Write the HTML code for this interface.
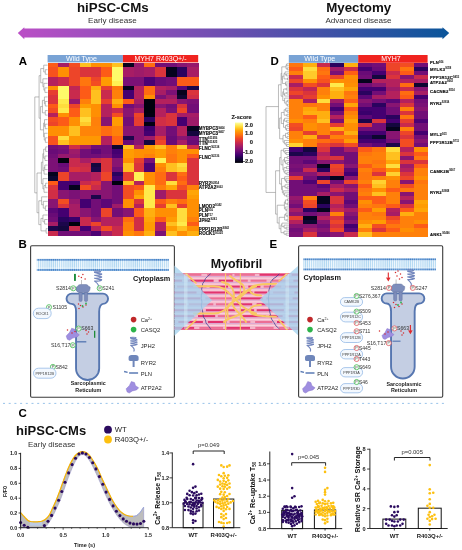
<!DOCTYPE html>
<html><head><meta charset="utf-8"><title>Figure</title>
<style>html,body{margin:0;padding:0;background:#fff;}body{width:462px;height:550px;overflow:hidden;}svg{display:block;}</style>
</head><body>
<svg width="462" height="550" viewBox="0 0 462 550">
<rect width="462" height="550" fill="#fff"/>
<defs><linearGradient id="ag" x1="17" x2="449" y1="0" y2="0" gradientUnits="userSpaceOnUse">
<stop offset="0" stop-color="#bb4fc6"/><stop offset="0.5" stop-color="#6a4fb0"/><stop offset="1" stop-color="#0a559a"/></linearGradient></defs>
<path d="M17.8 32.9 L24.3 27.2 L24.3 28.4 L442.5 28.4 L442.5 27.2 L449.2 32.9 L442.5 39.3 L442.5 37.4 L24.3 37.4 L24.3 39.3 Z" fill="url(#ag)"/>
<text x="112.8" y="11.9" text-anchor="middle" style="font-family:'Liberation Sans',Arial,sans-serif;font-weight:bold;font-size:13.3px" fill="#111">hiPSC-CMs</text>
<text x="112.4" y="23.4" text-anchor="middle" style="font-family:'Liberation Sans',Arial,sans-serif;font-size:8.1px" fill="#333">Early disease</text>
<text x="358.7" y="11.9" text-anchor="middle" style="font-family:'Liberation Sans',Arial,sans-serif;font-weight:bold;font-size:13.3px" fill="#111">Myectomy</text>
<text x="358.5" y="23.4" text-anchor="middle" style="font-family:'Liberation Sans',Arial,sans-serif;font-size:8.1px" fill="#333">Advanced disease</text>
<text x="18.8" y="64.7" style="font-family:'Liberation Sans',Arial,sans-serif;font-weight:bold;font-size:11.5px" fill="#000">A</text>
<text x="270.5" y="64.5" style="font-family:'Liberation Sans',Arial,sans-serif;font-weight:bold;font-size:11.5px" fill="#000">D</text>
<text x="18.5" y="248" style="font-family:'Liberation Sans',Arial,sans-serif;font-weight:bold;font-size:11.5px" fill="#000">B</text>
<text x="269.5" y="247.9" style="font-family:'Liberation Sans',Arial,sans-serif;font-weight:bold;font-size:11.5px" fill="#000">E</text>
<text x="18.5" y="416.8" style="font-family:'Liberation Sans',Arial,sans-serif;font-weight:bold;font-size:11.5px" fill="#000">C</text>
<g shape-rendering="crispEdges">
<rect x="47.60" y="62.90" width="11.06" height="4.84" fill="#fd5b17"/>
<rect x="58.36" y="62.90" width="11.06" height="4.84" fill="#a71d65"/>
<rect x="69.11" y="62.90" width="11.06" height="4.84" fill="#f34d22"/>
<rect x="79.87" y="62.90" width="11.06" height="4.84" fill="#ffc01f"/>
<rect x="90.63" y="62.90" width="11.06" height="4.84" fill="#ff8f03"/>
<rect x="101.38" y="62.90" width="11.06" height="4.84" fill="#ff8f03"/>
<rect x="112.14" y="62.90" width="11.06" height="4.84" fill="#ffc01f"/>
<rect x="122.90" y="62.90" width="11.06" height="4.84" fill="#05031d"/>
<rect x="133.66" y="62.90" width="11.06" height="4.84" fill="#96186d"/>
<rect x="144.41" y="62.90" width="11.06" height="4.84" fill="#ff6c11"/>
<rect x="155.17" y="62.90" width="11.06" height="4.84" fill="#720e77"/>
<rect x="165.93" y="62.90" width="11.06" height="4.84" fill="#720e77"/>
<rect x="176.68" y="62.90" width="11.06" height="4.84" fill="#881572"/>
<rect x="187.44" y="62.90" width="11.06" height="4.84" fill="#96186d"/>
<rect x="47.60" y="67.44" width="11.06" height="4.84" fill="#f7521e"/>
<rect x="58.36" y="67.44" width="11.06" height="4.84" fill="#ff8f03"/>
<rect x="69.11" y="67.44" width="11.06" height="4.84" fill="#ed4529"/>
<rect x="79.87" y="67.44" width="11.06" height="4.84" fill="#da343c"/>
<rect x="90.63" y="67.44" width="11.06" height="4.84" fill="#da343c"/>
<rect x="101.38" y="67.44" width="11.06" height="4.84" fill="#fd5b17"/>
<rect x="112.14" y="67.44" width="11.06" height="4.84" fill="#fefb69"/>
<rect x="122.90" y="67.44" width="11.06" height="4.84" fill="#a71d65"/>
<rect x="133.66" y="67.44" width="11.06" height="4.84" fill="#9e1b69"/>
<rect x="144.41" y="67.44" width="11.06" height="4.84" fill="#a71d65"/>
<rect x="155.17" y="67.44" width="11.06" height="4.84" fill="#da343c"/>
<rect x="165.93" y="67.44" width="11.06" height="4.84" fill="#05031d"/>
<rect x="176.68" y="67.44" width="11.06" height="4.84" fill="#2a035f"/>
<rect x="187.44" y="67.44" width="11.06" height="4.84" fill="#a71d65"/>
<rect x="47.60" y="71.98" width="11.06" height="4.84" fill="#f7521e"/>
<rect x="58.36" y="71.98" width="11.06" height="4.84" fill="#ff8f03"/>
<rect x="69.11" y="71.98" width="11.06" height="4.84" fill="#ed4529"/>
<rect x="79.87" y="71.98" width="11.06" height="4.84" fill="#da343c"/>
<rect x="90.63" y="71.98" width="11.06" height="4.84" fill="#da343c"/>
<rect x="101.38" y="71.98" width="11.06" height="4.84" fill="#fd5b17"/>
<rect x="112.14" y="71.98" width="11.06" height="4.84" fill="#fefb69"/>
<rect x="122.90" y="71.98" width="11.06" height="4.84" fill="#a71d65"/>
<rect x="133.66" y="71.98" width="11.06" height="4.84" fill="#9e1b69"/>
<rect x="144.41" y="71.98" width="11.06" height="4.84" fill="#a71d65"/>
<rect x="155.17" y="71.98" width="11.06" height="4.84" fill="#da343c"/>
<rect x="165.93" y="71.98" width="11.06" height="4.84" fill="#05031d"/>
<rect x="176.68" y="71.98" width="11.06" height="4.84" fill="#2a035f"/>
<rect x="187.44" y="71.98" width="11.06" height="4.84" fill="#a71d65"/>
<rect x="47.60" y="76.52" width="11.06" height="4.84" fill="#b4215d"/>
<rect x="58.36" y="76.52" width="11.06" height="4.84" fill="#c92a4d"/>
<rect x="69.11" y="76.52" width="11.06" height="4.84" fill="#ed4529"/>
<rect x="79.87" y="76.52" width="11.06" height="4.84" fill="#ff760e"/>
<rect x="90.63" y="76.52" width="11.06" height="4.84" fill="#ed4529"/>
<rect x="101.38" y="76.52" width="11.06" height="4.84" fill="#ff9c02"/>
<rect x="112.14" y="76.52" width="11.06" height="4.84" fill="#fefb69"/>
<rect x="122.90" y="76.52" width="11.06" height="4.84" fill="#7b1176"/>
<rect x="133.66" y="76.52" width="11.06" height="4.84" fill="#7b1176"/>
<rect x="144.41" y="76.52" width="11.06" height="4.84" fill="#4d0274"/>
<rect x="155.17" y="76.52" width="11.06" height="4.84" fill="#690b77"/>
<rect x="165.93" y="76.52" width="11.06" height="4.84" fill="#720e77"/>
<rect x="176.68" y="76.52" width="11.06" height="4.84" fill="#fd5b17"/>
<rect x="187.44" y="76.52" width="11.06" height="4.84" fill="#fd5b17"/>
<rect x="47.60" y="81.06" width="11.06" height="4.84" fill="#b4215d"/>
<rect x="58.36" y="81.06" width="11.06" height="4.84" fill="#c92a4d"/>
<rect x="69.11" y="81.06" width="11.06" height="4.84" fill="#ed4529"/>
<rect x="79.87" y="81.06" width="11.06" height="4.84" fill="#ff760e"/>
<rect x="90.63" y="81.06" width="11.06" height="4.84" fill="#f34d22"/>
<rect x="101.38" y="81.06" width="11.06" height="4.84" fill="#ff9c02"/>
<rect x="112.14" y="81.06" width="11.06" height="4.84" fill="#fff154"/>
<rect x="122.90" y="81.06" width="11.06" height="4.84" fill="#7b1176"/>
<rect x="133.66" y="81.06" width="11.06" height="4.84" fill="#7b1176"/>
<rect x="144.41" y="81.06" width="11.06" height="4.84" fill="#4d0274"/>
<rect x="155.17" y="81.06" width="11.06" height="4.84" fill="#690b77"/>
<rect x="165.93" y="81.06" width="11.06" height="4.84" fill="#720e77"/>
<rect x="176.68" y="81.06" width="11.06" height="4.84" fill="#fd5b17"/>
<rect x="187.44" y="81.06" width="11.06" height="4.84" fill="#fd5b17"/>
<rect x="47.60" y="85.60" width="11.06" height="4.84" fill="#ff8f03"/>
<rect x="58.36" y="85.60" width="11.06" height="4.84" fill="#fefb69"/>
<rect x="69.11" y="85.60" width="11.06" height="4.84" fill="#bf2655"/>
<rect x="79.87" y="85.60" width="11.06" height="4.84" fill="#fd5b17"/>
<rect x="90.63" y="85.60" width="11.06" height="4.84" fill="#ffaf0f"/>
<rect x="101.38" y="85.60" width="11.06" height="4.84" fill="#e63e30"/>
<rect x="112.14" y="85.60" width="11.06" height="4.84" fill="#ff760e"/>
<rect x="122.90" y="85.60" width="11.06" height="4.84" fill="#05031d"/>
<rect x="133.66" y="85.60" width="11.06" height="4.84" fill="#b4215d"/>
<rect x="144.41" y="85.60" width="11.06" height="4.84" fill="#ff6c11"/>
<rect x="155.17" y="85.60" width="11.06" height="4.84" fill="#b4215d"/>
<rect x="165.93" y="85.60" width="11.06" height="4.84" fill="#a71d65"/>
<rect x="176.68" y="85.60" width="11.06" height="4.84" fill="#5c0777"/>
<rect x="187.44" y="85.60" width="11.06" height="4.84" fill="#1c064b"/>
<rect x="47.60" y="90.14" width="11.06" height="4.84" fill="#e63e30"/>
<rect x="58.36" y="90.14" width="11.06" height="4.84" fill="#fefb69"/>
<rect x="69.11" y="90.14" width="11.06" height="4.84" fill="#c92a4d"/>
<rect x="79.87" y="90.14" width="11.06" height="4.84" fill="#fd5b17"/>
<rect x="90.63" y="90.14" width="11.06" height="4.84" fill="#ffc01f"/>
<rect x="101.38" y="90.14" width="11.06" height="4.84" fill="#c92a4d"/>
<rect x="112.14" y="90.14" width="11.06" height="4.84" fill="#ff800a"/>
<rect x="122.90" y="90.14" width="11.06" height="4.84" fill="#440071"/>
<rect x="133.66" y="90.14" width="11.06" height="4.84" fill="#b4215d"/>
<rect x="144.41" y="90.14" width="11.06" height="4.84" fill="#ff6c11"/>
<rect x="155.17" y="90.14" width="11.06" height="4.84" fill="#a71d65"/>
<rect x="165.93" y="90.14" width="11.06" height="4.84" fill="#7b1176"/>
<rect x="176.68" y="90.14" width="11.06" height="4.84" fill="#05031d"/>
<rect x="187.44" y="90.14" width="11.06" height="4.84" fill="#da343c"/>
<rect x="47.60" y="94.68" width="11.06" height="4.84" fill="#da343c"/>
<rect x="58.36" y="94.68" width="11.06" height="4.84" fill="#fefb69"/>
<rect x="69.11" y="94.68" width="11.06" height="4.84" fill="#c92a4d"/>
<rect x="79.87" y="94.68" width="11.06" height="4.84" fill="#fd5b17"/>
<rect x="90.63" y="94.68" width="11.06" height="4.84" fill="#ffc01f"/>
<rect x="101.38" y="94.68" width="11.06" height="4.84" fill="#c92a4d"/>
<rect x="112.14" y="94.68" width="11.06" height="4.84" fill="#ff800a"/>
<rect x="122.90" y="94.68" width="11.06" height="4.84" fill="#440071"/>
<rect x="133.66" y="94.68" width="11.06" height="4.84" fill="#b4215d"/>
<rect x="144.41" y="94.68" width="11.06" height="4.84" fill="#ff8f03"/>
<rect x="155.17" y="94.68" width="11.06" height="4.84" fill="#7b1176"/>
<rect x="165.93" y="94.68" width="11.06" height="4.84" fill="#9e1b69"/>
<rect x="176.68" y="94.68" width="11.06" height="4.84" fill="#0d0631"/>
<rect x="187.44" y="94.68" width="11.06" height="4.84" fill="#d02e46"/>
<rect x="47.60" y="99.22" width="11.06" height="4.84" fill="#da343c"/>
<rect x="58.36" y="99.22" width="11.06" height="4.84" fill="#ffea4b"/>
<rect x="69.11" y="99.22" width="11.06" height="4.84" fill="#96186d"/>
<rect x="79.87" y="99.22" width="11.06" height="4.84" fill="#ff800a"/>
<rect x="90.63" y="99.22" width="11.06" height="4.84" fill="#ffc01f"/>
<rect x="101.38" y="99.22" width="11.06" height="4.84" fill="#e63e30"/>
<rect x="112.14" y="99.22" width="11.06" height="4.84" fill="#ffaf0f"/>
<rect x="122.90" y="99.22" width="11.06" height="4.84" fill="#fd5b17"/>
<rect x="133.66" y="99.22" width="11.06" height="4.84" fill="#a71d65"/>
<rect x="144.41" y="99.22" width="11.06" height="4.84" fill="#01010d"/>
<rect x="155.17" y="99.22" width="11.06" height="4.84" fill="#b4215d"/>
<rect x="165.93" y="99.22" width="11.06" height="4.84" fill="#b4215d"/>
<rect x="176.68" y="99.22" width="11.06" height="4.84" fill="#881572"/>
<rect x="187.44" y="99.22" width="11.06" height="4.84" fill="#7b1176"/>
<rect x="47.60" y="103.76" width="11.06" height="4.84" fill="#fd5b17"/>
<rect x="58.36" y="103.76" width="11.06" height="4.84" fill="#ffdd3d"/>
<rect x="69.11" y="103.76" width="11.06" height="4.84" fill="#ed4529"/>
<rect x="79.87" y="103.76" width="11.06" height="4.84" fill="#ff9c02"/>
<rect x="90.63" y="103.76" width="11.06" height="4.84" fill="#ff8f03"/>
<rect x="101.38" y="103.76" width="11.06" height="4.84" fill="#b4215d"/>
<rect x="112.14" y="103.76" width="11.06" height="4.84" fill="#ff8f03"/>
<rect x="122.90" y="103.76" width="11.06" height="4.84" fill="#720e77"/>
<rect x="133.66" y="103.76" width="11.06" height="4.84" fill="#881572"/>
<rect x="144.41" y="103.76" width="11.06" height="4.84" fill="#01010d"/>
<rect x="155.17" y="103.76" width="11.06" height="4.84" fill="#881572"/>
<rect x="165.93" y="103.76" width="11.06" height="4.84" fill="#720e77"/>
<rect x="176.68" y="103.76" width="11.06" height="4.84" fill="#da343c"/>
<rect x="187.44" y="103.76" width="11.06" height="4.84" fill="#720e77"/>
<rect x="47.60" y="108.30" width="11.06" height="4.84" fill="#f34d22"/>
<rect x="58.36" y="108.30" width="11.06" height="4.84" fill="#ffea4b"/>
<rect x="69.11" y="108.30" width="11.06" height="4.84" fill="#fd5b17"/>
<rect x="79.87" y="108.30" width="11.06" height="4.84" fill="#ffc01f"/>
<rect x="90.63" y="108.30" width="11.06" height="4.84" fill="#ff8f03"/>
<rect x="101.38" y="108.30" width="11.06" height="4.84" fill="#b4215d"/>
<rect x="112.14" y="108.30" width="11.06" height="4.84" fill="#c92a4d"/>
<rect x="122.90" y="108.30" width="11.06" height="4.84" fill="#881572"/>
<rect x="133.66" y="108.30" width="11.06" height="4.84" fill="#a71d65"/>
<rect x="144.41" y="108.30" width="11.06" height="4.84" fill="#01010d"/>
<rect x="155.17" y="108.30" width="11.06" height="4.84" fill="#b4215d"/>
<rect x="165.93" y="108.30" width="11.06" height="4.84" fill="#7b1176"/>
<rect x="176.68" y="108.30" width="11.06" height="4.84" fill="#ed4529"/>
<rect x="187.44" y="108.30" width="11.06" height="4.84" fill="#720e77"/>
<rect x="47.60" y="112.84" width="11.06" height="4.84" fill="#b4215d"/>
<rect x="58.36" y="112.84" width="11.06" height="4.84" fill="#ff8f03"/>
<rect x="69.11" y="112.84" width="11.06" height="4.84" fill="#fd5b17"/>
<rect x="79.87" y="112.84" width="11.06" height="4.84" fill="#ffc01f"/>
<rect x="90.63" y="112.84" width="11.06" height="4.84" fill="#ff8f03"/>
<rect x="101.38" y="112.84" width="11.06" height="4.84" fill="#b4215d"/>
<rect x="112.14" y="112.84" width="11.06" height="4.84" fill="#f34d22"/>
<rect x="122.90" y="112.84" width="11.06" height="4.84" fill="#881572"/>
<rect x="133.66" y="112.84" width="11.06" height="4.84" fill="#ed4529"/>
<rect x="144.41" y="112.84" width="11.06" height="4.84" fill="#020112"/>
<rect x="155.17" y="112.84" width="11.06" height="4.84" fill="#b4215d"/>
<rect x="165.93" y="112.84" width="11.06" height="4.84" fill="#da343c"/>
<rect x="176.68" y="112.84" width="11.06" height="4.84" fill="#a71d65"/>
<rect x="187.44" y="112.84" width="11.06" height="4.84" fill="#a71d65"/>
<rect x="47.60" y="117.38" width="11.06" height="4.84" fill="#f34d22"/>
<rect x="58.36" y="117.38" width="11.06" height="4.84" fill="#fd5b17"/>
<rect x="69.11" y="117.38" width="11.06" height="4.84" fill="#ff8f03"/>
<rect x="79.87" y="117.38" width="11.06" height="4.84" fill="#ffdd3d"/>
<rect x="90.63" y="117.38" width="11.06" height="4.84" fill="#ff800a"/>
<rect x="101.38" y="117.38" width="11.06" height="4.84" fill="#881572"/>
<rect x="112.14" y="117.38" width="11.06" height="4.84" fill="#ff9c02"/>
<rect x="122.90" y="117.38" width="11.06" height="4.84" fill="#720e77"/>
<rect x="133.66" y="117.38" width="11.06" height="4.84" fill="#e63e30"/>
<rect x="144.41" y="117.38" width="11.06" height="4.84" fill="#2a035f"/>
<rect x="155.17" y="117.38" width="11.06" height="4.84" fill="#d02e46"/>
<rect x="165.93" y="117.38" width="11.06" height="4.84" fill="#da343c"/>
<rect x="176.68" y="117.38" width="11.06" height="4.84" fill="#440071"/>
<rect x="187.44" y="117.38" width="11.06" height="4.84" fill="#9e1b69"/>
<rect x="47.60" y="121.92" width="11.06" height="4.84" fill="#ed4529"/>
<rect x="58.36" y="121.92" width="11.06" height="4.84" fill="#fd5b17"/>
<rect x="69.11" y="121.92" width="11.06" height="4.84" fill="#ff8f03"/>
<rect x="79.87" y="121.92" width="11.06" height="4.84" fill="#ffca2a"/>
<rect x="90.63" y="121.92" width="11.06" height="4.84" fill="#ff800a"/>
<rect x="101.38" y="121.92" width="11.06" height="4.84" fill="#881572"/>
<rect x="112.14" y="121.92" width="11.06" height="4.84" fill="#ff9c02"/>
<rect x="122.90" y="121.92" width="11.06" height="4.84" fill="#720e77"/>
<rect x="133.66" y="121.92" width="11.06" height="4.84" fill="#e63e30"/>
<rect x="144.41" y="121.92" width="11.06" height="4.84" fill="#020112"/>
<rect x="155.17" y="121.92" width="11.06" height="4.84" fill="#d02e46"/>
<rect x="165.93" y="121.92" width="11.06" height="4.84" fill="#da343c"/>
<rect x="176.68" y="121.92" width="11.06" height="4.84" fill="#440071"/>
<rect x="187.44" y="121.92" width="11.06" height="4.84" fill="#9e1b69"/>
<rect x="47.60" y="126.46" width="11.06" height="4.84" fill="#ff8f03"/>
<rect x="58.36" y="126.46" width="11.06" height="4.84" fill="#ff8f03"/>
<rect x="69.11" y="126.46" width="11.06" height="4.84" fill="#ffc01f"/>
<rect x="79.87" y="126.46" width="11.06" height="4.84" fill="#ff8408"/>
<rect x="90.63" y="126.46" width="11.06" height="4.84" fill="#ff8408"/>
<rect x="101.38" y="126.46" width="11.06" height="4.84" fill="#ff6c11"/>
<rect x="112.14" y="126.46" width="11.06" height="4.84" fill="#ff800a"/>
<rect x="122.90" y="126.46" width="11.06" height="4.84" fill="#881572"/>
<rect x="133.66" y="126.46" width="11.06" height="4.84" fill="#881572"/>
<rect x="144.41" y="126.46" width="11.06" height="4.84" fill="#3a006c"/>
<rect x="155.17" y="126.46" width="11.06" height="4.84" fill="#a71d65"/>
<rect x="165.93" y="126.46" width="11.06" height="4.84" fill="#720e77"/>
<rect x="176.68" y="126.46" width="11.06" height="4.84" fill="#b4215d"/>
<rect x="187.44" y="126.46" width="11.06" height="4.84" fill="#05031d"/>
<rect x="47.60" y="131.00" width="11.06" height="4.84" fill="#ff8f03"/>
<rect x="58.36" y="131.00" width="11.06" height="4.84" fill="#ff8f03"/>
<rect x="69.11" y="131.00" width="11.06" height="4.84" fill="#ffc01f"/>
<rect x="79.87" y="131.00" width="11.06" height="4.84" fill="#ff8408"/>
<rect x="90.63" y="131.00" width="11.06" height="4.84" fill="#ff8408"/>
<rect x="101.38" y="131.00" width="11.06" height="4.84" fill="#ff6c11"/>
<rect x="112.14" y="131.00" width="11.06" height="4.84" fill="#ff800a"/>
<rect x="122.90" y="131.00" width="11.06" height="4.84" fill="#881572"/>
<rect x="133.66" y="131.00" width="11.06" height="4.84" fill="#881572"/>
<rect x="144.41" y="131.00" width="11.06" height="4.84" fill="#440071"/>
<rect x="155.17" y="131.00" width="11.06" height="4.84" fill="#a71d65"/>
<rect x="165.93" y="131.00" width="11.06" height="4.84" fill="#720e77"/>
<rect x="176.68" y="131.00" width="11.06" height="4.84" fill="#b4215d"/>
<rect x="187.44" y="131.00" width="11.06" height="4.84" fill="#14073e"/>
<rect x="47.60" y="135.54" width="11.06" height="4.84" fill="#f7521e"/>
<rect x="58.36" y="135.54" width="11.06" height="4.84" fill="#ffdd3d"/>
<rect x="69.11" y="135.54" width="11.06" height="4.84" fill="#ff9802"/>
<rect x="79.87" y="135.54" width="11.06" height="4.84" fill="#ff9802"/>
<rect x="90.63" y="135.54" width="11.06" height="4.84" fill="#ff9802"/>
<rect x="101.38" y="135.54" width="11.06" height="4.84" fill="#b4215d"/>
<rect x="112.14" y="135.54" width="11.06" height="4.84" fill="#ff6513"/>
<rect x="122.90" y="135.54" width="11.06" height="4.84" fill="#1c064b"/>
<rect x="133.66" y="135.54" width="11.06" height="4.84" fill="#881572"/>
<rect x="144.41" y="135.54" width="11.06" height="4.84" fill="#9e1b69"/>
<rect x="155.17" y="135.54" width="11.06" height="4.84" fill="#da343c"/>
<rect x="165.93" y="135.54" width="11.06" height="4.84" fill="#690b77"/>
<rect x="176.68" y="135.54" width="11.06" height="4.84" fill="#881572"/>
<rect x="187.44" y="135.54" width="11.06" height="4.84" fill="#720e77"/>
<rect x="47.60" y="140.08" width="11.06" height="4.84" fill="#f7521e"/>
<rect x="58.36" y="140.08" width="11.06" height="4.84" fill="#ffc01f"/>
<rect x="69.11" y="140.08" width="11.06" height="4.84" fill="#ff9802"/>
<rect x="79.87" y="140.08" width="11.06" height="4.84" fill="#ff9802"/>
<rect x="90.63" y="140.08" width="11.06" height="4.84" fill="#ff9802"/>
<rect x="101.38" y="140.08" width="11.06" height="4.84" fill="#b4215d"/>
<rect x="112.14" y="140.08" width="11.06" height="4.84" fill="#ff6513"/>
<rect x="122.90" y="140.08" width="11.06" height="4.84" fill="#690b77"/>
<rect x="133.66" y="140.08" width="11.06" height="4.84" fill="#881572"/>
<rect x="144.41" y="140.08" width="11.06" height="4.84" fill="#14073e"/>
<rect x="155.17" y="140.08" width="11.06" height="4.84" fill="#ed4529"/>
<rect x="165.93" y="140.08" width="11.06" height="4.84" fill="#690b77"/>
<rect x="176.68" y="140.08" width="11.06" height="4.84" fill="#a71d65"/>
<rect x="187.44" y="140.08" width="11.06" height="4.84" fill="#690b77"/>
<rect x="47.60" y="144.62" width="11.06" height="4.84" fill="#720e77"/>
<rect x="58.36" y="144.62" width="11.06" height="4.84" fill="#7b1176"/>
<rect x="69.11" y="144.62" width="11.06" height="4.84" fill="#d02e46"/>
<rect x="79.87" y="144.62" width="11.06" height="4.84" fill="#a71d65"/>
<rect x="90.63" y="144.62" width="11.06" height="4.84" fill="#720e77"/>
<rect x="101.38" y="144.62" width="11.06" height="4.84" fill="#720e77"/>
<rect x="112.14" y="144.62" width="11.06" height="4.84" fill="#0d0631"/>
<rect x="122.90" y="144.62" width="11.06" height="4.84" fill="#ffc01f"/>
<rect x="133.66" y="144.62" width="11.06" height="4.84" fill="#b4215d"/>
<rect x="144.41" y="144.62" width="11.06" height="4.84" fill="#ff9c02"/>
<rect x="155.17" y="144.62" width="11.06" height="4.84" fill="#ffc01f"/>
<rect x="165.93" y="144.62" width="11.06" height="4.84" fill="#ff800a"/>
<rect x="176.68" y="144.62" width="11.06" height="4.84" fill="#ffca2a"/>
<rect x="187.44" y="144.62" width="11.06" height="4.84" fill="#c92a4d"/>
<rect x="47.60" y="149.16" width="11.06" height="4.84" fill="#690b77"/>
<rect x="58.36" y="149.16" width="11.06" height="4.84" fill="#720e77"/>
<rect x="69.11" y="149.16" width="11.06" height="4.84" fill="#9e1b69"/>
<rect x="79.87" y="149.16" width="11.06" height="4.84" fill="#720e77"/>
<rect x="90.63" y="149.16" width="11.06" height="4.84" fill="#5c0777"/>
<rect x="101.38" y="149.16" width="11.06" height="4.84" fill="#720e77"/>
<rect x="112.14" y="149.16" width="11.06" height="4.84" fill="#440071"/>
<rect x="122.90" y="149.16" width="11.06" height="4.84" fill="#ff9c02"/>
<rect x="133.66" y="149.16" width="11.06" height="4.84" fill="#ff8f03"/>
<rect x="144.41" y="149.16" width="11.06" height="4.84" fill="#ff8f03"/>
<rect x="155.17" y="149.16" width="11.06" height="4.84" fill="#ff9c02"/>
<rect x="165.93" y="149.16" width="11.06" height="4.84" fill="#ff800a"/>
<rect x="176.68" y="149.16" width="11.06" height="4.84" fill="#ff8f03"/>
<rect x="187.44" y="149.16" width="11.06" height="4.84" fill="#ff8f03"/>
<rect x="47.60" y="153.70" width="11.06" height="4.84" fill="#720e77"/>
<rect x="58.36" y="153.70" width="11.06" height="4.84" fill="#96186d"/>
<rect x="69.11" y="153.70" width="11.06" height="4.84" fill="#96186d"/>
<rect x="79.87" y="153.70" width="11.06" height="4.84" fill="#720e77"/>
<rect x="90.63" y="153.70" width="11.06" height="4.84" fill="#720e77"/>
<rect x="101.38" y="153.70" width="11.06" height="4.84" fill="#7b1176"/>
<rect x="112.14" y="153.70" width="11.06" height="4.84" fill="#4d0274"/>
<rect x="122.90" y="153.70" width="11.06" height="4.84" fill="#ff9c02"/>
<rect x="133.66" y="153.70" width="11.06" height="4.84" fill="#ff8f03"/>
<rect x="144.41" y="153.70" width="11.06" height="4.84" fill="#ff800a"/>
<rect x="155.17" y="153.70" width="11.06" height="4.84" fill="#ff9c02"/>
<rect x="165.93" y="153.70" width="11.06" height="4.84" fill="#ff760e"/>
<rect x="176.68" y="153.70" width="11.06" height="4.84" fill="#ff8f03"/>
<rect x="187.44" y="153.70" width="11.06" height="4.84" fill="#fd5b17"/>
<rect x="47.60" y="158.24" width="11.06" height="4.84" fill="#7b1176"/>
<rect x="58.36" y="158.24" width="11.06" height="4.84" fill="#01010d"/>
<rect x="69.11" y="158.24" width="11.06" height="4.84" fill="#c92a4d"/>
<rect x="79.87" y="158.24" width="11.06" height="4.84" fill="#a71d65"/>
<rect x="90.63" y="158.24" width="11.06" height="4.84" fill="#c92a4d"/>
<rect x="101.38" y="158.24" width="11.06" height="4.84" fill="#da343c"/>
<rect x="112.14" y="158.24" width="11.06" height="4.84" fill="#881572"/>
<rect x="122.90" y="158.24" width="11.06" height="4.84" fill="#ff8f03"/>
<rect x="133.66" y="158.24" width="11.06" height="4.84" fill="#e63e30"/>
<rect x="144.41" y="158.24" width="11.06" height="4.84" fill="#7b1176"/>
<rect x="155.17" y="158.24" width="11.06" height="4.84" fill="#fff154"/>
<rect x="165.93" y="158.24" width="11.06" height="4.84" fill="#ff760e"/>
<rect x="176.68" y="158.24" width="11.06" height="4.84" fill="#ff8f03"/>
<rect x="187.44" y="158.24" width="11.06" height="4.84" fill="#da343c"/>
<rect x="47.60" y="162.78" width="11.06" height="4.84" fill="#7b1176"/>
<rect x="58.36" y="162.78" width="11.06" height="4.84" fill="#690b77"/>
<rect x="69.11" y="162.78" width="11.06" height="4.84" fill="#c92a4d"/>
<rect x="79.87" y="162.78" width="11.06" height="4.84" fill="#c92a4d"/>
<rect x="90.63" y="162.78" width="11.06" height="4.84" fill="#14073e"/>
<rect x="101.38" y="162.78" width="11.06" height="4.84" fill="#da343c"/>
<rect x="112.14" y="162.78" width="11.06" height="4.84" fill="#881572"/>
<rect x="122.90" y="162.78" width="11.06" height="4.84" fill="#ffc01f"/>
<rect x="133.66" y="162.78" width="11.06" height="4.84" fill="#da343c"/>
<rect x="144.41" y="162.78" width="11.06" height="4.84" fill="#4d0274"/>
<rect x="155.17" y="162.78" width="11.06" height="4.84" fill="#ff8f03"/>
<rect x="165.93" y="162.78" width="11.06" height="4.84" fill="#ffc01f"/>
<rect x="176.68" y="162.78" width="11.06" height="4.84" fill="#ffdd3d"/>
<rect x="187.44" y="162.78" width="11.06" height="4.84" fill="#da343c"/>
<rect x="47.60" y="167.32" width="11.06" height="4.84" fill="#7b1176"/>
<rect x="58.36" y="167.32" width="11.06" height="4.84" fill="#720e77"/>
<rect x="69.11" y="167.32" width="11.06" height="4.84" fill="#da343c"/>
<rect x="79.87" y="167.32" width="11.06" height="4.84" fill="#d02e46"/>
<rect x="90.63" y="167.32" width="11.06" height="4.84" fill="#1c064b"/>
<rect x="101.38" y="167.32" width="11.06" height="4.84" fill="#da343c"/>
<rect x="112.14" y="167.32" width="11.06" height="4.84" fill="#720e77"/>
<rect x="122.90" y="167.32" width="11.06" height="4.84" fill="#ffc01f"/>
<rect x="133.66" y="167.32" width="11.06" height="4.84" fill="#da343c"/>
<rect x="144.41" y="167.32" width="11.06" height="4.84" fill="#4d0274"/>
<rect x="155.17" y="167.32" width="11.06" height="4.84" fill="#ff800a"/>
<rect x="165.93" y="167.32" width="11.06" height="4.84" fill="#ffc01f"/>
<rect x="176.68" y="167.32" width="11.06" height="4.84" fill="#ffd130"/>
<rect x="187.44" y="167.32" width="11.06" height="4.84" fill="#da343c"/>
<rect x="47.60" y="171.86" width="11.06" height="4.84" fill="#05031d"/>
<rect x="58.36" y="171.86" width="11.06" height="4.84" fill="#ed4529"/>
<rect x="69.11" y="171.86" width="11.06" height="4.84" fill="#a71d65"/>
<rect x="79.87" y="171.86" width="11.06" height="4.84" fill="#a71d65"/>
<rect x="90.63" y="171.86" width="11.06" height="4.84" fill="#b4215d"/>
<rect x="101.38" y="171.86" width="11.06" height="4.84" fill="#ed4529"/>
<rect x="112.14" y="171.86" width="11.06" height="4.84" fill="#2a035f"/>
<rect x="122.90" y="171.86" width="11.06" height="4.84" fill="#e63e30"/>
<rect x="133.66" y="171.86" width="11.06" height="4.84" fill="#fff154"/>
<rect x="144.41" y="171.86" width="11.06" height="4.84" fill="#ff8f03"/>
<rect x="155.17" y="171.86" width="11.06" height="4.84" fill="#ff6c11"/>
<rect x="165.93" y="171.86" width="11.06" height="4.84" fill="#da343c"/>
<rect x="176.68" y="171.86" width="11.06" height="4.84" fill="#ff6c11"/>
<rect x="187.44" y="171.86" width="11.06" height="4.84" fill="#da343c"/>
<rect x="47.60" y="176.40" width="11.06" height="4.84" fill="#0d0631"/>
<rect x="58.36" y="176.40" width="11.06" height="4.84" fill="#ed4529"/>
<rect x="69.11" y="176.40" width="11.06" height="4.84" fill="#a71d65"/>
<rect x="79.87" y="176.40" width="11.06" height="4.84" fill="#a71d65"/>
<rect x="90.63" y="176.40" width="11.06" height="4.84" fill="#b4215d"/>
<rect x="101.38" y="176.40" width="11.06" height="4.84" fill="#ed4529"/>
<rect x="112.14" y="176.40" width="11.06" height="4.84" fill="#440071"/>
<rect x="122.90" y="176.40" width="11.06" height="4.84" fill="#e63e30"/>
<rect x="133.66" y="176.40" width="11.06" height="4.84" fill="#fff154"/>
<rect x="144.41" y="176.40" width="11.06" height="4.84" fill="#ff8f03"/>
<rect x="155.17" y="176.40" width="11.06" height="4.84" fill="#ff6c11"/>
<rect x="165.93" y="176.40" width="11.06" height="4.84" fill="#da343c"/>
<rect x="176.68" y="176.40" width="11.06" height="4.84" fill="#fd5b17"/>
<rect x="187.44" y="176.40" width="11.06" height="4.84" fill="#da343c"/>
<rect x="47.60" y="180.94" width="11.06" height="4.84" fill="#fd5b17"/>
<rect x="58.36" y="180.94" width="11.06" height="4.84" fill="#440071"/>
<rect x="69.11" y="180.94" width="11.06" height="4.84" fill="#440071"/>
<rect x="79.87" y="180.94" width="11.06" height="4.84" fill="#c92a4d"/>
<rect x="90.63" y="180.94" width="11.06" height="4.84" fill="#da343c"/>
<rect x="101.38" y="180.94" width="11.06" height="4.84" fill="#881572"/>
<rect x="112.14" y="180.94" width="11.06" height="4.84" fill="#01010d"/>
<rect x="122.90" y="180.94" width="11.06" height="4.84" fill="#ffc01f"/>
<rect x="133.66" y="180.94" width="11.06" height="4.84" fill="#b4215d"/>
<rect x="144.41" y="180.94" width="11.06" height="4.84" fill="#ff8f03"/>
<rect x="155.17" y="180.94" width="11.06" height="4.84" fill="#ff6c11"/>
<rect x="165.93" y="180.94" width="11.06" height="4.84" fill="#ffdd3d"/>
<rect x="176.68" y="180.94" width="11.06" height="4.84" fill="#ff6c11"/>
<rect x="187.44" y="180.94" width="11.06" height="4.84" fill="#da343c"/>
<rect x="47.60" y="185.48" width="11.06" height="4.84" fill="#da343c"/>
<rect x="58.36" y="185.48" width="11.06" height="4.84" fill="#440071"/>
<rect x="69.11" y="185.48" width="11.06" height="4.84" fill="#05031d"/>
<rect x="79.87" y="185.48" width="11.06" height="4.84" fill="#f34d22"/>
<rect x="90.63" y="185.48" width="11.06" height="4.84" fill="#c92a4d"/>
<rect x="101.38" y="185.48" width="11.06" height="4.84" fill="#881572"/>
<rect x="112.14" y="185.48" width="11.06" height="4.84" fill="#720e77"/>
<rect x="122.90" y="185.48" width="11.06" height="4.84" fill="#f34d22"/>
<rect x="133.66" y="185.48" width="11.06" height="4.84" fill="#fd5b17"/>
<rect x="144.41" y="185.48" width="11.06" height="4.84" fill="#ffea4b"/>
<rect x="155.17" y="185.48" width="11.06" height="4.84" fill="#ff800a"/>
<rect x="165.93" y="185.48" width="11.06" height="4.84" fill="#ffa507"/>
<rect x="176.68" y="185.48" width="11.06" height="4.84" fill="#f34d22"/>
<rect x="187.44" y="185.48" width="11.06" height="4.84" fill="#ff800a"/>
<rect x="47.60" y="190.02" width="11.06" height="4.84" fill="#d02e46"/>
<rect x="58.36" y="190.02" width="11.06" height="4.84" fill="#881572"/>
<rect x="69.11" y="190.02" width="11.06" height="4.84" fill="#7b1176"/>
<rect x="79.87" y="190.02" width="11.06" height="4.84" fill="#881572"/>
<rect x="90.63" y="190.02" width="11.06" height="4.84" fill="#881572"/>
<rect x="101.38" y="190.02" width="11.06" height="4.84" fill="#881572"/>
<rect x="112.14" y="190.02" width="11.06" height="4.84" fill="#720e77"/>
<rect x="122.90" y="190.02" width="11.06" height="4.84" fill="#f34d22"/>
<rect x="133.66" y="190.02" width="11.06" height="4.84" fill="#ff8f03"/>
<rect x="144.41" y="190.02" width="11.06" height="4.84" fill="#ffea4b"/>
<rect x="155.17" y="190.02" width="11.06" height="4.84" fill="#9e1b69"/>
<rect x="165.93" y="190.02" width="11.06" height="4.84" fill="#da343c"/>
<rect x="176.68" y="190.02" width="11.06" height="4.84" fill="#da343c"/>
<rect x="187.44" y="190.02" width="11.06" height="4.84" fill="#ffa507"/>
<rect x="47.60" y="194.56" width="11.06" height="4.84" fill="#d02e46"/>
<rect x="58.36" y="194.56" width="11.06" height="4.84" fill="#881572"/>
<rect x="69.11" y="194.56" width="11.06" height="4.84" fill="#7b1176"/>
<rect x="79.87" y="194.56" width="11.06" height="4.84" fill="#881572"/>
<rect x="90.63" y="194.56" width="11.06" height="4.84" fill="#1c064b"/>
<rect x="101.38" y="194.56" width="11.06" height="4.84" fill="#881572"/>
<rect x="112.14" y="194.56" width="11.06" height="4.84" fill="#720e77"/>
<rect x="122.90" y="194.56" width="11.06" height="4.84" fill="#f34d22"/>
<rect x="133.66" y="194.56" width="11.06" height="4.84" fill="#ffa507"/>
<rect x="144.41" y="194.56" width="11.06" height="4.84" fill="#ffea4b"/>
<rect x="155.17" y="194.56" width="11.06" height="4.84" fill="#9e1b69"/>
<rect x="165.93" y="194.56" width="11.06" height="4.84" fill="#da343c"/>
<rect x="176.68" y="194.56" width="11.06" height="4.84" fill="#da343c"/>
<rect x="187.44" y="194.56" width="11.06" height="4.84" fill="#ff9c02"/>
<rect x="47.60" y="199.10" width="11.06" height="4.84" fill="#881572"/>
<rect x="58.36" y="199.10" width="11.06" height="4.84" fill="#f34d22"/>
<rect x="69.11" y="199.10" width="11.06" height="4.84" fill="#96186d"/>
<rect x="79.87" y="199.10" width="11.06" height="4.84" fill="#440071"/>
<rect x="90.63" y="199.10" width="11.06" height="4.84" fill="#720e77"/>
<rect x="101.38" y="199.10" width="11.06" height="4.84" fill="#5c0777"/>
<rect x="112.14" y="199.10" width="11.06" height="4.84" fill="#720e77"/>
<rect x="122.90" y="199.10" width="11.06" height="4.84" fill="#ff8f03"/>
<rect x="133.66" y="199.10" width="11.06" height="4.84" fill="#da343c"/>
<rect x="144.41" y="199.10" width="11.06" height="4.84" fill="#ffea4b"/>
<rect x="155.17" y="199.10" width="11.06" height="4.84" fill="#fd5b17"/>
<rect x="165.93" y="199.10" width="11.06" height="4.84" fill="#ff800a"/>
<rect x="176.68" y="199.10" width="11.06" height="4.84" fill="#ff6c11"/>
<rect x="187.44" y="199.10" width="11.06" height="4.84" fill="#ff8f03"/>
<rect x="47.60" y="203.64" width="11.06" height="4.84" fill="#881572"/>
<rect x="58.36" y="203.64" width="11.06" height="4.84" fill="#da343c"/>
<rect x="69.11" y="203.64" width="11.06" height="4.84" fill="#a71d65"/>
<rect x="79.87" y="203.64" width="11.06" height="4.84" fill="#440071"/>
<rect x="90.63" y="203.64" width="11.06" height="4.84" fill="#720e77"/>
<rect x="101.38" y="203.64" width="11.06" height="4.84" fill="#5c0777"/>
<rect x="112.14" y="203.64" width="11.06" height="4.84" fill="#9e1b69"/>
<rect x="122.90" y="203.64" width="11.06" height="4.84" fill="#ff8f03"/>
<rect x="133.66" y="203.64" width="11.06" height="4.84" fill="#b4215d"/>
<rect x="144.41" y="203.64" width="11.06" height="4.84" fill="#ffea4b"/>
<rect x="155.17" y="203.64" width="11.06" height="4.84" fill="#e63e30"/>
<rect x="165.93" y="203.64" width="11.06" height="4.84" fill="#ffc01f"/>
<rect x="176.68" y="203.64" width="11.06" height="4.84" fill="#e63e30"/>
<rect x="187.44" y="203.64" width="11.06" height="4.84" fill="#ff8f03"/>
<rect x="47.60" y="208.18" width="11.06" height="4.84" fill="#5c0777"/>
<rect x="58.36" y="208.18" width="11.06" height="4.84" fill="#440071"/>
<rect x="69.11" y="208.18" width="11.06" height="4.84" fill="#a71d65"/>
<rect x="79.87" y="208.18" width="11.06" height="4.84" fill="#881572"/>
<rect x="90.63" y="208.18" width="11.06" height="4.84" fill="#720e77"/>
<rect x="101.38" y="208.18" width="11.06" height="4.84" fill="#ed4529"/>
<rect x="112.14" y="208.18" width="11.06" height="4.84" fill="#720e77"/>
<rect x="122.90" y="208.18" width="11.06" height="4.84" fill="#881572"/>
<rect x="133.66" y="208.18" width="11.06" height="4.84" fill="#fd5b17"/>
<rect x="144.41" y="208.18" width="11.06" height="4.84" fill="#ffaf0f"/>
<rect x="155.17" y="208.18" width="11.06" height="4.84" fill="#ff8f03"/>
<rect x="165.93" y="208.18" width="11.06" height="4.84" fill="#ff8f03"/>
<rect x="176.68" y="208.18" width="11.06" height="4.84" fill="#ffdd3d"/>
<rect x="187.44" y="208.18" width="11.06" height="4.84" fill="#ff8f03"/>
<rect x="47.60" y="212.72" width="11.06" height="4.84" fill="#690b77"/>
<rect x="58.36" y="212.72" width="11.06" height="4.84" fill="#440071"/>
<rect x="69.11" y="212.72" width="11.06" height="4.84" fill="#a71d65"/>
<rect x="79.87" y="212.72" width="11.06" height="4.84" fill="#881572"/>
<rect x="90.63" y="212.72" width="11.06" height="4.84" fill="#720e77"/>
<rect x="101.38" y="212.72" width="11.06" height="4.84" fill="#ed4529"/>
<rect x="112.14" y="212.72" width="11.06" height="4.84" fill="#720e77"/>
<rect x="122.90" y="212.72" width="11.06" height="4.84" fill="#881572"/>
<rect x="133.66" y="212.72" width="11.06" height="4.84" fill="#fd5b17"/>
<rect x="144.41" y="212.72" width="11.06" height="4.84" fill="#ffaf0f"/>
<rect x="155.17" y="212.72" width="11.06" height="4.84" fill="#ff8f03"/>
<rect x="165.93" y="212.72" width="11.06" height="4.84" fill="#ff8f03"/>
<rect x="176.68" y="212.72" width="11.06" height="4.84" fill="#ffdd3d"/>
<rect x="187.44" y="212.72" width="11.06" height="4.84" fill="#ff8f03"/>
<rect x="47.60" y="217.26" width="11.06" height="4.84" fill="#720e77"/>
<rect x="58.36" y="217.26" width="11.06" height="4.84" fill="#2a035f"/>
<rect x="69.11" y="217.26" width="11.06" height="4.84" fill="#3a006c"/>
<rect x="79.87" y="217.26" width="11.06" height="4.84" fill="#c92a4d"/>
<rect x="90.63" y="217.26" width="11.06" height="4.84" fill="#881572"/>
<rect x="101.38" y="217.26" width="11.06" height="4.84" fill="#b4215d"/>
<rect x="112.14" y="217.26" width="11.06" height="4.84" fill="#b4215d"/>
<rect x="122.90" y="217.26" width="11.06" height="4.84" fill="#ff6c11"/>
<rect x="133.66" y="217.26" width="11.06" height="4.84" fill="#d02e46"/>
<rect x="144.41" y="217.26" width="11.06" height="4.84" fill="#ffa507"/>
<rect x="155.17" y="217.26" width="11.06" height="4.84" fill="#fd5b17"/>
<rect x="165.93" y="217.26" width="11.06" height="4.84" fill="#ff9c02"/>
<rect x="176.68" y="217.26" width="11.06" height="4.84" fill="#ffdd3d"/>
<rect x="187.44" y="217.26" width="11.06" height="4.84" fill="#ff800a"/>
<rect x="47.60" y="221.80" width="11.06" height="4.84" fill="#a71d65"/>
<rect x="58.36" y="221.80" width="11.06" height="4.84" fill="#1c064b"/>
<rect x="69.11" y="221.80" width="11.06" height="4.84" fill="#01010d"/>
<rect x="79.87" y="221.80" width="11.06" height="4.84" fill="#c92a4d"/>
<rect x="90.63" y="221.80" width="11.06" height="4.84" fill="#ed4529"/>
<rect x="101.38" y="221.80" width="11.06" height="4.84" fill="#b4215d"/>
<rect x="112.14" y="221.80" width="11.06" height="4.84" fill="#b4215d"/>
<rect x="122.90" y="221.80" width="11.06" height="4.84" fill="#ff800a"/>
<rect x="133.66" y="221.80" width="11.06" height="4.84" fill="#d02e46"/>
<rect x="144.41" y="221.80" width="11.06" height="4.84" fill="#ff9c02"/>
<rect x="155.17" y="221.80" width="11.06" height="4.84" fill="#b4215d"/>
<rect x="165.93" y="221.80" width="11.06" height="4.84" fill="#ffc01f"/>
<rect x="176.68" y="221.80" width="11.06" height="4.84" fill="#ffea4b"/>
<rect x="187.44" y="221.80" width="11.06" height="4.84" fill="#fd5b17"/>
<rect x="47.60" y="226.34" width="11.06" height="4.84" fill="#1c064b"/>
<rect x="58.36" y="226.34" width="11.06" height="4.84" fill="#14073e"/>
<rect x="69.11" y="226.34" width="11.06" height="4.84" fill="#c92a4d"/>
<rect x="79.87" y="226.34" width="11.06" height="4.84" fill="#440071"/>
<rect x="90.63" y="226.34" width="11.06" height="4.84" fill="#b4215d"/>
<rect x="101.38" y="226.34" width="11.06" height="4.84" fill="#f34d22"/>
<rect x="112.14" y="226.34" width="11.06" height="4.84" fill="#c92a4d"/>
<rect x="122.90" y="226.34" width="11.06" height="4.84" fill="#ff800a"/>
<rect x="133.66" y="226.34" width="11.06" height="4.84" fill="#d02e46"/>
<rect x="144.41" y="226.34" width="11.06" height="4.84" fill="#ff9c02"/>
<rect x="155.17" y="226.34" width="11.06" height="4.84" fill="#b4215d"/>
<rect x="165.93" y="226.34" width="11.06" height="4.84" fill="#ff9c02"/>
<rect x="176.68" y="226.34" width="11.06" height="4.84" fill="#ffc01f"/>
<rect x="187.44" y="226.34" width="11.06" height="4.84" fill="#ff8f03"/>
<rect x="47.60" y="230.88" width="11.06" height="4.84" fill="#c92a4d"/>
<rect x="58.36" y="230.88" width="11.06" height="4.84" fill="#720e77"/>
<rect x="69.11" y="230.88" width="11.06" height="4.84" fill="#720e77"/>
<rect x="79.87" y="230.88" width="11.06" height="4.84" fill="#720e77"/>
<rect x="90.63" y="230.88" width="11.06" height="4.84" fill="#4d0274"/>
<rect x="101.38" y="230.88" width="11.06" height="4.84" fill="#a71d65"/>
<rect x="112.14" y="230.88" width="11.06" height="4.84" fill="#c92a4d"/>
<rect x="122.90" y="230.88" width="11.06" height="4.84" fill="#ff8f03"/>
<rect x="133.66" y="230.88" width="11.06" height="4.84" fill="#ff760e"/>
<rect x="144.41" y="230.88" width="11.06" height="4.84" fill="#ffaf0f"/>
<rect x="155.17" y="230.88" width="11.06" height="4.84" fill="#7b1176"/>
<rect x="165.93" y="230.88" width="11.06" height="4.84" fill="#ffc01f"/>
<rect x="176.68" y="230.88" width="11.06" height="4.84" fill="#ff8f03"/>
<rect x="187.44" y="230.88" width="11.06" height="4.84" fill="#ffaf0f"/>
</g>
<rect x="47.6" y="55" width="75.3" height="7.4" fill="#79a3d5"/><rect x="122.9" y="55" width="75.3" height="7.4" fill="#f0231f"/>
<text x="81.5" y="61" text-anchor="middle" style="font-family:'Liberation Sans',Arial,sans-serif;font-size:7.1px" fill="#fff">Wild Type</text>
<text x="160.5" y="61" text-anchor="middle" style="font-family:'Liberation Sans',Arial,sans-serif;font-size:7px" fill="#fff">MYH7 R403Q+/-</text>
<g shape-rendering="crispEdges">
<rect x="288.80" y="62.80" width="14.18" height="4.33" fill="#ff760e"/>
<rect x="288.80" y="66.83" width="14.18" height="4.33" fill="#fd5b17"/>
<rect x="288.80" y="70.87" width="14.18" height="4.33" fill="#ff800a"/>
<rect x="288.80" y="74.90" width="14.18" height="4.33" fill="#c92a4d"/>
<rect x="288.80" y="78.93" width="14.18" height="4.33" fill="#ed4529"/>
<rect x="288.80" y="82.96" width="14.18" height="4.33" fill="#a71d65"/>
<rect x="288.80" y="87.00" width="14.18" height="4.33" fill="#da343c"/>
<rect x="288.80" y="91.03" width="14.18" height="4.33" fill="#ed4529"/>
<rect x="288.80" y="95.06" width="14.18" height="4.33" fill="#c92a4d"/>
<rect x="288.80" y="99.09" width="14.18" height="4.33" fill="#ff800a"/>
<rect x="288.80" y="103.13" width="14.18" height="4.33" fill="#ff800a"/>
<rect x="288.80" y="107.16" width="14.18" height="4.33" fill="#ff800a"/>
<rect x="288.80" y="111.19" width="14.18" height="4.33" fill="#ff800a"/>
<rect x="288.80" y="115.22" width="14.18" height="4.33" fill="#ff800a"/>
<rect x="288.80" y="119.26" width="14.18" height="4.33" fill="#ff8f03"/>
<rect x="288.80" y="123.29" width="14.18" height="4.33" fill="#f34d22"/>
<rect x="288.80" y="127.32" width="14.18" height="4.33" fill="#ed4529"/>
<rect x="288.80" y="131.35" width="14.18" height="4.33" fill="#ff800a"/>
<rect x="288.80" y="135.39" width="14.18" height="4.33" fill="#ff800a"/>
<rect x="288.80" y="139.42" width="14.18" height="4.33" fill="#ff8f03"/>
<rect x="288.80" y="143.45" width="14.18" height="4.33" fill="#ffd130"/>
<rect x="288.80" y="147.48" width="14.18" height="4.33" fill="#440071"/>
<rect x="288.80" y="151.52" width="14.18" height="4.33" fill="#1c064b"/>
<rect x="288.80" y="155.55" width="14.18" height="4.33" fill="#720e77"/>
<rect x="288.80" y="159.58" width="14.18" height="4.33" fill="#720e77"/>
<rect x="288.80" y="163.61" width="14.18" height="4.33" fill="#7b1176"/>
<rect x="288.80" y="167.65" width="14.18" height="4.33" fill="#720e77"/>
<rect x="288.80" y="171.68" width="14.18" height="4.33" fill="#881572"/>
<rect x="288.80" y="175.71" width="14.18" height="4.33" fill="#e63e30"/>
<rect x="288.80" y="179.74" width="14.18" height="4.33" fill="#720e77"/>
<rect x="288.80" y="183.78" width="14.18" height="4.33" fill="#720e77"/>
<rect x="288.80" y="187.81" width="14.18" height="4.33" fill="#720e77"/>
<rect x="288.80" y="191.84" width="14.18" height="4.33" fill="#720e77"/>
<rect x="288.80" y="195.87" width="14.18" height="4.33" fill="#96186d"/>
<rect x="288.80" y="199.91" width="14.18" height="4.33" fill="#881572"/>
<rect x="288.80" y="203.94" width="14.18" height="4.33" fill="#720e77"/>
<rect x="288.80" y="207.97" width="14.18" height="4.33" fill="#a71d65"/>
<rect x="288.80" y="212.00" width="14.18" height="4.33" fill="#881572"/>
<rect x="288.80" y="216.04" width="14.18" height="4.33" fill="#e63e30"/>
<rect x="288.80" y="220.07" width="14.18" height="4.33" fill="#b4215d"/>
<rect x="288.80" y="224.10" width="14.18" height="4.33" fill="#881572"/>
<rect x="288.80" y="228.13" width="14.18" height="4.33" fill="#720e77"/>
<rect x="288.80" y="232.17" width="14.18" height="4.33" fill="#7b1176"/>
<rect x="302.68" y="62.80" width="14.18" height="4.33" fill="#ffaf0f"/>
<rect x="302.68" y="66.83" width="14.18" height="4.33" fill="#ffdd3d"/>
<rect x="302.68" y="70.87" width="14.18" height="4.33" fill="#ffca2a"/>
<rect x="302.68" y="74.90" width="14.18" height="4.33" fill="#ffca2a"/>
<rect x="302.68" y="78.93" width="14.18" height="4.33" fill="#ff8f03"/>
<rect x="302.68" y="82.96" width="14.18" height="4.33" fill="#f34d22"/>
<rect x="302.68" y="87.00" width="14.18" height="4.33" fill="#bf2655"/>
<rect x="302.68" y="91.03" width="14.18" height="4.33" fill="#da343c"/>
<rect x="302.68" y="95.06" width="14.18" height="4.33" fill="#e63e30"/>
<rect x="302.68" y="99.09" width="14.18" height="4.33" fill="#a71d65"/>
<rect x="302.68" y="103.13" width="14.18" height="4.33" fill="#ff760e"/>
<rect x="302.68" y="107.16" width="14.18" height="4.33" fill="#ffa507"/>
<rect x="302.68" y="111.19" width="14.18" height="4.33" fill="#ffaf0f"/>
<rect x="302.68" y="115.22" width="14.18" height="4.33" fill="#fd5b17"/>
<rect x="302.68" y="119.26" width="14.18" height="4.33" fill="#ff800a"/>
<rect x="302.68" y="123.29" width="14.18" height="4.33" fill="#ff8f03"/>
<rect x="302.68" y="127.32" width="14.18" height="4.33" fill="#ff8f03"/>
<rect x="302.68" y="131.35" width="14.18" height="4.33" fill="#e63e30"/>
<rect x="302.68" y="135.39" width="14.18" height="4.33" fill="#ffaf0f"/>
<rect x="302.68" y="139.42" width="14.18" height="4.33" fill="#ff800a"/>
<rect x="302.68" y="143.45" width="14.18" height="4.33" fill="#ff800a"/>
<rect x="302.68" y="147.48" width="14.18" height="4.33" fill="#14073e"/>
<rect x="302.68" y="151.52" width="14.18" height="4.33" fill="#2a035f"/>
<rect x="302.68" y="155.55" width="14.18" height="4.33" fill="#720e77"/>
<rect x="302.68" y="159.58" width="14.18" height="4.33" fill="#5c0777"/>
<rect x="302.68" y="163.61" width="14.18" height="4.33" fill="#881572"/>
<rect x="302.68" y="167.65" width="14.18" height="4.33" fill="#c92a4d"/>
<rect x="302.68" y="171.68" width="14.18" height="4.33" fill="#881572"/>
<rect x="302.68" y="175.71" width="14.18" height="4.33" fill="#720e77"/>
<rect x="302.68" y="179.74" width="14.18" height="4.33" fill="#4d0274"/>
<rect x="302.68" y="183.78" width="14.18" height="4.33" fill="#720e77"/>
<rect x="302.68" y="187.81" width="14.18" height="4.33" fill="#720e77"/>
<rect x="302.68" y="191.84" width="14.18" height="4.33" fill="#720e77"/>
<rect x="302.68" y="195.87" width="14.18" height="4.33" fill="#ff800a"/>
<rect x="302.68" y="199.91" width="14.18" height="4.33" fill="#f34d22"/>
<rect x="302.68" y="203.94" width="14.18" height="4.33" fill="#ed4529"/>
<rect x="302.68" y="207.97" width="14.18" height="4.33" fill="#2a035f"/>
<rect x="302.68" y="212.00" width="14.18" height="4.33" fill="#720e77"/>
<rect x="302.68" y="216.04" width="14.18" height="4.33" fill="#05031d"/>
<rect x="302.68" y="220.07" width="14.18" height="4.33" fill="#0d0631"/>
<rect x="302.68" y="224.10" width="14.18" height="4.33" fill="#881572"/>
<rect x="302.68" y="228.13" width="14.18" height="4.33" fill="#a71d65"/>
<rect x="302.68" y="232.17" width="14.18" height="4.33" fill="#da343c"/>
<rect x="316.56" y="62.80" width="14.18" height="4.33" fill="#c92a4d"/>
<rect x="316.56" y="66.83" width="14.18" height="4.33" fill="#ff6c11"/>
<rect x="316.56" y="70.87" width="14.18" height="4.33" fill="#ff760e"/>
<rect x="316.56" y="74.90" width="14.18" height="4.33" fill="#ff5f14"/>
<rect x="316.56" y="78.93" width="14.18" height="4.33" fill="#f7521e"/>
<rect x="316.56" y="82.96" width="14.18" height="4.33" fill="#da343c"/>
<rect x="316.56" y="87.00" width="14.18" height="4.33" fill="#ff800a"/>
<rect x="316.56" y="91.03" width="14.18" height="4.33" fill="#ff800a"/>
<rect x="316.56" y="95.06" width="14.18" height="4.33" fill="#ff8f03"/>
<rect x="316.56" y="99.09" width="14.18" height="4.33" fill="#ffdd3d"/>
<rect x="316.56" y="103.13" width="14.18" height="4.33" fill="#ff800a"/>
<rect x="316.56" y="107.16" width="14.18" height="4.33" fill="#ff800a"/>
<rect x="316.56" y="111.19" width="14.18" height="4.33" fill="#ffaf0f"/>
<rect x="316.56" y="115.22" width="14.18" height="4.33" fill="#ffaf0f"/>
<rect x="316.56" y="119.26" width="14.18" height="4.33" fill="#ffc01f"/>
<rect x="316.56" y="123.29" width="14.18" height="4.33" fill="#ff800a"/>
<rect x="316.56" y="127.32" width="14.18" height="4.33" fill="#ff800a"/>
<rect x="316.56" y="131.35" width="14.18" height="4.33" fill="#ff800a"/>
<rect x="316.56" y="135.39" width="14.18" height="4.33" fill="#da343c"/>
<rect x="316.56" y="139.42" width="14.18" height="4.33" fill="#ff6c11"/>
<rect x="316.56" y="143.45" width="14.18" height="4.33" fill="#ed4529"/>
<rect x="316.56" y="147.48" width="14.18" height="4.33" fill="#da343c"/>
<rect x="316.56" y="151.52" width="14.18" height="4.33" fill="#b4215d"/>
<rect x="316.56" y="155.55" width="14.18" height="4.33" fill="#c92a4d"/>
<rect x="316.56" y="159.58" width="14.18" height="4.33" fill="#881572"/>
<rect x="316.56" y="163.61" width="14.18" height="4.33" fill="#05031d"/>
<rect x="316.56" y="167.65" width="14.18" height="4.33" fill="#2a035f"/>
<rect x="316.56" y="171.68" width="14.18" height="4.33" fill="#b4215d"/>
<rect x="316.56" y="175.71" width="14.18" height="4.33" fill="#2a035f"/>
<rect x="316.56" y="179.74" width="14.18" height="4.33" fill="#ed4529"/>
<rect x="316.56" y="183.78" width="14.18" height="4.33" fill="#5c0777"/>
<rect x="316.56" y="187.81" width="14.18" height="4.33" fill="#720e77"/>
<rect x="316.56" y="191.84" width="14.18" height="4.33" fill="#a71d65"/>
<rect x="316.56" y="195.87" width="14.18" height="4.33" fill="#05031d"/>
<rect x="316.56" y="199.91" width="14.18" height="4.33" fill="#05031d"/>
<rect x="316.56" y="203.94" width="14.18" height="4.33" fill="#2a035f"/>
<rect x="316.56" y="207.97" width="14.18" height="4.33" fill="#05031d"/>
<rect x="316.56" y="212.00" width="14.18" height="4.33" fill="#881572"/>
<rect x="316.56" y="216.04" width="14.18" height="4.33" fill="#b4215d"/>
<rect x="316.56" y="220.07" width="14.18" height="4.33" fill="#881572"/>
<rect x="316.56" y="224.10" width="14.18" height="4.33" fill="#720e77"/>
<rect x="316.56" y="228.13" width="14.18" height="4.33" fill="#881572"/>
<rect x="316.56" y="232.17" width="14.18" height="4.33" fill="#720e77"/>
<rect x="330.44" y="62.80" width="14.18" height="4.33" fill="#2a035f"/>
<rect x="330.44" y="66.83" width="14.18" height="4.33" fill="#9e1b69"/>
<rect x="330.44" y="70.87" width="14.18" height="4.33" fill="#7b1176"/>
<rect x="330.44" y="74.90" width="14.18" height="4.33" fill="#ed4529"/>
<rect x="330.44" y="78.93" width="14.18" height="4.33" fill="#ff8f03"/>
<rect x="330.44" y="82.96" width="14.18" height="4.33" fill="#ffea4b"/>
<rect x="330.44" y="87.00" width="14.18" height="4.33" fill="#ffc01f"/>
<rect x="330.44" y="91.03" width="14.18" height="4.33" fill="#ffaf0f"/>
<rect x="330.44" y="95.06" width="14.18" height="4.33" fill="#ffaf0f"/>
<rect x="330.44" y="99.09" width="14.18" height="4.33" fill="#9e1b69"/>
<rect x="330.44" y="103.13" width="14.18" height="4.33" fill="#720e77"/>
<rect x="330.44" y="107.16" width="14.18" height="4.33" fill="#440071"/>
<rect x="330.44" y="111.19" width="14.18" height="4.33" fill="#720e77"/>
<rect x="330.44" y="115.22" width="14.18" height="4.33" fill="#b4215d"/>
<rect x="330.44" y="119.26" width="14.18" height="4.33" fill="#7b1176"/>
<rect x="330.44" y="123.29" width="14.18" height="4.33" fill="#e63e30"/>
<rect x="330.44" y="127.32" width="14.18" height="4.33" fill="#ffaf0f"/>
<rect x="330.44" y="131.35" width="14.18" height="4.33" fill="#f34d22"/>
<rect x="330.44" y="135.39" width="14.18" height="4.33" fill="#ff800a"/>
<rect x="330.44" y="139.42" width="14.18" height="4.33" fill="#fd5b17"/>
<rect x="330.44" y="143.45" width="14.18" height="4.33" fill="#da343c"/>
<rect x="330.44" y="147.48" width="14.18" height="4.33" fill="#720e77"/>
<rect x="330.44" y="151.52" width="14.18" height="4.33" fill="#720e77"/>
<rect x="330.44" y="155.55" width="14.18" height="4.33" fill="#da343c"/>
<rect x="330.44" y="159.58" width="14.18" height="4.33" fill="#881572"/>
<rect x="330.44" y="163.61" width="14.18" height="4.33" fill="#ed4529"/>
<rect x="330.44" y="167.65" width="14.18" height="4.33" fill="#e63e30"/>
<rect x="330.44" y="171.68" width="14.18" height="4.33" fill="#da343c"/>
<rect x="330.44" y="175.71" width="14.18" height="4.33" fill="#05031d"/>
<rect x="330.44" y="179.74" width="14.18" height="4.33" fill="#720e77"/>
<rect x="330.44" y="183.78" width="14.18" height="4.33" fill="#a71d65"/>
<rect x="330.44" y="187.81" width="14.18" height="4.33" fill="#c92a4d"/>
<rect x="330.44" y="191.84" width="14.18" height="4.33" fill="#881572"/>
<rect x="330.44" y="195.87" width="14.18" height="4.33" fill="#da343c"/>
<rect x="330.44" y="199.91" width="14.18" height="4.33" fill="#da343c"/>
<rect x="330.44" y="203.94" width="14.18" height="4.33" fill="#b4215d"/>
<rect x="330.44" y="207.97" width="14.18" height="4.33" fill="#c92a4d"/>
<rect x="330.44" y="212.00" width="14.18" height="4.33" fill="#ff800a"/>
<rect x="330.44" y="216.04" width="14.18" height="4.33" fill="#da343c"/>
<rect x="330.44" y="220.07" width="14.18" height="4.33" fill="#ed4529"/>
<rect x="330.44" y="224.10" width="14.18" height="4.33" fill="#da343c"/>
<rect x="330.44" y="228.13" width="14.18" height="4.33" fill="#ed4529"/>
<rect x="330.44" y="232.17" width="14.18" height="4.33" fill="#881572"/>
<rect x="344.32" y="62.80" width="14.18" height="4.33" fill="#ffaf0f"/>
<rect x="344.32" y="66.83" width="14.18" height="4.33" fill="#d02e46"/>
<rect x="344.32" y="70.87" width="14.18" height="4.33" fill="#ff5f14"/>
<rect x="344.32" y="74.90" width="14.18" height="4.33" fill="#ff8f03"/>
<rect x="344.32" y="78.93" width="14.18" height="4.33" fill="#ff8906"/>
<rect x="344.32" y="82.96" width="14.18" height="4.33" fill="#ff8f03"/>
<rect x="344.32" y="87.00" width="14.18" height="4.33" fill="#ffa507"/>
<rect x="344.32" y="91.03" width="14.18" height="4.33" fill="#ff760e"/>
<rect x="344.32" y="95.06" width="14.18" height="4.33" fill="#ff800a"/>
<rect x="344.32" y="99.09" width="14.18" height="4.33" fill="#ff5f14"/>
<rect x="344.32" y="103.13" width="14.18" height="4.33" fill="#ffa507"/>
<rect x="344.32" y="107.16" width="14.18" height="4.33" fill="#fd5b17"/>
<rect x="344.32" y="111.19" width="14.18" height="4.33" fill="#ff800a"/>
<rect x="344.32" y="115.22" width="14.18" height="4.33" fill="#ff8f03"/>
<rect x="344.32" y="119.26" width="14.18" height="4.33" fill="#ffa507"/>
<rect x="344.32" y="123.29" width="14.18" height="4.33" fill="#ff8f03"/>
<rect x="344.32" y="127.32" width="14.18" height="4.33" fill="#ff8f03"/>
<rect x="344.32" y="131.35" width="14.18" height="4.33" fill="#ffaf0f"/>
<rect x="344.32" y="135.39" width="14.18" height="4.33" fill="#ff800a"/>
<rect x="344.32" y="139.42" width="14.18" height="4.33" fill="#ff9c02"/>
<rect x="344.32" y="143.45" width="14.18" height="4.33" fill="#f34d22"/>
<rect x="344.32" y="147.48" width="14.18" height="4.33" fill="#a71d65"/>
<rect x="344.32" y="151.52" width="14.18" height="4.33" fill="#720e77"/>
<rect x="344.32" y="155.55" width="14.18" height="4.33" fill="#720e77"/>
<rect x="344.32" y="159.58" width="14.18" height="4.33" fill="#720e77"/>
<rect x="344.32" y="163.61" width="14.18" height="4.33" fill="#881572"/>
<rect x="344.32" y="167.65" width="14.18" height="4.33" fill="#5c0777"/>
<rect x="344.32" y="171.68" width="14.18" height="4.33" fill="#440071"/>
<rect x="344.32" y="175.71" width="14.18" height="4.33" fill="#881572"/>
<rect x="344.32" y="179.74" width="14.18" height="4.33" fill="#ed4529"/>
<rect x="344.32" y="183.78" width="14.18" height="4.33" fill="#881572"/>
<rect x="344.32" y="187.81" width="14.18" height="4.33" fill="#a71d65"/>
<rect x="344.32" y="191.84" width="14.18" height="4.33" fill="#720e77"/>
<rect x="344.32" y="195.87" width="14.18" height="4.33" fill="#720e77"/>
<rect x="344.32" y="199.91" width="14.18" height="4.33" fill="#5c0777"/>
<rect x="344.32" y="203.94" width="14.18" height="4.33" fill="#720e77"/>
<rect x="344.32" y="207.97" width="14.18" height="4.33" fill="#a71d65"/>
<rect x="344.32" y="212.00" width="14.18" height="4.33" fill="#881572"/>
<rect x="344.32" y="216.04" width="14.18" height="4.33" fill="#720e77"/>
<rect x="344.32" y="220.07" width="14.18" height="4.33" fill="#881572"/>
<rect x="344.32" y="224.10" width="14.18" height="4.33" fill="#440071"/>
<rect x="344.32" y="228.13" width="14.18" height="4.33" fill="#5c0777"/>
<rect x="344.32" y="232.17" width="14.18" height="4.33" fill="#c92a4d"/>
<rect x="358.20" y="62.80" width="14.18" height="4.33" fill="#690b77"/>
<rect x="358.20" y="66.83" width="14.18" height="4.33" fill="#440071"/>
<rect x="358.20" y="70.87" width="14.18" height="4.33" fill="#690b77"/>
<rect x="358.20" y="74.90" width="14.18" height="4.33" fill="#720e77"/>
<rect x="358.20" y="78.93" width="14.18" height="4.33" fill="#05031d"/>
<rect x="358.20" y="82.96" width="14.18" height="4.33" fill="#720e77"/>
<rect x="358.20" y="87.00" width="14.18" height="4.33" fill="#440071"/>
<rect x="358.20" y="91.03" width="14.18" height="4.33" fill="#2a035f"/>
<rect x="358.20" y="95.06" width="14.18" height="4.33" fill="#5c0777"/>
<rect x="358.20" y="99.09" width="14.18" height="4.33" fill="#881572"/>
<rect x="358.20" y="103.13" width="14.18" height="4.33" fill="#720e77"/>
<rect x="358.20" y="107.16" width="14.18" height="4.33" fill="#440071"/>
<rect x="358.20" y="111.19" width="14.18" height="4.33" fill="#3a006c"/>
<rect x="358.20" y="115.22" width="14.18" height="4.33" fill="#5c0777"/>
<rect x="358.20" y="119.26" width="14.18" height="4.33" fill="#1c064b"/>
<rect x="358.20" y="123.29" width="14.18" height="4.33" fill="#da343c"/>
<rect x="358.20" y="127.32" width="14.18" height="4.33" fill="#720e77"/>
<rect x="358.20" y="131.35" width="14.18" height="4.33" fill="#440071"/>
<rect x="358.20" y="135.39" width="14.18" height="4.33" fill="#2a035f"/>
<rect x="358.20" y="139.42" width="14.18" height="4.33" fill="#440071"/>
<rect x="358.20" y="143.45" width="14.18" height="4.33" fill="#720e77"/>
<rect x="358.20" y="147.48" width="14.18" height="4.33" fill="#fd5b17"/>
<rect x="358.20" y="151.52" width="14.18" height="4.33" fill="#ff760e"/>
<rect x="358.20" y="155.55" width="14.18" height="4.33" fill="#ff800a"/>
<rect x="358.20" y="159.58" width="14.18" height="4.33" fill="#ff800a"/>
<rect x="358.20" y="163.61" width="14.18" height="4.33" fill="#fd5b17"/>
<rect x="358.20" y="167.65" width="14.18" height="4.33" fill="#ff800a"/>
<rect x="358.20" y="171.68" width="14.18" height="4.33" fill="#ff760e"/>
<rect x="358.20" y="175.71" width="14.18" height="4.33" fill="#ff760e"/>
<rect x="358.20" y="179.74" width="14.18" height="4.33" fill="#ff800a"/>
<rect x="358.20" y="183.78" width="14.18" height="4.33" fill="#fd5b17"/>
<rect x="358.20" y="187.81" width="14.18" height="4.33" fill="#ff760e"/>
<rect x="358.20" y="191.84" width="14.18" height="4.33" fill="#ff800a"/>
<rect x="358.20" y="195.87" width="14.18" height="4.33" fill="#fd5b17"/>
<rect x="358.20" y="199.91" width="14.18" height="4.33" fill="#ff8f03"/>
<rect x="358.20" y="203.94" width="14.18" height="4.33" fill="#ff800a"/>
<rect x="358.20" y="207.97" width="14.18" height="4.33" fill="#fd5b17"/>
<rect x="358.20" y="212.00" width="14.18" height="4.33" fill="#ff800a"/>
<rect x="358.20" y="216.04" width="14.18" height="4.33" fill="#ff800a"/>
<rect x="358.20" y="220.07" width="14.18" height="4.33" fill="#ff8f03"/>
<rect x="358.20" y="224.10" width="14.18" height="4.33" fill="#ffaf0f"/>
<rect x="358.20" y="228.13" width="14.18" height="4.33" fill="#ff800a"/>
<rect x="358.20" y="232.17" width="14.18" height="4.33" fill="#ffc01f"/>
<rect x="372.08" y="62.80" width="14.18" height="4.33" fill="#720e77"/>
<rect x="372.08" y="66.83" width="14.18" height="4.33" fill="#690b77"/>
<rect x="372.08" y="70.87" width="14.18" height="4.33" fill="#440071"/>
<rect x="372.08" y="74.90" width="14.18" height="4.33" fill="#14073e"/>
<rect x="372.08" y="78.93" width="14.18" height="4.33" fill="#b4215d"/>
<rect x="372.08" y="82.96" width="14.18" height="4.33" fill="#881572"/>
<rect x="372.08" y="87.00" width="14.18" height="4.33" fill="#440071"/>
<rect x="372.08" y="91.03" width="14.18" height="4.33" fill="#720e77"/>
<rect x="372.08" y="95.06" width="14.18" height="4.33" fill="#a71d65"/>
<rect x="372.08" y="99.09" width="14.18" height="4.33" fill="#720e77"/>
<rect x="372.08" y="103.13" width="14.18" height="4.33" fill="#2a035f"/>
<rect x="372.08" y="107.16" width="14.18" height="4.33" fill="#440071"/>
<rect x="372.08" y="111.19" width="14.18" height="4.33" fill="#440071"/>
<rect x="372.08" y="115.22" width="14.18" height="4.33" fill="#440071"/>
<rect x="372.08" y="119.26" width="14.18" height="4.33" fill="#da343c"/>
<rect x="372.08" y="123.29" width="14.18" height="4.33" fill="#720e77"/>
<rect x="372.08" y="127.32" width="14.18" height="4.33" fill="#720e77"/>
<rect x="372.08" y="131.35" width="14.18" height="4.33" fill="#440071"/>
<rect x="372.08" y="135.39" width="14.18" height="4.33" fill="#0d0631"/>
<rect x="372.08" y="139.42" width="14.18" height="4.33" fill="#440071"/>
<rect x="372.08" y="143.45" width="14.18" height="4.33" fill="#5c0777"/>
<rect x="372.08" y="147.48" width="14.18" height="4.33" fill="#ff760e"/>
<rect x="372.08" y="151.52" width="14.18" height="4.33" fill="#ff800a"/>
<rect x="372.08" y="155.55" width="14.18" height="4.33" fill="#ff800a"/>
<rect x="372.08" y="159.58" width="14.18" height="4.33" fill="#ff760e"/>
<rect x="372.08" y="163.61" width="14.18" height="4.33" fill="#ff800a"/>
<rect x="372.08" y="167.65" width="14.18" height="4.33" fill="#fd5b17"/>
<rect x="372.08" y="171.68" width="14.18" height="4.33" fill="#da343c"/>
<rect x="372.08" y="175.71" width="14.18" height="4.33" fill="#ff800a"/>
<rect x="372.08" y="179.74" width="14.18" height="4.33" fill="#ffd130"/>
<rect x="372.08" y="183.78" width="14.18" height="4.33" fill="#ffc01f"/>
<rect x="372.08" y="187.81" width="14.18" height="4.33" fill="#ff8f03"/>
<rect x="372.08" y="191.84" width="14.18" height="4.33" fill="#ffc01f"/>
<rect x="372.08" y="195.87" width="14.18" height="4.33" fill="#fd5b17"/>
<rect x="372.08" y="199.91" width="14.18" height="4.33" fill="#fd5b17"/>
<rect x="372.08" y="203.94" width="14.18" height="4.33" fill="#ff760e"/>
<rect x="372.08" y="207.97" width="14.18" height="4.33" fill="#ff9c02"/>
<rect x="372.08" y="212.00" width="14.18" height="4.33" fill="#ff760e"/>
<rect x="372.08" y="216.04" width="14.18" height="4.33" fill="#ff800a"/>
<rect x="372.08" y="220.07" width="14.18" height="4.33" fill="#ff9c02"/>
<rect x="372.08" y="224.10" width="14.18" height="4.33" fill="#f34d22"/>
<rect x="372.08" y="228.13" width="14.18" height="4.33" fill="#da343c"/>
<rect x="372.08" y="232.17" width="14.18" height="4.33" fill="#ff800a"/>
<rect x="385.96" y="62.80" width="14.18" height="4.33" fill="#ed4529"/>
<rect x="385.96" y="66.83" width="14.18" height="4.33" fill="#ed4529"/>
<rect x="385.96" y="70.87" width="14.18" height="4.33" fill="#c92a4d"/>
<rect x="385.96" y="74.90" width="14.18" height="4.33" fill="#da343c"/>
<rect x="385.96" y="78.93" width="14.18" height="4.33" fill="#b4215d"/>
<rect x="385.96" y="82.96" width="14.18" height="4.33" fill="#b4215d"/>
<rect x="385.96" y="87.00" width="14.18" height="4.33" fill="#9e1b69"/>
<rect x="385.96" y="91.03" width="14.18" height="4.33" fill="#b4215d"/>
<rect x="385.96" y="95.06" width="14.18" height="4.33" fill="#b4215d"/>
<rect x="385.96" y="99.09" width="14.18" height="4.33" fill="#5c0777"/>
<rect x="385.96" y="103.13" width="14.18" height="4.33" fill="#881572"/>
<rect x="385.96" y="107.16" width="14.18" height="4.33" fill="#720e77"/>
<rect x="385.96" y="111.19" width="14.18" height="4.33" fill="#720e77"/>
<rect x="385.96" y="115.22" width="14.18" height="4.33" fill="#2a035f"/>
<rect x="385.96" y="119.26" width="14.18" height="4.33" fill="#440071"/>
<rect x="385.96" y="123.29" width="14.18" height="4.33" fill="#14073e"/>
<rect x="385.96" y="127.32" width="14.18" height="4.33" fill="#05031d"/>
<rect x="385.96" y="131.35" width="14.18" height="4.33" fill="#881572"/>
<rect x="385.96" y="135.39" width="14.18" height="4.33" fill="#881572"/>
<rect x="385.96" y="139.42" width="14.18" height="4.33" fill="#720e77"/>
<rect x="385.96" y="143.45" width="14.18" height="4.33" fill="#1c064b"/>
<rect x="385.96" y="147.48" width="14.18" height="4.33" fill="#ffdd3d"/>
<rect x="385.96" y="151.52" width="14.18" height="4.33" fill="#ffc01f"/>
<rect x="385.96" y="155.55" width="14.18" height="4.33" fill="#ffc01f"/>
<rect x="385.96" y="159.58" width="14.18" height="4.33" fill="#ffa507"/>
<rect x="385.96" y="163.61" width="14.18" height="4.33" fill="#ffdd3d"/>
<rect x="385.96" y="167.65" width="14.18" height="4.33" fill="#ff8f03"/>
<rect x="385.96" y="171.68" width="14.18" height="4.33" fill="#ffd130"/>
<rect x="385.96" y="175.71" width="14.18" height="4.33" fill="#ff8f03"/>
<rect x="385.96" y="179.74" width="14.18" height="4.33" fill="#ff800a"/>
<rect x="385.96" y="183.78" width="14.18" height="4.33" fill="#ff800a"/>
<rect x="385.96" y="187.81" width="14.18" height="4.33" fill="#fd5b17"/>
<rect x="385.96" y="191.84" width="14.18" height="4.33" fill="#ff800a"/>
<rect x="385.96" y="195.87" width="14.18" height="4.33" fill="#ff800a"/>
<rect x="385.96" y="199.91" width="14.18" height="4.33" fill="#ff800a"/>
<rect x="385.96" y="203.94" width="14.18" height="4.33" fill="#fd5b17"/>
<rect x="385.96" y="207.97" width="14.18" height="4.33" fill="#b4215d"/>
<rect x="385.96" y="212.00" width="14.18" height="4.33" fill="#a71d65"/>
<rect x="385.96" y="216.04" width="14.18" height="4.33" fill="#ed4529"/>
<rect x="385.96" y="220.07" width="14.18" height="4.33" fill="#fd5b17"/>
<rect x="385.96" y="224.10" width="14.18" height="4.33" fill="#ff760e"/>
<rect x="385.96" y="228.13" width="14.18" height="4.33" fill="#fd5b17"/>
<rect x="385.96" y="232.17" width="14.18" height="4.33" fill="#ff800a"/>
<rect x="399.84" y="62.80" width="14.18" height="4.33" fill="#f34d22"/>
<rect x="399.84" y="66.83" width="14.18" height="4.33" fill="#ff760e"/>
<rect x="399.84" y="70.87" width="14.18" height="4.33" fill="#fd5b17"/>
<rect x="399.84" y="74.90" width="14.18" height="4.33" fill="#881572"/>
<rect x="399.84" y="78.93" width="14.18" height="4.33" fill="#b4215d"/>
<rect x="399.84" y="82.96" width="14.18" height="4.33" fill="#ff6c11"/>
<rect x="399.84" y="87.00" width="14.18" height="4.33" fill="#c92a4d"/>
<rect x="399.84" y="91.03" width="14.18" height="4.33" fill="#ff6c11"/>
<rect x="399.84" y="95.06" width="14.18" height="4.33" fill="#fd5b17"/>
<rect x="399.84" y="99.09" width="14.18" height="4.33" fill="#b4215d"/>
<rect x="399.84" y="103.13" width="14.18" height="4.33" fill="#da343c"/>
<rect x="399.84" y="107.16" width="14.18" height="4.33" fill="#ff800a"/>
<rect x="399.84" y="111.19" width="14.18" height="4.33" fill="#da343c"/>
<rect x="399.84" y="115.22" width="14.18" height="4.33" fill="#ff760e"/>
<rect x="399.84" y="119.26" width="14.18" height="4.33" fill="#e63e30"/>
<rect x="399.84" y="123.29" width="14.18" height="4.33" fill="#c92a4d"/>
<rect x="399.84" y="127.32" width="14.18" height="4.33" fill="#ff800a"/>
<rect x="399.84" y="131.35" width="14.18" height="4.33" fill="#ed4529"/>
<rect x="399.84" y="135.39" width="14.18" height="4.33" fill="#da343c"/>
<rect x="399.84" y="139.42" width="14.18" height="4.33" fill="#f34d22"/>
<rect x="399.84" y="143.45" width="14.18" height="4.33" fill="#f34d22"/>
<rect x="399.84" y="147.48" width="14.18" height="4.33" fill="#b4215d"/>
<rect x="399.84" y="151.52" width="14.18" height="4.33" fill="#da343c"/>
<rect x="399.84" y="155.55" width="14.18" height="4.33" fill="#881572"/>
<rect x="399.84" y="159.58" width="14.18" height="4.33" fill="#da343c"/>
<rect x="399.84" y="163.61" width="14.18" height="4.33" fill="#9e1b69"/>
<rect x="399.84" y="167.65" width="14.18" height="4.33" fill="#b4215d"/>
<rect x="399.84" y="171.68" width="14.18" height="4.33" fill="#da343c"/>
<rect x="399.84" y="175.71" width="14.18" height="4.33" fill="#ed4529"/>
<rect x="399.84" y="179.74" width="14.18" height="4.33" fill="#881572"/>
<rect x="399.84" y="183.78" width="14.18" height="4.33" fill="#f34d22"/>
<rect x="399.84" y="187.81" width="14.18" height="4.33" fill="#ff760e"/>
<rect x="399.84" y="191.84" width="14.18" height="4.33" fill="#881572"/>
<rect x="399.84" y="195.87" width="14.18" height="4.33" fill="#b4215d"/>
<rect x="399.84" y="199.91" width="14.18" height="4.33" fill="#881572"/>
<rect x="399.84" y="203.94" width="14.18" height="4.33" fill="#da343c"/>
<rect x="399.84" y="207.97" width="14.18" height="4.33" fill="#fd5b17"/>
<rect x="399.84" y="212.00" width="14.18" height="4.33" fill="#ffaf0f"/>
<rect x="399.84" y="216.04" width="14.18" height="4.33" fill="#ff800a"/>
<rect x="399.84" y="220.07" width="14.18" height="4.33" fill="#ff800a"/>
<rect x="399.84" y="224.10" width="14.18" height="4.33" fill="#ff800a"/>
<rect x="399.84" y="228.13" width="14.18" height="4.33" fill="#ff8f03"/>
<rect x="399.84" y="232.17" width="14.18" height="4.33" fill="#ff800a"/>
<rect x="413.72" y="62.80" width="14.18" height="4.33" fill="#720e77"/>
<rect x="413.72" y="66.83" width="14.18" height="4.33" fill="#2a035f"/>
<rect x="413.72" y="70.87" width="14.18" height="4.33" fill="#720e77"/>
<rect x="413.72" y="74.90" width="14.18" height="4.33" fill="#c92a4d"/>
<rect x="413.72" y="78.93" width="14.18" height="4.33" fill="#a71d65"/>
<rect x="413.72" y="82.96" width="14.18" height="4.33" fill="#0d0631"/>
<rect x="413.72" y="87.00" width="14.18" height="4.33" fill="#881572"/>
<rect x="413.72" y="91.03" width="14.18" height="4.33" fill="#a71d65"/>
<rect x="413.72" y="95.06" width="14.18" height="4.33" fill="#440071"/>
<rect x="413.72" y="99.09" width="14.18" height="4.33" fill="#720e77"/>
<rect x="413.72" y="103.13" width="14.18" height="4.33" fill="#7b1176"/>
<rect x="413.72" y="107.16" width="14.18" height="4.33" fill="#881572"/>
<rect x="413.72" y="111.19" width="14.18" height="4.33" fill="#720e77"/>
<rect x="413.72" y="115.22" width="14.18" height="4.33" fill="#720e77"/>
<rect x="413.72" y="119.26" width="14.18" height="4.33" fill="#4d0274"/>
<rect x="413.72" y="123.29" width="14.18" height="4.33" fill="#720e77"/>
<rect x="413.72" y="127.32" width="14.18" height="4.33" fill="#720e77"/>
<rect x="413.72" y="131.35" width="14.18" height="4.33" fill="#440071"/>
<rect x="413.72" y="135.39" width="14.18" height="4.33" fill="#720e77"/>
<rect x="413.72" y="139.42" width="14.18" height="4.33" fill="#881572"/>
<rect x="413.72" y="143.45" width="14.18" height="4.33" fill="#720e77"/>
<rect x="413.72" y="147.48" width="14.18" height="4.33" fill="#ff8f03"/>
<rect x="413.72" y="151.52" width="14.18" height="4.33" fill="#fd5b17"/>
<rect x="413.72" y="155.55" width="14.18" height="4.33" fill="#ff760e"/>
<rect x="413.72" y="159.58" width="14.18" height="4.33" fill="#da343c"/>
<rect x="413.72" y="163.61" width="14.18" height="4.33" fill="#fd5b17"/>
<rect x="413.72" y="167.65" width="14.18" height="4.33" fill="#ff800a"/>
<rect x="413.72" y="171.68" width="14.18" height="4.33" fill="#ff800a"/>
<rect x="413.72" y="175.71" width="14.18" height="4.33" fill="#ff8f03"/>
<rect x="413.72" y="179.74" width="14.18" height="4.33" fill="#ff760e"/>
<rect x="413.72" y="183.78" width="14.18" height="4.33" fill="#ff800a"/>
<rect x="413.72" y="187.81" width="14.18" height="4.33" fill="#ff800a"/>
<rect x="413.72" y="191.84" width="14.18" height="4.33" fill="#ff800a"/>
<rect x="413.72" y="195.87" width="14.18" height="4.33" fill="#ff800a"/>
<rect x="413.72" y="199.91" width="14.18" height="4.33" fill="#ffa507"/>
<rect x="413.72" y="203.94" width="14.18" height="4.33" fill="#ff9c02"/>
<rect x="413.72" y="207.97" width="14.18" height="4.33" fill="#ffa507"/>
<rect x="413.72" y="212.00" width="14.18" height="4.33" fill="#ff800a"/>
<rect x="413.72" y="216.04" width="14.18" height="4.33" fill="#ff800a"/>
<rect x="413.72" y="220.07" width="14.18" height="4.33" fill="#ff8f03"/>
<rect x="413.72" y="224.10" width="14.18" height="4.33" fill="#fd5b17"/>
<rect x="413.72" y="228.13" width="14.18" height="4.33" fill="#ff800a"/>
<rect x="413.72" y="232.17" width="14.18" height="4.33" fill="#ff800a"/>
</g>
<rect x="288.8" y="55" width="69.4" height="7.8" fill="#79a3d5"/><rect x="358.2" y="55" width="69.4" height="7.8" fill="#f0231f"/>
<text x="319.8" y="61" text-anchor="middle" style="font-family:'Liberation Sans',Arial,sans-serif;font-size:7.1px" fill="#fff">Wild Type</text>
<text x="391" y="61" text-anchor="middle" style="font-family:'Liberation Sans',Arial,sans-serif;font-size:7px" fill="#fff">MYH7</text>
<g fill="none" stroke="#858585" stroke-width="0.55">
<path d="M47.6 69.71H45.31V74.25H47.6"/>
<path d="M47.60 65.17H43.71V71.98H45.31"/>
<path d="M47.6 87.87H44.89V92.41H47.6"/>
<path d="M47.60 83.33H43.88V90.14H44.89"/>
<path d="M47.60 78.79H42.90V86.73H43.88"/>
<path d="M43.71 68.57H40.71V82.76H42.90"/>
<path d="M47.6 101.49H45.25V106.03H47.6"/>
<path d="M47.60 96.95H44.41V103.76H45.25"/>
<path d="M47.6 110.57H45.26V115.11H47.6"/>
<path d="M44.41 100.35H42.42V112.84H45.26"/>
<path d="M47.6 124.19H45.19V128.73H47.6"/>
<path d="M47.60 119.65H44.49V126.46H45.19"/>
<path d="M47.6 137.81H45.34V142.35H47.6"/>
<path d="M47.60 133.27H44.25V140.08H45.34"/>
<path d="M44.49 123.06H43.60V136.68H44.25"/>
<path d="M42.42 106.60H40.43V129.87H43.60"/>
<path d="M40.71 75.67H39.08V118.23H40.43"/>
<path d="M47.6 146.89H45.69V151.43H47.6"/>
<path d="M47.6 155.97H44.96V160.51H47.6"/>
<path d="M45.69 149.16H43.65V158.24H44.96"/>
<path d="M47.6 165.05H44.82V169.59H47.6"/>
<path d="M44.82 167.32H44.06V174.13H47.60"/>
<path d="M43.65 153.70H42.83V170.72H44.06"/>
<path d="M47.6 183.21H45.61V187.75H47.6"/>
<path d="M45.61 185.48H44.01V192.29H47.60"/>
<path d="M47.60 178.67H42.93V188.89H44.01"/>
<path d="M42.83 162.21H41.42V183.78H42.93"/>
<path d="M47.6 205.91H45.35V210.45H47.6"/>
<path d="M47.60 201.37H43.30V208.18H45.35"/>
<path d="M47.60 196.83H41.61V204.78H43.30"/>
<path d="M47.6 219.53H44.62V224.07H47.6"/>
<path d="M47.60 214.99H42.94V221.80H44.62"/>
<path d="M47.6 228.61H46.11V233.15H47.6"/>
<path d="M42.94 218.40H40.97V230.88H46.11"/>
<path d="M41.61 200.80H38.82V224.64H40.97"/>
<path d="M41.42 173.00H37.00V212.72H38.82"/>
<path d="M39.08 96.95H34.8V192.86H37.00"/>
<path d="M289 63.81H286.77V65.82H289"/>
<path d="M289 67.84H287.29V69.86H289"/>
<path d="M286.77 64.82H286.07V68.85H287.29"/>
<path d="M289 73.89H286.36V75.91H289"/>
<path d="M289.00 71.87H285.10V74.90H286.36"/>
<path d="M289 77.92H287.53V79.94H289"/>
<path d="M285.10 73.39H284.03V78.93H287.53"/>
<path d="M289 83.97H286.23V85.99H289"/>
<path d="M289.00 81.95H285.56V84.98H286.23"/>
<path d="M284.03 76.16H282.45V83.47H285.56"/>
<path d="M286.07 66.83H281.78V79.81H282.45"/>
<path d="M289 88.00H286.21V90.02H289"/>
<path d="M289 92.04H286.89V94.05H289"/>
<path d="M286.89 93.04H284.69V96.07H289.00"/>
<path d="M286.21 89.01H283.60V94.56H284.69"/>
<path d="M289 100.10H287.74V102.12H289"/>
<path d="M289 104.13H287.44V106.15H289"/>
<path d="M287.74 101.11H286.19V105.14H287.44"/>
<path d="M289.00 98.08H284.62V103.13H286.19"/>
<path d="M283.60 91.78H282.75V100.61H284.62"/>
<path d="M281.78 73.32H281.11V96.19H282.75"/>
<path d="M289 110.18H287.12V112.20H289"/>
<path d="M289.00 108.17H285.78V111.19H287.12"/>
<path d="M289 114.22H286.86V116.23H289"/>
<path d="M285.78 109.68H284.15V115.22H286.86"/>
<path d="M289 120.26H286.68V122.28H289"/>
<path d="M289.00 118.25H284.58V121.27H286.68"/>
<path d="M289 124.30H287.02V126.31H289"/>
<path d="M289 128.33H286.50V130.35H289"/>
<path d="M287.02 125.30H285.52V129.34H286.50"/>
<path d="M284.58 119.76H283.50V127.32H285.52"/>
<path d="M284.15 112.45H281.33V123.54H283.50"/>
<path d="M289 132.36H287.78V134.38H289"/>
<path d="M289 136.39H287.05V138.41H289"/>
<path d="M287.78 133.37H285.52V137.40H287.05"/>
<path d="M289 144.46H286.66V146.48H289"/>
<path d="M289.00 142.44H285.97V145.47H286.66"/>
<path d="M289.00 140.43H284.36V143.96H285.97"/>
<path d="M285.52 135.39H283.02V142.19H284.36"/>
<path d="M281.33 118.00H279.65V138.79H283.02"/>
<path d="M281.11 84.76H278.48V128.39H279.65"/>
<path d="M289 152.52H286.07V154.54H289"/>
<path d="M289.00 150.51H285.06V153.53H286.07"/>
<path d="M289.00 148.49H283.73V152.02H285.06"/>
<path d="M289 156.56H287.14V158.57H289"/>
<path d="M289 162.61H287.14V164.62H289"/>
<path d="M289.00 160.59H285.58V163.61H287.14"/>
<path d="M287.14 157.57H284.50V162.10H285.58"/>
<path d="M289 166.64H286.41V168.65H289"/>
<path d="M289 172.69H286.78V174.70H289"/>
<path d="M289.00 170.67H285.00V173.70H286.78"/>
<path d="M286.41 167.65H283.90V172.18H285.00"/>
<path d="M284.50 159.83H282.95V169.91H283.90"/>
<path d="M283.73 150.26H281.06V164.87H282.95"/>
<path d="M289 180.75H286.54V182.77H289"/>
<path d="M289.00 178.74H285.78V181.76H286.54"/>
<path d="M289.00 176.72H284.67V180.25H285.78"/>
<path d="M289 186.80H287.01V188.82H289"/>
<path d="M289.00 184.78H285.04V187.81H287.01"/>
<path d="M289 194.87H286.63V196.88H289"/>
<path d="M289.00 192.85H284.61V195.87H286.63"/>
<path d="M289.00 190.83H283.29V194.36H284.61"/>
<path d="M285.04 186.30H282.33V192.60H283.29"/>
<path d="M284.67 178.48H281.54V189.45H282.33"/>
<path d="M281.06 157.57H279.61V183.97H281.54"/>
<path d="M289 198.90H287.47V200.92H289"/>
<path d="M289 202.93H287.30V204.95H289"/>
<path d="M287.47 199.91H285.41V203.94H287.30"/>
<path d="M289 208.98H286.35V211.00H289"/>
<path d="M289.00 206.96H285.20V209.99H286.35"/>
<path d="M285.41 201.92H284.39V208.48H285.20"/>
<path d="M289 215.03H287.18V217.05H289"/>
<path d="M289.00 213.01H285.91V216.04H287.18"/>
<path d="M289 219.06H287.04V221.08H289"/>
<path d="M285.91 214.52H284.65V220.07H287.04"/>
<path d="M289 227.13H286.10V229.14H289"/>
<path d="M289.00 225.11H284.09V228.13H286.10"/>
<path d="M289.00 223.09H281.92V226.62H284.09"/>
<path d="M289 233.18H286.09V235.19H289"/>
<path d="M289.00 231.16H284.01V234.18H286.09"/>
<path d="M281.92 224.86H280.96V232.67H284.01"/>
<path d="M284.65 217.30H279.17V228.76H280.96"/>
<path d="M284.39 205.20H277.23V223.03H279.17"/>
<path d="M279.61 170.77H275.57V214.12H277.23"/>
<path d="M278.48 106.58H266V192.44H275.57"/>
</g>
<text x="198.8" y="130.3" style="font-family:'Liberation Sans',Arial,sans-serif;font-weight:bold;font-size:4.5px;letter-spacing:0.1px" fill="#151515" stroke="#151515" stroke-width="0.18">MYBPC3<tspan font-size="2.79px" dy="-1.5" style="letter-spacing:0" stroke-width="0.06" fill="#333">S404</tspan></text>
<text x="198.8" y="134.8" style="font-family:'Liberation Sans',Arial,sans-serif;font-weight:bold;font-size:4.5px;letter-spacing:0.1px" fill="#151515" stroke="#151515" stroke-width="0.18">MYBPC3<tspan font-size="2.79px" dy="-1.5" style="letter-spacing:0" stroke-width="0.06" fill="#333">S407</tspan></text>
<text x="198.8" y="140.5" style="font-family:'Liberation Sans',Arial,sans-serif;font-weight:bold;font-size:4.5px;letter-spacing:0.1px" fill="#151515" stroke="#151515" stroke-width="0.18">TTN<tspan font-size="2.79px" dy="-1.5" style="letter-spacing:0" stroke-width="0.06" fill="#333">S11956</tspan></text>
<text x="198.8" y="144.8" style="font-family:'Liberation Sans',Arial,sans-serif;font-weight:bold;font-size:4.5px;letter-spacing:0.1px" fill="#151515" stroke="#151515" stroke-width="0.18">TTN<tspan font-size="2.79px" dy="-1.5" style="letter-spacing:0" stroke-width="0.06" fill="#333">S11825</tspan></text>
<text x="198.8" y="149.5" style="font-family:'Liberation Sans',Arial,sans-serif;font-weight:bold;font-size:4.5px;letter-spacing:0.1px" fill="#151515" stroke="#151515" stroke-width="0.18">FLNC<tspan font-size="2.79px" dy="-1.5" style="letter-spacing:0" stroke-width="0.06" fill="#333">S2234</tspan></text>
<text x="198.8" y="158.6" style="font-family:'Liberation Sans',Arial,sans-serif;font-weight:bold;font-size:4.5px;letter-spacing:0.1px" fill="#151515" stroke="#151515" stroke-width="0.18">FLNC<tspan font-size="2.79px" dy="-1.5" style="letter-spacing:0" stroke-width="0.06" fill="#333">S2236</tspan></text>
<text x="198.8" y="185.0" style="font-family:'Liberation Sans',Arial,sans-serif;font-weight:bold;font-size:4.5px;letter-spacing:0.1px" fill="#151515" stroke="#151515" stroke-width="0.18">RYR2<tspan font-size="2.79px" dy="-1.5" style="letter-spacing:0" stroke-width="0.06" fill="#333">S2814</tspan></text>
<text x="198.8" y="189.4" style="font-family:'Liberation Sans',Arial,sans-serif;font-weight:bold;font-size:4.5px;letter-spacing:0.1px" fill="#151515" stroke="#151515" stroke-width="0.18">ATP2A2<tspan font-size="2.79px" dy="-1.5" style="letter-spacing:0" stroke-width="0.06" fill="#333">S663</tspan></text>
<text x="198.8" y="207.9" style="font-family:'Liberation Sans',Arial,sans-serif;font-weight:bold;font-size:4.5px;letter-spacing:0.1px" fill="#151515" stroke="#151515" stroke-width="0.18">LMOD2<tspan font-size="2.79px" dy="-1.5" style="letter-spacing:0" stroke-width="0.06" fill="#333">S342</tspan></text>
<text x="198.8" y="212.2" style="font-family:'Liberation Sans',Arial,sans-serif;font-weight:bold;font-size:4.5px;letter-spacing:0.1px" fill="#151515" stroke="#151515" stroke-width="0.18">PLN<tspan font-size="2.79px" dy="-1.5" style="letter-spacing:0" stroke-width="0.06" fill="#333">S16</tspan></text>
<text x="198.8" y="217.3" style="font-family:'Liberation Sans',Arial,sans-serif;font-weight:bold;font-size:4.5px;letter-spacing:0.1px" fill="#151515" stroke="#151515" stroke-width="0.18">PLN<tspan font-size="2.79px" dy="-1.5" style="letter-spacing:0" stroke-width="0.06" fill="#333">T17</tspan></text>
<text x="198.8" y="221.7" style="font-family:'Liberation Sans',Arial,sans-serif;font-weight:bold;font-size:4.5px;letter-spacing:0.1px" fill="#151515" stroke="#151515" stroke-width="0.18">JPH2<tspan font-size="2.79px" dy="-1.5" style="letter-spacing:0" stroke-width="0.06" fill="#333">S241</tspan></text>
<text x="198.8" y="230.8" style="font-family:'Liberation Sans',Arial,sans-serif;font-weight:bold;font-size:4.5px;letter-spacing:0.1px" fill="#151515" stroke="#151515" stroke-width="0.18">PPP1R12B<tspan font-size="2.79px" dy="-1.5" style="letter-spacing:0" stroke-width="0.06" fill="#333">S842</tspan></text>
<text x="198.8" y="235.0" style="font-family:'Liberation Sans',Arial,sans-serif;font-weight:bold;font-size:4.5px;letter-spacing:0.1px" fill="#151515" stroke="#151515" stroke-width="0.18">ROCK1<tspan font-size="2.79px" dy="-1.5" style="letter-spacing:0" stroke-width="0.06" fill="#333">S1105</tspan></text>
<text x="429.9" y="64.2" style="font-family:'Liberation Sans',Arial,sans-serif;font-weight:bold;font-size:4.2px;letter-spacing:0.22px" fill="#151515" stroke="#151515" stroke-width="0.18">PLN<tspan font-size="2.60px" dy="-1.5" style="letter-spacing:0" stroke-width="0.06" fill="#333">S16</tspan></text>
<text x="429.9" y="70.8" style="font-family:'Liberation Sans',Arial,sans-serif;font-weight:bold;font-size:4.2px;letter-spacing:0.22px" fill="#151515" stroke="#151515" stroke-width="0.18">MYLK3<tspan font-size="2.60px" dy="-1.5" style="letter-spacing:0" stroke-width="0.06" fill="#333">S358</tspan></text>
<text x="429.9" y="79.3" style="font-family:'Liberation Sans',Arial,sans-serif;font-weight:bold;font-size:4.2px;letter-spacing:0.22px" fill="#151515" stroke="#151515" stroke-width="0.18">PPP1R12C<tspan font-size="2.60px" dy="-1.5" style="letter-spacing:0" stroke-width="0.06" fill="#333">S453</tspan></text>
<text x="429.9" y="83.9" style="font-family:'Liberation Sans',Arial,sans-serif;font-weight:bold;font-size:4.2px;letter-spacing:0.22px" fill="#151515" stroke="#151515" stroke-width="0.18">ATP2A2<tspan font-size="2.60px" dy="-1.5" style="letter-spacing:0" stroke-width="0.06" fill="#333">S663</tspan></text>
<text x="429.9" y="92.7" style="font-family:'Liberation Sans',Arial,sans-serif;font-weight:bold;font-size:4.2px;letter-spacing:0.22px" fill="#151515" stroke="#151515" stroke-width="0.18">CACNB2<tspan font-size="2.60px" dy="-1.5" style="letter-spacing:0" stroke-width="0.06" fill="#333">S514</tspan></text>
<text x="429.9" y="104.6" style="font-family:'Liberation Sans',Arial,sans-serif;font-weight:bold;font-size:4.2px;letter-spacing:0.22px" fill="#151515" stroke="#151515" stroke-width="0.18">RYR2<tspan font-size="2.60px" dy="-1.5" style="letter-spacing:0" stroke-width="0.06" fill="#333">S2814</tspan></text>
<text x="429.9" y="136.2" style="font-family:'Liberation Sans',Arial,sans-serif;font-weight:bold;font-size:4.2px;letter-spacing:0.22px" fill="#151515" stroke="#151515" stroke-width="0.18">MYL2<tspan font-size="2.60px" dy="-1.5" style="letter-spacing:0" stroke-width="0.06" fill="#333">S15</tspan></text>
<text x="429.9" y="143.9" style="font-family:'Liberation Sans',Arial,sans-serif;font-weight:bold;font-size:4.2px;letter-spacing:0.22px" fill="#151515" stroke="#151515" stroke-width="0.18">PPP1R12B<tspan font-size="2.60px" dy="-1.5" style="letter-spacing:0" stroke-width="0.06" fill="#333">S711</tspan></text>
<text x="429.9" y="172.6" style="font-family:'Liberation Sans',Arial,sans-serif;font-weight:bold;font-size:4.2px;letter-spacing:0.22px" fill="#151515" stroke="#151515" stroke-width="0.18">CAMK2B<tspan font-size="2.60px" dy="-1.5" style="letter-spacing:0" stroke-width="0.06" fill="#333">S367</tspan></text>
<text x="429.9" y="193.9" style="font-family:'Liberation Sans',Arial,sans-serif;font-weight:bold;font-size:4.2px;letter-spacing:0.22px" fill="#151515" stroke="#151515" stroke-width="0.18">RYR2<tspan font-size="2.60px" dy="-1.5" style="letter-spacing:0" stroke-width="0.06" fill="#333">S2808</tspan></text>
<text x="429.9" y="235.7" style="font-family:'Liberation Sans',Arial,sans-serif;font-weight:bold;font-size:4.2px;letter-spacing:0.22px" fill="#151515" stroke="#151515" stroke-width="0.18">ANK1<tspan font-size="2.60px" dy="-1.5" style="letter-spacing:0" stroke-width="0.06" fill="#333">S1496</tspan></text>
<defs><linearGradient id="cb" x1="0" x2="0" y1="1" y2="0">
<stop offset="0.0" stop-color="#000004"/>
<stop offset="0.1" stop-color="#14073e"/>
<stop offset="0.2" stop-color="#440071"/>
<stop offset="0.3" stop-color="#720e77"/>
<stop offset="0.4" stop-color="#9e1b69"/>
<stop offset="0.5" stop-color="#c92a4d"/>
<stop offset="0.6" stop-color="#ed4529"/>
<stop offset="0.7" stop-color="#ff760e"/>
<stop offset="0.8" stop-color="#ffa507"/>
<stop offset="0.9" stop-color="#ffdd3d"/>
<stop offset="1.0" stop-color="#fcffa4"/>
</linearGradient></defs>
<rect x="235" y="122.5" width="8" height="40.4" fill="url(#cb)"/>
<text x="241.5" y="119.2" text-anchor="middle" style="font-family:'Liberation Sans',Arial,sans-serif;font-weight:bold;font-size:5.6px" fill="#222" stroke="#222" stroke-width="0.15">Z-score</text>
<text x="253" y="126.5" text-anchor="end" style="font-family:'Liberation Sans',Arial,sans-serif;font-weight:bold;font-size:5.8px" fill="#222" stroke="#222" stroke-width="0.15">2.0</text>
<text x="253" y="135" text-anchor="end" style="font-family:'Liberation Sans',Arial,sans-serif;font-weight:bold;font-size:5.8px" fill="#222" stroke="#222" stroke-width="0.15">1.0</text>
<text x="253" y="144.2" text-anchor="end" style="font-family:'Liberation Sans',Arial,sans-serif;font-weight:bold;font-size:5.8px" fill="#222" stroke="#222" stroke-width="0.15">0</text>
<text x="253" y="153.7" text-anchor="end" style="font-family:'Liberation Sans',Arial,sans-serif;font-weight:bold;font-size:5.8px" fill="#222" stroke="#222" stroke-width="0.15">-1.0</text>
<text x="253" y="162.6" text-anchor="end" style="font-family:'Liberation Sans',Arial,sans-serif;font-weight:bold;font-size:5.8px" fill="#222" stroke="#222" stroke-width="0.15">-2.0</text>
<defs>
<pattern id="mdots" x="0" y="0" width="2.1" height="2.1" patternUnits="userSpaceOnUse"><rect width="2.1" height="2.1" fill="#9cc2e8"/><rect x="0.25" y="0.15" width="1.3" height="1.8" rx="0.5" fill="#3c79c1"/></pattern>
<pattern id="mstripe" x="0" y="0" width="2.1" height="8" patternUnits="userSpaceOnUse"><rect x="0.35" y="0" width="1.0" height="3.7" fill="#acd5f1"/><rect x="0.35" y="4.2" width="1.0" height="3.8" fill="#acd5f1"/></pattern>
</defs>
<rect x="30.6" y="245.7" width="143.80" height="151.60" rx="1.2" fill="#fff" stroke="#3b3b3b" stroke-width="1.1"/>
<rect x="36.8" y="260.9" width="132.2" height="8.1" fill="#f2f8fd"/>
<rect x="36.8" y="260.9" width="132.2" height="8" fill="url(#mstripe)"/>
<rect x="36.8" y="258.9" width="132.2" height="2" fill="url(#mdots)"/>
<rect x="36.8" y="269.0" width="132.2" height="2" fill="url(#mdots)"/>
<text x="170.3" y="280.6" text-anchor="end" style="font-family:'Liberation Sans',Arial,sans-serif;font-size:7.3px;font-weight:bold" fill="#111">Cytoplasm</text>
<path d="M76.05,368.40 V311.65 C76.05,306.65 74.05,303.85 71.65,303.85 A5.10,5.10 0 0 1 71.65,293.65 H102.95 A5.10,5.10 0 0 1 102.95,303.85 C101.15,303.85 99.15,306.65 99.15,311.65 V368.40 A11.55,11.55 0 0 1 76.05,368.40 Z" fill="#c4cee3" stroke="#5676b0" stroke-width="1.9"/>
<path d="M93.8,271.0 C102.8,270.4 102.8,272.6 94.5,272.4 L99.9,273.9 C102.8,273.3 102.8,275.5 94.5,275.3 L99.9,276.8 C102.8,276.1 102.8,278.3 94.5,278.2 L99.9,279.6 C102.8,279.0 102.8,281.2 94.5,281.1 Q100.3,285.2 97.8,288.0" fill="none" stroke="#7286bd" stroke-width="1.15" stroke-linejoin="round"/>
<line x1="81.5" y1="280.0" x2="81.5" y2="284.5" stroke="#777" stroke-width="0.45"/><g fill="#7d8dbb" stroke="#62729f" stroke-width="0.45"><rect x="79" y="290.5" width="3.2" height="11" rx="1.5"/><rect x="84.4" y="290.5" width="3.2" height="11" rx="1.5"/><path d="M78,286.1 Q78,284.5 80.5,284.5 H86 Q88,284.5 88.2,286.1 L90.2,287.1 Q90.2,292.0 87,292.5 H79 Q75.8,292.0 75.8,287.5 Z"/></g>
<rect x="74" y="273.9" width="1.9" height="7" fill="#1e8c3a"/>
<circle cx="78.8" cy="276.2" r="0.75" fill="#d42a2a"/>
<circle cx="82.9" cy="274.6" r="0.75" fill="#d42a2a"/>
<circle cx="81.4" cy="277.6" r="0.75" fill="#d42a2a"/>
<circle cx="85.1" cy="279" r="0.75" fill="#d42a2a"/>
<circle cx="78.5" cy="304" r="0.75" fill="#d42a2a"/>
<circle cx="80.5" cy="305.5" r="0.75" fill="#d42a2a"/>
<circle cx="83" cy="307" r="0.75" fill="#d42a2a"/>
<circle cx="79" cy="308.5" r="0.75" fill="#d42a2a"/>
<circle cx="86" cy="305" r="0.75" fill="#d42a2a"/>
<circle cx="82.5" cy="306" r="0.9" fill="#2bb24a"/><circle cx="86" cy="303.5" r="0.9" fill="#2bb24a"/>
<text x="71" y="290" text-anchor="end" style="font-family:'Liberation Sans',Arial,sans-serif;font-size:5.2px" fill="#333">S2814</text>
<circle cx="73.3" cy="288.3" r="2.55" fill="#f3faf3" stroke="#3cb84a" stroke-width="0.75"/><text x="73.3" y="289.65000000000003" text-anchor="middle" style="font-family:'Liberation Sans',Arial,sans-serif;font-size:3.8px" fill="#555">P</text>
<circle cx="99.7" cy="288.3" r="2.55" fill="#f3faf3" stroke="#3cb84a" stroke-width="0.75"/><text x="99.7" y="289.65000000000003" text-anchor="middle" style="font-family:'Liberation Sans',Arial,sans-serif;font-size:3.8px" fill="#555">P</text>
<text x="102.3" y="290" text-anchor="start" style="font-family:'Liberation Sans',Arial,sans-serif;font-size:5.2px" fill="#333">S241</text>
<circle cx="49" cy="307.2" r="2.55" fill="#f3faf3" stroke="#3cb84a" stroke-width="0.75"/><text x="49" y="308.55" text-anchor="middle" style="font-family:'Liberation Sans',Arial,sans-serif;font-size:3.8px" fill="#555">P</text>
<text x="52.5" y="309.1" text-anchor="start" style="font-family:'Liberation Sans',Arial,sans-serif;font-size:5.2px" fill="#333">S1105</text>
<rect x="33.3" y="308.2" width="17.90" height="10.40" rx="5.20" fill="#f3f8fe" stroke="#96bae6" stroke-width="0.8"/>
<text x="42.25" y="314.7" text-anchor="middle" style="font-family:'Liberation Sans',Arial,sans-serif;font-size:3.7px" fill="#3a3a3a">ROCK1</text>
<path transform="translate(66.2,328.2) scale(1.1)" d="M0,7 L3,4 L5,0 L8,1 L9,4 L12,6 L10,8 L6,9 L3,11 L1,10 Z" fill="#9f8ee0" stroke="#8270c8" stroke-width="0.4"/>
<circle cx="67.5" cy="330" r="0.75" fill="#d42a2a"/>
<circle cx="72" cy="333" r="0.75" fill="#d42a2a"/>
<circle cx="75" cy="331.5" r="0.75" fill="#d42a2a"/>
<circle cx="86" cy="330.5" r="0.75" fill="#d42a2a"/>
<circle cx="88.5" cy="332" r="0.75" fill="#d42a2a"/>
<circle cx="87" cy="334" r="0.75" fill="#d42a2a"/>
<circle cx="78.6" cy="328.6" r="2.55" fill="#f3faf3" stroke="#3cb84a" stroke-width="0.75"/><text x="78.6" y="329.95000000000005" text-anchor="middle" style="font-family:'Liberation Sans',Arial,sans-serif;font-size:3.8px" fill="#555">P</text>
<text x="81.2" y="330.4" text-anchor="start" style="font-family:'Liberation Sans',Arial,sans-serif;font-size:5.2px" fill="#333">S663</text>
<rect x="94" y="330.8" width="1.3" height="7" fill="#1e8c3a"/>
<line x1="76.5" y1="341.8" x2="86.3" y2="341.8" stroke="#5b7bb5" stroke-width="1.4"/>
<text x="70.5" y="347" text-anchor="end" style="font-family:'Liberation Sans',Arial,sans-serif;font-size:5.2px" fill="#333">S16,T17</text>
<circle cx="72.8" cy="345.2" r="2.55" fill="#f3faf3" stroke="#3cb84a" stroke-width="0.75"/><text x="72.8" y="346.55" text-anchor="middle" style="font-family:'Liberation Sans',Arial,sans-serif;font-size:3.8px" fill="#555">P</text>
<circle cx="52.9" cy="366.9" r="2.55" fill="#f3faf3" stroke="#3cb84a" stroke-width="0.75"/><text x="52.9" y="368.25" text-anchor="middle" style="font-family:'Liberation Sans',Arial,sans-serif;font-size:3.8px" fill="#555">P</text>
<text x="55.6" y="368.8" text-anchor="start" style="font-family:'Liberation Sans',Arial,sans-serif;font-size:5.2px" fill="#333">S842</text>
<rect x="33.5" y="368.2" width="22.50" height="10.00" rx="5.00" fill="#f3f8fe" stroke="#96bae6" stroke-width="0.8"/>
<text x="44.75" y="374.5" text-anchor="middle" style="font-family:'Liberation Sans',Arial,sans-serif;font-size:3.7px" fill="#3a3a3a">PPP1R12B</text>
<text x="88.3" y="385.3" text-anchor="middle" style="font-family:'Liberation Sans',Arial,sans-serif;font-size:5.4px;font-weight:bold" fill="#222">Sarcoplasmic</text>
<text x="88.3" y="391.5" text-anchor="middle" style="font-family:'Liberation Sans',Arial,sans-serif;font-size:5.4px;font-weight:bold" fill="#222">Reticulum</text>
<circle cx="133.6" cy="319.6" r="2.8" fill="#c0282a"/><circle cx="133.6" cy="329.6" r="2.8" fill="#2cb34a"/>
<text x="140.7" y="321.6" style="font-family:'Liberation Sans',Arial,sans-serif;font-size:5.8px" fill="#262626">Ca<tspan font-size="3.6px" dy="-2">2+</tspan></text>
<text x="140.7" y="331.6" text-anchor="start" style="font-family:'Liberation Sans',Arial,sans-serif;font-size:5.8px" fill="#262626">CASQ2</text>
<path d="M130.0,337.5 C138.1,336.9 138.1,338.7 130.7,338.6 L135.5,339.8 C138.1,339.1 138.1,341.0 130.7,340.9 L135.5,342.0 C138.1,341.4 138.1,343.2 130.7,343.1 L135.5,344.2 C138.1,343.6 138.1,345.5 130.7,345.4 Q135.8,349.0 133.6,351.5" fill="none" stroke="#7286bd" stroke-width="1.15" stroke-linejoin="round"/>
<text x="140.7" y="348" text-anchor="start" style="font-family:'Liberation Sans',Arial,sans-serif;font-size:5.8px" fill="#262626">JPH2</text>
<path d="M128.6,357.5 Q128.6,355 131.6,355 H135.6 Q138.6,355 138.6,357.5 V359.5 Q138.6,361 135.6,361 H134.6 V367 H132.6 V361 H131.6 Q128.6,361 128.6,359.5 Z" fill="#6f86ba"/>
<text x="140.7" y="365" text-anchor="start" style="font-family:'Liberation Sans',Arial,sans-serif;font-size:5.8px" fill="#262626">RYR2</text>
<path d="M124.1,371.5 L127.6,372.3 M129.1,373 H138.1" stroke="#5b7bb5" stroke-width="1.3" fill="none"/>
<text x="140.7" y="375.6" text-anchor="start" style="font-family:'Liberation Sans',Arial,sans-serif;font-size:5.8px" fill="#262626">PLN</text>
<path transform="translate(126.1,381.5) scale(1.05)" d="M0,7 L3,4 L5,0 L8,1 L9,4 L12,6 L10,8 L6,9 L3,11 L1,10 Z" fill="#9f8ee0" stroke="#8270c8" stroke-width="0.4"/>
<text x="140.7" y="389.5" text-anchor="start" style="font-family:'Liberation Sans',Arial,sans-serif;font-size:5.8px" fill="#262626">ATP2A2</text>
<defs><clipPath id="mfc"><rect x="174.4" y="273.2" width="124.2" height="56.8"/></clipPath></defs>
<g clip-path="url(#mfc)">
<rect x="174.4" y="273.2" width="124.2" height="56.8" fill="#f5b6ca"/>
<rect x="174" y="276.2" width="126" height="0.6" fill="#c9a2d8"/>
<rect x="174" y="277.8" width="126" height="0.9" fill="#f9d6e0"/>
<rect x="176.0" y="273.8" width="25.4" height="2.0" fill="#ec6f95"/>
<rect x="207.1" y="273.8" width="25.3" height="2.0" fill="#ec6f95"/>
<rect x="234.5" y="273.8" width="20.4" height="2.0" fill="#ec6f95"/>
<rect x="259.5" y="273.8" width="28.2" height="2.0" fill="#e2336f"/>
<rect x="291.6" y="273.8" width="16.4" height="2.0" fill="#e2336f"/>
<rect x="174" y="282.1" width="126" height="0.6" fill="#c9a2d8"/>
<rect x="174" y="283.7" width="126" height="0.9" fill="#f9d6e0"/>
<rect x="166.2" y="279.7" width="15.9" height="2.0" fill="#e2336f"/>
<rect x="187.8" y="279.7" width="25.8" height="2.0" fill="#e2336f"/>
<rect x="218.7" y="279.7" width="14.5" height="2.0" fill="#e2336f"/>
<rect x="235.8" y="279.7" width="12.0" height="2.0" fill="#ec6f95"/>
<rect x="250.6" y="279.7" width="15.9" height="2.0" fill="#ec6f95"/>
<rect x="272.0" y="279.7" width="17.2" height="2.0" fill="#ec6f95"/>
<rect x="293.4" y="279.7" width="24.2" height="2.0" fill="#e2336f"/>
<rect x="174" y="288.0" width="126" height="0.6" fill="#c9a2d8"/>
<rect x="174" y="289.6" width="126" height="0.9" fill="#f9d6e0"/>
<rect x="177.1" y="285.6" width="29.4" height="2.0" fill="#ec6f95"/>
<rect x="209.6" y="285.6" width="18.5" height="2.0" fill="#e2336f"/>
<rect x="230.7" y="285.6" width="13.2" height="2.0" fill="#e2336f"/>
<rect x="248.3" y="285.6" width="12.1" height="2.0" fill="#e2336f"/>
<rect x="263.7" y="285.6" width="17.6" height="2.0" fill="#ec6f95"/>
<rect x="285.2" y="285.6" width="17.7" height="2.0" fill="#e2336f"/>
<rect x="174" y="293.9" width="126" height="0.6" fill="#c9a2d8"/>
<rect x="174" y="295.5" width="126" height="0.9" fill="#f9d6e0"/>
<rect x="166.9" y="291.5" width="29.6" height="2.0" fill="#e2336f"/>
<rect x="201.5" y="291.5" width="27.2" height="2.0" fill="#e2336f"/>
<rect x="233.8" y="291.5" width="18.6" height="2.0" fill="#e2336f"/>
<rect x="254.4" y="291.5" width="12.8" height="2.0" fill="#e2336f"/>
<rect x="273.1" y="291.5" width="15.5" height="2.0" fill="#ec6f95"/>
<rect x="294.4" y="291.5" width="29.0" height="2.0" fill="#e2336f"/>
<rect x="174" y="299.8" width="126" height="0.6" fill="#c9a2d8"/>
<rect x="174" y="301.4" width="126" height="0.9" fill="#f9d6e0"/>
<rect x="174.4" y="297.4" width="26.0" height="2.0" fill="#e2336f"/>
<rect x="205.3" y="297.4" width="26.4" height="2.0" fill="#ec6f95"/>
<rect x="233.8" y="297.4" width="29.0" height="2.0" fill="#e2336f"/>
<rect x="266.2" y="297.4" width="23.0" height="2.0" fill="#ec6f95"/>
<rect x="292.6" y="297.4" width="28.6" height="2.0" fill="#e2336f"/>
<rect x="174" y="305.7" width="126" height="0.6" fill="#c9a2d8"/>
<rect x="174" y="307.3" width="126" height="0.9" fill="#f9d6e0"/>
<rect x="171.1" y="303.3" width="15.2" height="2.0" fill="#e2336f"/>
<rect x="188.9" y="303.3" width="24.4" height="2.0" fill="#ec6f95"/>
<rect x="215.9" y="303.3" width="12.9" height="2.0" fill="#ec6f95"/>
<rect x="232.9" y="303.3" width="19.3" height="2.0" fill="#e2336f"/>
<rect x="256.6" y="303.3" width="26.9" height="2.0" fill="#e2336f"/>
<rect x="287.2" y="303.3" width="13.0" height="2.0" fill="#ec6f95"/>
<rect x="174" y="311.6" width="126" height="0.6" fill="#c9a2d8"/>
<rect x="174" y="313.2" width="126" height="0.9" fill="#f9d6e0"/>
<rect x="173.9" y="309.2" width="27.1" height="2.0" fill="#e2336f"/>
<rect x="205.9" y="309.2" width="29.1" height="2.0" fill="#e2336f"/>
<rect x="240.2" y="309.2" width="13.9" height="2.0" fill="#e2336f"/>
<rect x="256.7" y="309.2" width="27.2" height="2.0" fill="#e2336f"/>
<rect x="287.7" y="309.2" width="30.0" height="2.0" fill="#ec6f95"/>
<rect x="174" y="317.5" width="126" height="0.6" fill="#c9a2d8"/>
<rect x="174" y="319.1" width="126" height="0.9" fill="#f9d6e0"/>
<rect x="173.3" y="315.1" width="20.8" height="2.0" fill="#e2336f"/>
<rect x="198.0" y="315.1" width="17.2" height="2.0" fill="#e2336f"/>
<rect x="217.8" y="315.1" width="18.8" height="2.0" fill="#ec6f95"/>
<rect x="242.4" y="315.1" width="23.3" height="2.0" fill="#e2336f"/>
<rect x="269.0" y="315.1" width="13.6" height="2.0" fill="#e2336f"/>
<rect x="287.8" y="315.1" width="27.6" height="2.0" fill="#e2336f"/>
<rect x="174" y="323.4" width="126" height="0.6" fill="#c9a2d8"/>
<rect x="174" y="325.0" width="126" height="0.9" fill="#f9d6e0"/>
<rect x="178.4" y="321.0" width="24.5" height="2.0" fill="#e2336f"/>
<rect x="207.9" y="321.0" width="18.5" height="2.0" fill="#e2336f"/>
<rect x="229.6" y="321.0" width="20.7" height="2.0" fill="#ec6f95"/>
<rect x="255.1" y="321.0" width="17.3" height="2.0" fill="#ec6f95"/>
<rect x="277.0" y="321.0" width="22.5" height="2.0" fill="#e2336f"/>
<rect x="174" y="329.3" width="126" height="0.6" fill="#c9a2d8"/>
<rect x="174" y="330.9" width="126" height="0.9" fill="#f9d6e0"/>
<rect x="170.0" y="326.9" width="24.1" height="2.0" fill="#e2336f"/>
<rect x="199.4" y="326.9" width="23.7" height="2.0" fill="#ec6f95"/>
<rect x="226.4" y="326.9" width="23.6" height="2.0" fill="#e2336f"/>
<rect x="255.3" y="326.9" width="18.3" height="2.0" fill="#ec6f95"/>
<rect x="279.1" y="326.9" width="24.4" height="2.0" fill="#ec6f95"/>
<rect x="174.4" y="273.2" width="124.2" height="0.8" fill="#e8557f"/><rect x="174.4" y="329.2" width="124.2" height="0.8" fill="#e8557f"/>
<g fill="none" stroke="#2f3a8e" stroke-width="0.7">
<path d="M210.8,273.5 L207.5,276.5 L205.4,278.6 L204.5,281 L202.7,283.5 L202.4,286 L201.6,289 L202.2,292 L201.3,295 L201.3,298.6 L202,302 L201.3,305 L201.8,308 L202.5,311 L203,314 L203.5,317 L205.5,320 L206,323 L208.5,326 L211,329.5"/>
<path d="M279.4,273.8 L276,277 L273,279 L270.9,281.7 L270.5,285 L268.9,290.2 L269.2,293 L268.3,298 L268.8,302 L269,307.2 L269.5,311 L270.9,316.4 L271.5,319 L274.2,322.9 L276,326 L279.4,328.8"/>
</g>
<rect x="225" y="273" width="1.1" height="57" fill="#f8cb6a"/><rect x="239.8" y="273" width="1.1" height="57" fill="#f8cb6a"/>
<g fill="none" stroke="#f8c862" stroke-width="1.9" stroke-linecap="round">
<path d="M194,286.3 H214 C222,286.3 226,290 232,296 S244,310 256,313.5"/>
<path d="M194,313.5 H214 C222,313.5 226,309 232,303 S244,290 256,286.3"/>
<path d="M276,283.8 C265,283.8 256,284 251.5,287 C247,291 252,295.5 261,295.4"/>
<path d="M276,316.6 C265,316.6 256,316.4 251.5,313.4 C247,309.4 252,305 261,305"/>
<path d="M256,286.3 C248,288 244,296 236,300 S226,306 228,318 M222,282 C232,284 236,292 233,300 S240,312 246,322 M230,276 C236,282 246,282 244,292 M224,322 C230,316 238,318 246,310"/>
<path d="M186,273.6 L196,283 M186,329.6 L196,320 M287,273.6 L279,281 M287,329.6 L279,320" stroke-width="1.6"/>
</g>
</g>
<path d="M174.4,265.5 L212.2,300.3 L174.4,335.8 Z" fill="#a6d3ef" opacity="0.8"/>
<path d="M298.6,265.5 L259.5,299.6 L298.6,335.8 Z" fill="#a6d3ef" opacity="0.8"/>
<rect x="184" y="274" width="3.5" height="55" fill="#d8f0f8" opacity="0.45"/><rect x="285.5" y="274" width="3.5" height="55" fill="#d8f0f8" opacity="0.45"/>
<text x="236.5" y="268.1" text-anchor="middle" style="font-family:'Liberation Sans',Arial,sans-serif;font-size:12.4px;font-weight:bold" fill="#111">Myofibril</text>
<rect x="298.6" y="245.8" width="144.10" height="151.40" rx="1.2" fill="#fff" stroke="#3b3b3b" stroke-width="1.1"/>
<rect x="303.4" y="260.3" width="132.60000000000002" height="8.1" fill="#f2f8fd"/>
<rect x="303.4" y="260.3" width="132.60000000000002" height="8" fill="url(#mstripe)"/>
<rect x="303.4" y="258.3" width="132.60000000000002" height="2" fill="url(#mdots)"/>
<rect x="303.4" y="268.40000000000003" width="132.60000000000002" height="2" fill="url(#mdots)"/>
<text x="303.6" y="279.6" style="font-family:'Liberation Sans',Arial,sans-serif;font-size:7.3px;font-weight:bold" fill="#111">Cytoplasm</text>
<path d="M391.05,366.65 V311.35 C391.05,306.35 389.05,303.55 386.75,303.55 A5.10,5.10 0 0 1 386.75,293.35 H419.25 A5.10,5.10 0 0 1 419.25,303.55 C416.65,303.55 414.65,306.35 414.65,311.35 V366.65 A11.80,11.80 0 0 1 391.05,366.65 Z" fill="#c4cee3" stroke="#5676b0" stroke-width="1.9"/>
<path d="M407.0,270.0 C415.5,269.4 415.5,271.5 407.7,271.4 L412.8,272.8 C415.5,272.1 415.5,274.3 407.7,274.1 L412.8,275.5 C415.5,274.9 415.5,277.0 407.7,276.9 L412.8,278.2 C415.5,277.6 415.5,279.8 407.7,279.6 Q413.1,283.8 410.7,286.5" fill="none" stroke="#7286bd" stroke-width="1.15" stroke-linejoin="round"/>
<line x1="396.1" y1="279.5" x2="396.1" y2="284" stroke="#777" stroke-width="0.45"/><g fill="#7d8dbb" stroke="#62729f" stroke-width="0.45"><rect x="393.6" y="290" width="3.2" height="11" rx="1.5"/><rect x="399.0" y="290" width="3.2" height="11" rx="1.5"/><path d="M392.6,285.6 Q392.6,284 395.1,284 H400.6 Q402.6,284 402.8,285.6 L404.8,286.6 Q404.8,291.5 401.6,292 H393.6 Q390.40000000000003,291.5 390.40000000000003,287 Z"/></g>
<path d="M388.3,272.4 V279 M386.6,277.5 L388.3,280.4 L390,277.5" stroke="#e0262a" stroke-width="1.1" fill="none"/>
<circle cx="395.5" cy="272.5" r="0.75" fill="#d42a2a"/>
<circle cx="398" cy="271" r="0.75" fill="#d42a2a"/>
<circle cx="400.5" cy="274" r="0.75" fill="#d42a2a"/>
<circle cx="397" cy="276" r="0.75" fill="#d42a2a"/>
<circle cx="402" cy="277.5" r="0.75" fill="#d42a2a"/>
<circle cx="399.5" cy="279" r="0.75" fill="#d42a2a"/>
<circle cx="393.5" cy="302.5" r="0.75" fill="#d42a2a"/>
<circle cx="396" cy="304.5" r="0.75" fill="#d42a2a"/>
<circle cx="399" cy="306.5" r="0.75" fill="#d42a2a"/>
<circle cx="394.5" cy="307.5" r="0.75" fill="#d42a2a"/>
<circle cx="402" cy="304" r="0.75" fill="#d42a2a"/>
<circle cx="398" cy="305" r="0.9" fill="#2bb24a"/><circle cx="401" cy="302.5" r="0.9" fill="#2bb24a"/>
<text x="385.8" y="289.7" text-anchor="end" style="font-family:'Liberation Sans',Arial,sans-serif;font-size:5.2px" fill="#333">S2814</text>
<circle cx="389" cy="287.9" r="2.55" fill="#f3faf3" stroke="#e0505a" stroke-width="0.75"/><text x="389" y="289.25" text-anchor="middle" style="font-family:'Liberation Sans',Arial,sans-serif;font-size:3.8px" fill="#555">P</text>
<circle cx="412.8" cy="287.9" r="2.55" fill="#f3faf3" stroke="#e0505a" stroke-width="0.75"/><text x="412.8" y="289.25" text-anchor="middle" style="font-family:'Liberation Sans',Arial,sans-serif;font-size:3.8px" fill="#555">P</text>
<text x="415.3" y="289.7" text-anchor="start" style="font-family:'Liberation Sans',Arial,sans-serif;font-size:5.2px" fill="#333">S247</text>
<path transform="translate(382,328.5) scale(1.0)" d="M0,7 L3,4 L5,0 L8,1 L9,4 L12,6 L10,8 L6,9 L3,11 L1,10 Z" fill="#9f8ee0" stroke="#8270c8" stroke-width="0.4"/>
<circle cx="379.5" cy="331" r="0.75" fill="#d42a2a"/>
<circle cx="385" cy="334" r="0.75" fill="#d42a2a"/>
<circle cx="388" cy="332" r="0.75" fill="#d42a2a"/>
<circle cx="401" cy="331" r="0.75" fill="#d42a2a"/>
<circle cx="403.5" cy="333" r="0.75" fill="#d42a2a"/>
<circle cx="402" cy="335" r="0.75" fill="#d42a2a"/>
<circle cx="394.4" cy="328.4" r="2.55" fill="#f3faf3" stroke="#e0505a" stroke-width="0.75"/><text x="394.4" y="329.75" text-anchor="middle" style="font-family:'Liberation Sans',Arial,sans-serif;font-size:3.8px" fill="#555">P</text>
<text x="397" y="330.2" text-anchor="start" style="font-family:'Liberation Sans',Arial,sans-serif;font-size:5.2px" fill="#333">S663</text>
<path d="M410.4,325 V332 M408.7,330.2 L410.4,333.2 L412.1,330.2" stroke="#e0262a" stroke-width="1.1" fill="none"/>
<line x1="392.5" y1="341.2" x2="400.5" y2="341.2" stroke="#5b7bb5" stroke-width="1.2"/>
<text x="386.3" y="345" text-anchor="end" style="font-family:'Liberation Sans',Arial,sans-serif;font-size:5.2px" fill="#333">S16,T17</text>
<circle cx="388.7" cy="343.1" r="2.55" fill="#f3faf3" stroke="#e0505a" stroke-width="0.75"/><text x="388.7" y="344.45000000000005" text-anchor="middle" style="font-family:'Liberation Sans',Arial,sans-serif;font-size:3.8px" fill="#555">P</text>
<text x="404" y="385.9" text-anchor="middle" style="font-family:'Liberation Sans',Arial,sans-serif;font-size:5.4px;font-weight:bold" fill="#222">Sarcoplasmic</text>
<text x="404" y="391.9" text-anchor="middle" style="font-family:'Liberation Sans',Arial,sans-serif;font-size:5.4px;font-weight:bold" fill="#222">Reticulum</text>
<circle cx="310" cy="319.6" r="2.8" fill="#c0282a"/><circle cx="310" cy="329.6" r="2.8" fill="#2cb34a"/>
<text x="317.2" y="321.6" style="font-family:'Liberation Sans',Arial,sans-serif;font-size:5.8px" fill="#262626">Ca<tspan font-size="3.6px" dy="-2">2+</tspan></text>
<text x="317.2" y="331.6" text-anchor="start" style="font-family:'Liberation Sans',Arial,sans-serif;font-size:5.8px" fill="#262626">CASQ2</text>
<path d="M306.4,337.5 C314.5,336.9 314.5,338.7 307.0,338.6 L311.9,339.8 C314.5,339.1 314.5,341.0 307.0,340.9 L311.9,342.0 C314.5,341.4 314.5,343.2 307.0,343.1 L311.9,344.2 C314.5,343.6 314.5,345.5 307.0,345.4 Q312.2,349.0 310.0,351.5" fill="none" stroke="#7286bd" stroke-width="1.15" stroke-linejoin="round"/>
<text x="317.2" y="348" text-anchor="start" style="font-family:'Liberation Sans',Arial,sans-serif;font-size:5.8px" fill="#262626">JPH2</text>
<path d="M305,357.5 Q305,355 308,355 H312 Q315,355 315,357.5 V359.5 Q315,361 312,361 H311 V367 H309 V361 H308 Q305,361 305,359.5 Z" fill="#6f86ba"/>
<text x="317.2" y="365" text-anchor="start" style="font-family:'Liberation Sans',Arial,sans-serif;font-size:5.8px" fill="#262626">RYR2</text>
<path d="M300.5,371.5 L304,372.3 M305.5,373 H314.5" stroke="#5b7bb5" stroke-width="1.3" fill="none"/>
<text x="317.2" y="375.6" text-anchor="start" style="font-family:'Liberation Sans',Arial,sans-serif;font-size:5.8px" fill="#262626">PLN</text>
<path transform="translate(302.5,381.5) scale(1.05)" d="M0,7 L3,4 L5,0 L8,1 L9,4 L12,6 L10,8 L6,9 L3,11 L1,10 Z" fill="#9f8ee0" stroke="#8270c8" stroke-width="0.4"/>
<text x="317.2" y="389.5" text-anchor="start" style="font-family:'Liberation Sans',Arial,sans-serif;font-size:5.8px" fill="#262626">ATP2A2</text>
<rect x="340.4" y="297.6" width="22.20" height="8.60" rx="4.30" fill="#f3f8fe" stroke="#96bae6" stroke-width="0.8"/>
<text x="351.5" y="303.2" text-anchor="middle" style="font-family:'Liberation Sans',Arial,sans-serif;font-size:3.7px" fill="#3a3a3a">CAMK2B</text>
<circle cx="356.6" cy="296" r="2.55" fill="#f3faf3" stroke="#3cb84a" stroke-width="0.75"/><text x="356.6" y="297.35" text-anchor="middle" style="font-family:'Liberation Sans',Arial,sans-serif;font-size:3.8px" fill="#555">P</text>
<text x="359" y="297.8" text-anchor="start" style="font-family:'Liberation Sans',Arial,sans-serif;font-size:5px" fill="#333">S276,367</text>
<rect x="340.4" y="312.2" width="22.20" height="9.70" rx="4.85" fill="#f3f8fe" stroke="#96bae6" stroke-width="0.8"/>
<text x="351.5" y="318.34999999999997" text-anchor="middle" style="font-family:'Liberation Sans',Arial,sans-serif;font-size:3.7px" fill="#3a3a3a">PPP1R12C</text>
<circle cx="356.6" cy="311.6" r="2.55" fill="#f3faf3" stroke="#3cb84a" stroke-width="0.75"/><text x="356.6" y="312.95000000000005" text-anchor="middle" style="font-family:'Liberation Sans',Arial,sans-serif;font-size:3.8px" fill="#555">P</text>
<text x="359" y="313.4" text-anchor="start" style="font-family:'Liberation Sans',Arial,sans-serif;font-size:5px" fill="#333">S509</text>
<circle cx="356.6" cy="323" r="2.55" fill="#f3faf3" stroke="#e0505a" stroke-width="0.75"/><text x="356.6" y="324.35" text-anchor="middle" style="font-family:'Liberation Sans',Arial,sans-serif;font-size:3.8px" fill="#555">P</text>
<text x="359" y="324.8" text-anchor="start" style="font-family:'Liberation Sans',Arial,sans-serif;font-size:5px" fill="#333">S453</text>
<rect x="340.4" y="332.7" width="22.20" height="9.80" rx="4.90" fill="#f3f8fe" stroke="#96bae6" stroke-width="0.8"/>
<text x="351.5" y="338.90000000000003" text-anchor="middle" style="font-family:'Liberation Sans',Arial,sans-serif;font-size:3.7px" fill="#3a3a3a">PPP1R12B</text>
<circle cx="356.6" cy="331.3" r="2.55" fill="#f3faf3" stroke="#e0505a" stroke-width="0.75"/><text x="356.6" y="332.65000000000003" text-anchor="middle" style="font-family:'Liberation Sans',Arial,sans-serif;font-size:3.8px" fill="#555">P</text>
<text x="359" y="333.1" text-anchor="start" style="font-family:'Liberation Sans',Arial,sans-serif;font-size:5px" fill="#333">S711</text>
<rect x="340.4" y="349.5" width="22.20" height="9.40" rx="4.70" fill="#f3f8fe" stroke="#96bae6" stroke-width="0.8"/>
<text x="351.5" y="355.5" text-anchor="middle" style="font-family:'Liberation Sans',Arial,sans-serif;font-size:3.7px" fill="#3a3a3a">PPP1R12A</text>
<circle cx="356.6" cy="348" r="2.55" fill="#f3faf3" stroke="#e0505a" stroke-width="0.75"/><text x="356.6" y="349.35" text-anchor="middle" style="font-family:'Liberation Sans',Arial,sans-serif;font-size:3.8px" fill="#555">P</text>
<text x="359" y="349.8" text-anchor="start" style="font-family:'Liberation Sans',Arial,sans-serif;font-size:5px" fill="#333">S445</text>
<circle cx="356.6" cy="359" r="2.55" fill="#f3faf3" stroke="#e0505a" stroke-width="0.75"/><text x="356.6" y="360.35" text-anchor="middle" style="font-family:'Liberation Sans',Arial,sans-serif;font-size:3.8px" fill="#555">P</text>
<text x="359" y="360.8" text-anchor="start" style="font-family:'Liberation Sans',Arial,sans-serif;font-size:5px" fill="#333">T443</text>
<rect x="340.4" y="367.6" width="22.20" height="9.30" rx="4.65" fill="#f3f8fe" stroke="#96bae6" stroke-width="0.8"/>
<text x="351.5" y="373.55" text-anchor="middle" style="font-family:'Liberation Sans',Arial,sans-serif;font-size:3.7px" fill="#3a3a3a">PPP1R3A</text>
<circle cx="356.6" cy="367.2" r="2.55" fill="#f3faf3" stroke="#3cb84a" stroke-width="0.75"/><text x="356.6" y="368.55" text-anchor="middle" style="font-family:'Liberation Sans',Arial,sans-serif;font-size:3.8px" fill="#555">P</text>
<text x="359" y="369" text-anchor="start" style="font-family:'Liberation Sans',Arial,sans-serif;font-size:5px" fill="#333">S649</text>
<rect x="340.4" y="383.6" width="22.20" height="9.20" rx="4.60" fill="#f3f8fe" stroke="#96bae6" stroke-width="0.8"/>
<text x="351.5" y="389.50000000000006" text-anchor="middle" style="font-family:'Liberation Sans',Arial,sans-serif;font-size:3.7px" fill="#3a3a3a">PPP1R3D</text>
<circle cx="356.6" cy="382" r="2.55" fill="#f3faf3" stroke="#3cb84a" stroke-width="0.75"/><text x="356.6" y="383.35" text-anchor="middle" style="font-family:'Liberation Sans',Arial,sans-serif;font-size:3.8px" fill="#555">P</text>
<text x="359" y="383.8" text-anchor="start" style="font-family:'Liberation Sans',Arial,sans-serif;font-size:5px" fill="#333">S46</text>
<line x1="3" y1="403.4" x2="446" y2="403.4" stroke="#8cbbe6" stroke-width="0.9" stroke-dasharray="2,3.7"/>
<text x="51.1" y="435.2" text-anchor="middle" style="font-family:'Liberation Sans',Arial,sans-serif;font-size:13.0px;font-weight:bold" fill="#111" >hiPSC-CMs</text>
<text x="51.8" y="447.4" text-anchor="middle" style="font-family:'Liberation Sans',Arial,sans-serif;font-size:7.9px" fill="#333" >Early disease</text>
<circle cx="108" cy="429.7" r="3.9" fill="#2b0b5f"/><circle cx="108" cy="439.5" r="3.9" fill="#fdc010"/>
<text x="114.7" y="432.4" text-anchor="start" style="font-family:'Liberation Sans',Arial,sans-serif;font-size:7.7px" fill="#222" >WT</text>
<text x="114.7" y="442.2" text-anchor="start" style="font-family:'Liberation Sans',Arial,sans-serif;font-size:7.7px" fill="#222" >R403Q+/-</text>
<path d="M20.60,512.60 C21.00,513.05 22.18,514.38 23.00,515.30 C23.82,516.22 24.67,517.25 25.50,518.10 C26.33,518.95 27.17,519.83 28.00,520.40 C28.83,520.97 29.67,521.27 30.50,521.50 C31.33,521.73 32.08,521.73 33.00,521.80 C33.92,521.87 35.00,521.92 36.00,521.90 C37.00,521.88 38.08,521.80 39.00,521.70 C39.92,521.60 40.47,521.67 41.50,521.30 C42.53,520.93 43.93,520.48 45.20,519.50 C46.47,518.52 47.87,517.30 49.10,515.40 C50.33,513.50 51.42,510.63 52.60,508.10 C53.78,505.57 55.03,502.97 56.20,500.20 C57.37,497.43 58.48,494.50 59.60,491.50 C60.72,488.50 61.77,485.30 62.90,482.20 C64.03,479.10 65.23,475.83 66.40,472.90 C67.57,469.97 68.75,467.03 69.90,464.60 C71.05,462.17 72.18,460.03 73.30,458.30 C74.42,456.57 75.52,455.22 76.60,454.20 C77.68,453.18 78.83,452.62 79.80,452.20 C80.77,451.78 81.37,451.63 82.40,451.70 C83.43,451.77 84.90,452.05 86.00,452.60 C87.10,453.15 88.00,453.93 89.00,455.00 C90.00,456.07 91.00,457.52 92.00,459.00 C93.00,460.48 93.92,461.98 95.00,463.90 C96.08,465.82 97.42,468.23 98.50,470.50 C99.58,472.77 100.42,475.08 101.50,477.50 C102.58,479.92 103.90,482.68 105.00,485.00 C106.10,487.32 107.02,489.15 108.10,491.40 C109.18,493.65 110.35,496.32 111.50,498.50 C112.65,500.68 113.83,502.70 115.00,504.50 C116.17,506.30 117.33,507.92 118.50,509.30 C119.67,510.68 120.83,511.85 122.00,512.80 C123.17,513.75 124.33,514.47 125.50,515.00 C126.67,515.53 127.75,515.78 129.00,516.00 C130.25,516.22 131.75,516.37 133.00,516.30 C134.25,516.23 135.33,516.23 136.50,515.60 C137.67,514.97 138.80,513.92 140.00,512.50 C141.20,511.08 143.08,508.00 143.70,507.10 L143.70,527.20 C141.92,527.20 135.45,527.33 133.00,527.20 C130.55,527.07 130.25,526.83 129.00,526.40 C127.75,525.97 126.67,525.42 125.50,524.60 C124.33,523.78 123.17,522.68 122.00,521.50 C120.83,520.32 119.67,519.02 118.50,517.50 C117.33,515.98 116.15,514.18 115.00,512.40 C113.85,510.62 112.75,508.83 111.60,506.80 C110.45,504.77 109.27,502.53 108.10,500.20 C106.93,497.87 105.73,495.33 104.60,492.80 C103.47,490.27 102.42,487.60 101.30,485.00 C100.18,482.40 99.05,479.75 97.90,477.20 C96.75,474.65 95.52,472.00 94.40,469.70 C93.28,467.40 92.27,465.27 91.20,463.40 C90.13,461.53 89.03,459.87 88.00,458.50 C86.97,457.13 85.90,455.85 85.00,455.20 C84.10,454.55 83.43,454.58 82.60,454.60 C81.77,454.62 80.93,454.63 80.00,455.30 C79.07,455.97 78.07,457.02 77.00,458.60 C75.93,460.18 74.75,462.38 73.60,464.80 C72.45,467.22 71.28,470.17 70.10,473.10 C68.92,476.03 67.63,479.30 66.50,482.40 C65.37,485.50 64.37,488.70 63.30,491.70 C62.23,494.70 61.23,497.63 60.10,500.40 C58.97,503.17 57.67,505.77 56.50,508.30 C55.33,510.83 54.27,513.38 53.10,515.60 C51.93,517.82 50.68,519.77 49.50,521.60 C48.32,523.43 47.25,525.60 46.00,526.60 C44.75,527.60 44.67,527.43 42.00,527.60 C39.33,527.77 33.57,527.60 30.00,527.60 C26.43,527.60 22.17,527.60 20.60,527.60 Z" fill="#bdbdbd" stroke="#8c88c8" stroke-width="0.5"/>
<path d="M30,521.9 L41.5,521.6 L42.5,525.8 L29.5,525.8 Z" fill="#bccbe4"/>
<path d="M20.60,512.60 C21.00,513.05 22.18,514.38 23.00,515.30 C23.82,516.22 24.67,517.25 25.50,518.10 C26.33,518.95 27.17,519.83 28.00,520.40 C28.83,520.97 29.67,521.27 30.50,521.50 C31.33,521.73 32.08,521.73 33.00,521.80 C33.92,521.87 35.00,521.92 36.00,521.90 C37.00,521.88 38.08,521.80 39.00,521.70 C39.92,521.60 40.47,521.67 41.50,521.30 C42.53,520.93 43.93,520.48 45.20,519.50 C46.47,518.52 47.87,517.30 49.10,515.40 C50.33,513.50 51.42,510.63 52.60,508.10 C53.78,505.57 55.03,502.97 56.20,500.20 C57.37,497.43 58.48,494.50 59.60,491.50 C60.72,488.50 61.77,485.30 62.90,482.20 C64.03,479.10 65.23,475.83 66.40,472.90 C67.57,469.97 68.75,467.03 69.90,464.60 C71.05,462.17 72.18,460.03 73.30,458.30 C74.42,456.57 75.52,455.22 76.60,454.20 C77.68,453.18 78.83,452.62 79.80,452.20 C80.77,451.78 81.37,451.63 82.40,451.70 C83.43,451.77 84.90,452.05 86.00,452.60 C87.10,453.15 88.00,453.93 89.00,455.00 C90.00,456.07 91.00,457.52 92.00,459.00 C93.00,460.48 93.92,461.98 95.00,463.90 C96.08,465.82 97.42,468.23 98.50,470.50 C99.58,472.77 100.42,475.08 101.50,477.50 C102.58,479.92 103.90,482.68 105.00,485.00 C106.10,487.32 107.02,489.15 108.10,491.40 C109.18,493.65 110.35,496.32 111.50,498.50 C112.65,500.68 113.83,502.70 115.00,504.50 C116.17,506.30 117.33,507.92 118.50,509.30 C119.67,510.68 120.83,511.85 122.00,512.80 C123.17,513.75 124.33,514.47 125.50,515.00 C126.67,515.53 127.75,515.78 129.00,516.00 C130.25,516.22 132.33,516.25 133.00,516.30" fill="none" stroke="#f7b500" stroke-width="1.2"/>
<path d="M133.00,516.30 C133.58,516.18 135.33,516.23 136.50,515.60 C137.67,514.97 138.80,513.92 140.00,512.50 C141.20,511.08 143.08,508.00 143.70,507.10" fill="none" stroke="#98a8dc" stroke-width="0.9"/>
<circle cx="20.6" cy="522.5" r="1.55" fill="#2b0b5f"/>
<circle cx="24.2" cy="525.2" r="1.55" fill="#2b0b5f"/>
<circle cx="27.8" cy="527.3" r="1.55" fill="#2b0b5f"/>
<circle cx="44.4" cy="525.6" r="1.55" fill="#2b0b5f"/>
<circle cx="48" cy="521.2" r="1.55" fill="#2b0b5f"/>
<circle cx="51.6" cy="515.4" r="1.55" fill="#2b0b5f"/>
<circle cx="55" cy="508.1" r="1.55" fill="#2b0b5f"/>
<circle cx="58.6" cy="500.2" r="1.55" fill="#2b0b5f"/>
<circle cx="61.8" cy="491.5" r="1.55" fill="#2b0b5f"/>
<circle cx="65" cy="482.2" r="1.55" fill="#2b0b5f"/>
<circle cx="68.6" cy="472.9" r="1.55" fill="#2b0b5f"/>
<circle cx="72.1" cy="464.6" r="1.55" fill="#2b0b5f"/>
<circle cx="75.5" cy="458.3" r="1.55" fill="#2b0b5f"/>
<circle cx="78.9" cy="454.0" r="1.55" fill="#2b0b5f"/>
<circle cx="82.4" cy="452.9" r="1.55" fill="#2b0b5f"/>
<circle cx="86.0" cy="454.0" r="1.55" fill="#2b0b5f"/>
<circle cx="89.4" cy="457.5" r="1.55" fill="#2b0b5f"/>
<circle cx="92.7" cy="462.7" r="1.55" fill="#2b0b5f"/>
<circle cx="95.9" cy="468.9" r="1.55" fill="#2b0b5f"/>
<circle cx="99.4" cy="476.6" r="1.55" fill="#2b0b5f"/>
<circle cx="102.8" cy="484.3" r="1.55" fill="#2b0b5f"/>
<circle cx="106.1" cy="492.1" r="1.55" fill="#2b0b5f"/>
<circle cx="109.6" cy="499.4" r="1.55" fill="#2b0b5f"/>
<circle cx="113.1" cy="505.9" r="1.55" fill="#2b0b5f"/>
<circle cx="116.4" cy="511.3" r="1.55" fill="#2b0b5f"/>
<circle cx="119.9" cy="515.6" r="1.55" fill="#2b0b5f"/>
<circle cx="123.2" cy="518.9" r="1.55" fill="#2b0b5f"/>
<circle cx="126.5" cy="521.3" r="1.55" fill="#2b0b5f"/>
<circle cx="130.0" cy="523.1" r="1.55" fill="#2b0b5f"/>
<circle cx="133.5" cy="523.9" r="1.55" fill="#2b0b5f"/>
<circle cx="137.0" cy="524.1" r="1.55" fill="#2b0b5f"/>
<circle cx="140.5" cy="523.5" r="1.55" fill="#2b0b5f"/>
<circle cx="143.8" cy="521.3" r="1.55" fill="#2b0b5f"/>
<path d="M20.6,452.8 V527.7 H148.5" fill="none" stroke="#111" stroke-width="0.9"/>
<line x1="18.6" y1="453.6" x2="20.6" y2="453.6" stroke="#111" stroke-width="0.8"/>
<text x="17.3" y="455.40000000000003" text-anchor="end" style="font-family:'Liberation Sans',Arial,sans-serif;font-size:5.3px;font-weight:bold" fill="#222" >1.0</text>
<line x1="18.6" y1="468.4" x2="20.6" y2="468.4" stroke="#111" stroke-width="0.8"/>
<text x="17.3" y="470.2" text-anchor="end" style="font-family:'Liberation Sans',Arial,sans-serif;font-size:5.3px;font-weight:bold" fill="#222" >0.8</text>
<line x1="18.6" y1="483.3" x2="20.6" y2="483.3" stroke="#111" stroke-width="0.8"/>
<text x="17.3" y="485.1" text-anchor="end" style="font-family:'Liberation Sans',Arial,sans-serif;font-size:5.3px;font-weight:bold" fill="#222" >0.6</text>
<line x1="18.6" y1="498.2" x2="20.6" y2="498.2" stroke="#111" stroke-width="0.8"/>
<text x="17.3" y="500.0" text-anchor="end" style="font-family:'Liberation Sans',Arial,sans-serif;font-size:5.3px;font-weight:bold" fill="#222" >0.4</text>
<line x1="18.6" y1="513.0" x2="20.6" y2="513.0" stroke="#111" stroke-width="0.8"/>
<text x="17.3" y="514.8" text-anchor="end" style="font-family:'Liberation Sans',Arial,sans-serif;font-size:5.3px;font-weight:bold" fill="#222" >0.2</text>
<line x1="18.6" y1="527.7" x2="20.6" y2="527.7" stroke="#111" stroke-width="0.8"/>
<text x="17.3" y="529.5" text-anchor="end" style="font-family:'Liberation Sans',Arial,sans-serif;font-size:5.3px;font-weight:bold" fill="#222" >0.0</text>
<line x1="20.60" y1="527.7" x2="20.60" y2="529.7" stroke="#111" stroke-width="0.7"/>
<line x1="29.11" y1="527.7" x2="29.11" y2="528.8000000000001" stroke="#111" stroke-width="0.7"/>
<line x1="37.62" y1="527.7" x2="37.62" y2="528.8000000000001" stroke="#111" stroke-width="0.7"/>
<line x1="46.13" y1="527.7" x2="46.13" y2="528.8000000000001" stroke="#111" stroke-width="0.7"/>
<line x1="54.64" y1="527.7" x2="54.64" y2="528.8000000000001" stroke="#111" stroke-width="0.7"/>
<line x1="63.15" y1="527.7" x2="63.15" y2="529.7" stroke="#111" stroke-width="0.7"/>
<line x1="71.66" y1="527.7" x2="71.66" y2="528.8000000000001" stroke="#111" stroke-width="0.7"/>
<line x1="80.17" y1="527.7" x2="80.17" y2="528.8000000000001" stroke="#111" stroke-width="0.7"/>
<line x1="88.68" y1="527.7" x2="88.68" y2="528.8000000000001" stroke="#111" stroke-width="0.7"/>
<line x1="97.19" y1="527.7" x2="97.19" y2="528.8000000000001" stroke="#111" stroke-width="0.7"/>
<line x1="105.70" y1="527.7" x2="105.70" y2="529.7" stroke="#111" stroke-width="0.7"/>
<line x1="114.21" y1="527.7" x2="114.21" y2="528.8000000000001" stroke="#111" stroke-width="0.7"/>
<line x1="122.72" y1="527.7" x2="122.72" y2="528.8000000000001" stroke="#111" stroke-width="0.7"/>
<line x1="131.23" y1="527.7" x2="131.23" y2="528.8000000000001" stroke="#111" stroke-width="0.7"/>
<line x1="139.74" y1="527.7" x2="139.74" y2="528.8000000000001" stroke="#111" stroke-width="0.7"/>
<line x1="148.25" y1="527.7" x2="148.25" y2="529.7" stroke="#111" stroke-width="0.7"/>
<text x="20.6" y="537" text-anchor="middle" style="font-family:'Liberation Sans',Arial,sans-serif;font-size:5.3px;font-weight:bold" fill="#222" >0.0</text>
<text x="63.2" y="537" text-anchor="middle" style="font-family:'Liberation Sans',Arial,sans-serif;font-size:5.3px;font-weight:bold" fill="#222" >0.5</text>
<text x="105.7" y="537" text-anchor="middle" style="font-family:'Liberation Sans',Arial,sans-serif;font-size:5.3px;font-weight:bold" fill="#222" >1.0</text>
<text x="148.3" y="537" text-anchor="middle" style="font-family:'Liberation Sans',Arial,sans-serif;font-size:5.3px;font-weight:bold" fill="#222" >1.5</text>
<text x="84.5" y="547" text-anchor="middle" style="font-family:'Liberation Sans',Arial,sans-serif;font-size:5.5px;font-weight:bold" fill="#222" >Time (s)</text>
<text transform="translate(6.8,491.5) rotate(-90)" text-anchor="middle" style="font-family:'Liberation Sans',Arial,sans-serif;font-size:5.3px;font-weight:bold" fill="#222">F/F0</text>
<rect x="183.2" y="502.78" width="19.80" height="24.92" fill="#fff" stroke="#111" stroke-width="1"/>
<circle cx="193.10" cy="522.72" r="1.3" fill="#2b0b5f"/>
<circle cx="195.44" cy="520.96" r="1.3" fill="#2b0b5f"/>
<circle cx="193.10" cy="520.22" r="1.3" fill="#2b0b5f"/>
<circle cx="193.10" cy="514.32" r="1.3" fill="#2b0b5f"/>
<circle cx="195.44" cy="513.59" r="1.3" fill="#2b0b5f"/>
<circle cx="190.76" cy="513.38" r="1.3" fill="#2b0b5f"/>
<circle cx="193.10" cy="511.73" r="1.3" fill="#2b0b5f"/>
<circle cx="196.61" cy="511.23" r="1.3" fill="#2b0b5f"/>
<circle cx="190.76" cy="510.91" r="1.3" fill="#2b0b5f"/>
<circle cx="198.95" cy="510.45" r="1.3" fill="#2b0b5f"/>
<circle cx="188.42" cy="510.08" r="1.3" fill="#2b0b5f"/>
<circle cx="184.91" cy="510.06" r="1.3" fill="#2b0b5f"/>
<circle cx="193.10" cy="508.85" r="1.3" fill="#2b0b5f"/>
<circle cx="196.61" cy="508.56" r="1.3" fill="#2b0b5f"/>
<circle cx="190.76" cy="507.46" r="1.3" fill="#2b0b5f"/>
<circle cx="198.95" cy="507.18" r="1.3" fill="#2b0b5f"/>
<circle cx="194.27" cy="506.71" r="1.3" fill="#2b0b5f"/>
<circle cx="188.42" cy="506.46" r="1.3" fill="#2b0b5f"/>
<circle cx="196.61" cy="506.11" r="1.3" fill="#2b0b5f"/>
<circle cx="201.29" cy="506.10" r="1.3" fill="#2b0b5f"/>
<circle cx="184.91" cy="506.04" r="1.3" fill="#2b0b5f"/>
<circle cx="192.20" cy="505.39" r="1.3" fill="#2b0b5f"/>
<circle cx="194.22" cy="504.97" r="1.3" fill="#2b0b5f"/>
<circle cx="201.08" cy="504.90" r="1.3" fill="#2b0b5f"/>
<circle cx="192.45" cy="504.74" r="1.3" fill="#2b0b5f"/>
<circle cx="193.25" cy="504.41" r="1.3" fill="#2b0b5f"/>
<circle cx="189.59" cy="504.18" r="1.3" fill="#2b0b5f"/>
<circle cx="194.74" cy="504.05" r="1.3" fill="#2b0b5f"/>
<circle cx="197.78" cy="504.00" r="1.3" fill="#2b0b5f"/>
<circle cx="187.17" cy="503.96" r="1.3" fill="#2b0b5f"/>
<circle cx="183.74" cy="503.75" r="1.3" fill="#2b0b5f"/>
<circle cx="193.32" cy="502.99" r="1.3" fill="#2b0b5f"/>
<circle cx="202.46" cy="502.84" r="1.3" fill="#2b0b5f"/>
<circle cx="195.54" cy="502.34" r="1.3" fill="#2b0b5f"/>
<circle cx="200.12" cy="502.28" r="1.3" fill="#2b0b5f"/>
<circle cx="198.61" cy="502.17" r="1.3" fill="#2b0b5f"/>
<circle cx="185.47" cy="502.15" r="1.3" fill="#2b0b5f"/>
<circle cx="190.76" cy="501.97" r="1.3" fill="#2b0b5f"/>
<circle cx="189.40" cy="501.94" r="1.3" fill="#2b0b5f"/>
<circle cx="185.40" cy="501.29" r="1.3" fill="#2b0b5f"/>
<circle cx="198.92" cy="500.75" r="1.3" fill="#2b0b5f"/>
<circle cx="196.74" cy="500.62" r="1.3" fill="#2b0b5f"/>
<circle cx="193.10" cy="500.14" r="1.3" fill="#2b0b5f"/>
<circle cx="201.29" cy="500.07" r="1.3" fill="#2b0b5f"/>
<circle cx="184.49" cy="499.89" r="1.3" fill="#2b0b5f"/>
<circle cx="190.76" cy="499.12" r="1.3" fill="#2b0b5f"/>
<circle cx="187.25" cy="498.93" r="1.3" fill="#2b0b5f"/>
<circle cx="202.17" cy="498.67" r="1.3" fill="#2b0b5f"/>
<circle cx="195.44" cy="498.46" r="1.3" fill="#2b0b5f"/>
<circle cx="198.95" cy="498.05" r="1.3" fill="#2b0b5f"/>
<circle cx="201.84" cy="498.01" r="1.3" fill="#2b0b5f"/>
<circle cx="195.99" cy="497.81" r="1.3" fill="#2b0b5f"/>
<circle cx="195.27" cy="497.76" r="1.3" fill="#2b0b5f"/>
<circle cx="186.66" cy="497.73" r="1.3" fill="#2b0b5f"/>
<circle cx="193.10" cy="495.46" r="1.3" fill="#2b0b5f"/>
<circle cx="196.61" cy="495.33" r="1.3" fill="#2b0b5f"/>
<circle cx="189.59" cy="495.27" r="1.3" fill="#2b0b5f"/>
<circle cx="198.95" cy="494.49" r="1.3" fill="#2b0b5f"/>
<circle cx="187.25" cy="493.90" r="1.3" fill="#2b0b5f"/>
<circle cx="201.29" cy="493.80" r="1.3" fill="#2b0b5f"/>
<circle cx="194.27" cy="493.17" r="1.3" fill="#2b0b5f"/>
<circle cx="191.93" cy="492.16" r="1.3" fill="#2b0b5f"/>
<circle cx="196.61" cy="491.99" r="1.3" fill="#2b0b5f"/>
<circle cx="189.59" cy="490.79" r="1.3" fill="#2b0b5f"/>
<circle cx="193.10" cy="487.83" r="1.3" fill="#2b0b5f"/>
<circle cx="195.44" cy="486.58" r="1.3" fill="#2b0b5f"/>
<circle cx="193.10" cy="464.15" r="1.3" fill="#2b0b5f"/>
<line x1="193.1" y1="527.7" x2="193.1" y2="529.7" stroke="#111" stroke-width="0.8"/>
<text x="193.1" y="536.9000000000001" text-anchor="middle" style="font-family:'Liberation Sans',Arial,sans-serif;font-size:6.0px;font-weight:bold" fill="#222" >WT</text>
<rect x="213.5" y="499.04" width="20.30" height="28.66" fill="#fff" stroke="#111" stroke-width="1"/>
<circle cx="223.65" cy="526.49" r="1.3" fill="#fdc010"/>
<circle cx="223.65" cy="523.21" r="1.3" fill="#fdc010"/>
<circle cx="227.16" cy="523.03" r="1.3" fill="#fdc010"/>
<circle cx="221.31" cy="522.65" r="1.3" fill="#fdc010"/>
<circle cx="229.50" cy="522.36" r="1.3" fill="#fdc010"/>
<circle cx="218.97" cy="522.00" r="1.3" fill="#fdc010"/>
<circle cx="223.65" cy="519.12" r="1.3" fill="#fdc010"/>
<circle cx="225.99" cy="518.05" r="1.3" fill="#fdc010"/>
<circle cx="221.31" cy="517.17" r="1.3" fill="#fdc010"/>
<circle cx="223.65" cy="515.67" r="1.3" fill="#fdc010"/>
<circle cx="225.99" cy="514.12" r="1.3" fill="#fdc010"/>
<circle cx="221.31" cy="514.03" r="1.3" fill="#fdc010"/>
<circle cx="223.65" cy="510.92" r="1.3" fill="#fdc010"/>
<circle cx="225.99" cy="509.23" r="1.3" fill="#fdc010"/>
<circle cx="221.31" cy="508.95" r="1.3" fill="#fdc010"/>
<circle cx="229.50" cy="508.88" r="1.3" fill="#fdc010"/>
<circle cx="223.65" cy="507.88" r="1.3" fill="#fdc010"/>
<circle cx="218.97" cy="507.83" r="1.3" fill="#fdc010"/>
<circle cx="227.16" cy="507.01" r="1.3" fill="#fdc010"/>
<circle cx="216.63" cy="506.89" r="1.3" fill="#fdc010"/>
<circle cx="221.31" cy="506.29" r="1.3" fill="#fdc010"/>
<circle cx="223.65" cy="505.39" r="1.3" fill="#fdc010"/>
<circle cx="225.99" cy="504.80" r="1.3" fill="#fdc010"/>
<circle cx="220.14" cy="504.10" r="1.3" fill="#fdc010"/>
<circle cx="228.33" cy="503.67" r="1.3" fill="#fdc010"/>
<circle cx="222.48" cy="503.27" r="1.3" fill="#fdc010"/>
<circle cx="217.80" cy="503.15" r="1.3" fill="#fdc010"/>
<circle cx="224.82" cy="502.61" r="1.3" fill="#fdc010"/>
<circle cx="230.67" cy="502.41" r="1.3" fill="#fdc010"/>
<circle cx="215.46" cy="502.07" r="1.3" fill="#fdc010"/>
<circle cx="220.14" cy="501.62" r="1.3" fill="#fdc010"/>
<circle cx="227.16" cy="501.28" r="1.3" fill="#fdc010"/>
<circle cx="233.01" cy="500.93" r="1.3" fill="#fdc010"/>
<circle cx="222.48" cy="500.60" r="1.3" fill="#fdc010"/>
<circle cx="217.80" cy="500.42" r="1.3" fill="#fdc010"/>
<circle cx="214.29" cy="500.40" r="1.3" fill="#fdc010"/>
<circle cx="224.82" cy="499.49" r="1.3" fill="#fdc010"/>
<circle cx="220.14" cy="499.01" r="1.3" fill="#fdc010"/>
<circle cx="228.33" cy="498.95" r="1.3" fill="#fdc010"/>
<circle cx="222.48" cy="497.63" r="1.3" fill="#fdc010"/>
<circle cx="224.82" cy="497.01" r="1.3" fill="#fdc010"/>
<circle cx="227.16" cy="495.98" r="1.3" fill="#fdc010"/>
<circle cx="223.65" cy="494.63" r="1.3" fill="#fdc010"/>
<circle cx="220.14" cy="494.14" r="1.3" fill="#fdc010"/>
<circle cx="229.50" cy="494.07" r="1.3" fill="#fdc010"/>
<circle cx="224.82" cy="492.30" r="1.3" fill="#fdc010"/>
<circle cx="221.31" cy="491.84" r="1.3" fill="#fdc010"/>
<circle cx="223.65" cy="488.90" r="1.3" fill="#fdc010"/>
<circle cx="227.16" cy="488.75" r="1.3" fill="#fdc010"/>
<circle cx="220.14" cy="488.64" r="1.3" fill="#fdc010"/>
<circle cx="229.50" cy="487.33" r="1.3" fill="#fdc010"/>
<circle cx="224.82" cy="486.79" r="1.3" fill="#fdc010"/>
<circle cx="217.80" cy="486.66" r="1.3" fill="#fdc010"/>
<circle cx="222.48" cy="486.24" r="1.3" fill="#fdc010"/>
<circle cx="227.16" cy="484.92" r="1.3" fill="#fdc010"/>
<circle cx="220.14" cy="484.51" r="1.3" fill="#fdc010"/>
<circle cx="224.82" cy="484.34" r="1.3" fill="#fdc010"/>
<circle cx="222.48" cy="483.51" r="1.3" fill="#fdc010"/>
<circle cx="229.50" cy="483.51" r="1.3" fill="#fdc010"/>
<circle cx="225.99" cy="481.96" r="1.3" fill="#fdc010"/>
<circle cx="220.14" cy="481.60" r="1.3" fill="#fdc010"/>
<circle cx="223.65" cy="480.83" r="1.3" fill="#fdc010"/>
<circle cx="228.33" cy="480.37" r="1.3" fill="#fdc010"/>
<circle cx="217.80" cy="479.88" r="1.3" fill="#fdc010"/>
<circle cx="223.65" cy="478.24" r="1.3" fill="#fdc010"/>
<circle cx="227.16" cy="477.86" r="1.3" fill="#fdc010"/>
<circle cx="221.31" cy="476.26" r="1.3" fill="#fdc010"/>
<circle cx="224.82" cy="475.80" r="1.3" fill="#fdc010"/>
<circle cx="228.33" cy="475.37" r="1.3" fill="#fdc010"/>
<circle cx="218.97" cy="475.06" r="1.3" fill="#fdc010"/>
<circle cx="223.65" cy="473.17" r="1.3" fill="#fdc010"/>
<circle cx="223.65" cy="467.02" r="1.3" fill="#fdc010"/>
<circle cx="227.16" cy="466.65" r="1.3" fill="#fdc010"/>
<circle cx="221.31" cy="465.40" r="1.3" fill="#fdc010"/>
<circle cx="229.50" cy="465.40" r="1.3" fill="#fdc010"/>
<line x1="223.65" y1="527.7" x2="223.65" y2="529.7" stroke="#111" stroke-width="0.8"/>
<text x="223.65" y="536.9000000000001" text-anchor="middle" style="font-family:'Liberation Sans',Arial,sans-serif;font-size:6.0px;font-weight:bold" fill="#222" >R403Q+/-</text>
<path d="M172.3,452.44000000000005 V527.7 H240.3" fill="none" stroke="#111" stroke-width="0.9"/>
<line x1="169.5" y1="527.70" x2="172.3" y2="527.70" stroke="#111" stroke-width="0.8"/>
<text x="169.2" y="529.7" text-anchor="end" style="font-family:'Liberation Sans',Arial,sans-serif;font-size:5.6px;font-weight:bold" fill="#222" >0.8</text>
<line x1="169.5" y1="502.78" x2="172.3" y2="502.78" stroke="#111" stroke-width="0.8"/>
<text x="169.2" y="504.78000000000003" text-anchor="end" style="font-family:'Liberation Sans',Arial,sans-serif;font-size:5.6px;font-weight:bold" fill="#222" >1.0</text>
<line x1="169.5" y1="477.86" x2="172.3" y2="477.86" stroke="#111" stroke-width="0.8"/>
<text x="169.2" y="479.86000000000007" text-anchor="end" style="font-family:'Liberation Sans',Arial,sans-serif;font-size:5.6px;font-weight:bold" fill="#222" >1.2</text>
<line x1="169.5" y1="452.94" x2="172.3" y2="452.94" stroke="#111" stroke-width="0.8"/>
<text x="169.2" y="454.94000000000005" text-anchor="end" style="font-family:'Liberation Sans',Arial,sans-serif;font-size:5.6px;font-weight:bold" fill="#222" >1.4</text>
<path d="M193.2,454 V451 H224.2 V454" fill="none" stroke="#111" stroke-width="0.9"/>
<text x="208.7" y="447.0" text-anchor="middle" style="font-family:'Liberation Sans',Arial,sans-serif;font-size:5.9px" fill="#333" >p=0.049</text>
<text transform="translate(159.9,498.2) rotate(-90)" text-anchor="middle" style="font-family:'Liberation Sans',Arial,sans-serif;font-size:6.9px;font-weight:bold" fill="#111">Ca<tspan font-size="4.6px" dy="-2.6">2+</tspan><tspan dy="2.6"> Release T</tspan><tspan font-size="4.6px" dy="1.5">50</tspan></text>
<rect x="281.7" y="510.38" width="20.90" height="18.22" fill="#fff" stroke="#111" stroke-width="1"/>
<circle cx="292.15" cy="526.17" r="1.3" fill="#2b0b5f"/>
<circle cx="294.49" cy="525.36" r="1.3" fill="#2b0b5f"/>
<circle cx="290.98" cy="524.00" r="1.3" fill="#2b0b5f"/>
<circle cx="296.83" cy="523.74" r="1.3" fill="#2b0b5f"/>
<circle cx="293.32" cy="522.67" r="1.3" fill="#2b0b5f"/>
<circle cx="288.64" cy="522.63" r="1.3" fill="#2b0b5f"/>
<circle cx="299.17" cy="522.15" r="1.3" fill="#2b0b5f"/>
<circle cx="286.30" cy="522.12" r="1.3" fill="#2b0b5f"/>
<circle cx="282.79" cy="521.96" r="1.3" fill="#2b0b5f"/>
<circle cx="290.98" cy="521.43" r="1.3" fill="#2b0b5f"/>
<circle cx="295.66" cy="521.13" r="1.3" fill="#2b0b5f"/>
<circle cx="301.51" cy="521.09" r="1.3" fill="#2b0b5f"/>
<circle cx="292.71" cy="521.04" r="1.3" fill="#2b0b5f"/>
<circle cx="283.39" cy="520.73" r="1.3" fill="#2b0b5f"/>
<circle cx="285.99" cy="520.73" r="1.3" fill="#2b0b5f"/>
<circle cx="288.64" cy="520.12" r="1.3" fill="#2b0b5f"/>
<circle cx="298.00" cy="520.04" r="1.3" fill="#2b0b5f"/>
<circle cx="287.01" cy="519.96" r="1.3" fill="#2b0b5f"/>
<circle cx="282.80" cy="519.94" r="1.3" fill="#2b0b5f"/>
<circle cx="291.43" cy="519.85" r="1.3" fill="#2b0b5f"/>
<circle cx="290.97" cy="519.51" r="1.3" fill="#2b0b5f"/>
<circle cx="298.96" cy="519.26" r="1.3" fill="#2b0b5f"/>
<circle cx="294.49" cy="518.92" r="1.3" fill="#2b0b5f"/>
<circle cx="301.51" cy="518.65" r="1.3" fill="#2b0b5f"/>
<circle cx="296.83" cy="517.90" r="1.3" fill="#2b0b5f"/>
<circle cx="285.13" cy="517.85" r="1.3" fill="#2b0b5f"/>
<circle cx="292.53" cy="517.82" r="1.3" fill="#2b0b5f"/>
<circle cx="288.64" cy="517.71" r="1.3" fill="#2b0b5f"/>
<circle cx="294.94" cy="517.56" r="1.3" fill="#2b0b5f"/>
<circle cx="282.79" cy="517.00" r="1.3" fill="#2b0b5f"/>
<circle cx="299.17" cy="516.84" r="1.3" fill="#2b0b5f"/>
<circle cx="292.15" cy="516.80" r="1.3" fill="#2b0b5f"/>
<circle cx="295.38" cy="516.75" r="1.3" fill="#2b0b5f"/>
<circle cx="291.30" cy="516.68" r="1.3" fill="#2b0b5f"/>
<circle cx="287.74" cy="516.43" r="1.3" fill="#2b0b5f"/>
<circle cx="302.05" cy="516.42" r="1.3" fill="#2b0b5f"/>
<circle cx="302.01" cy="516.33" r="1.3" fill="#2b0b5f"/>
<circle cx="298.92" cy="516.26" r="1.3" fill="#2b0b5f"/>
<circle cx="296.29" cy="516.26" r="1.3" fill="#2b0b5f"/>
<circle cx="288.47" cy="516.26" r="1.3" fill="#2b0b5f"/>
<circle cx="286.77" cy="516.07" r="1.3" fill="#2b0b5f"/>
<circle cx="287.95" cy="515.71" r="1.3" fill="#2b0b5f"/>
<circle cx="283.60" cy="515.22" r="1.3" fill="#2b0b5f"/>
<circle cx="297.45" cy="515.17" r="1.3" fill="#2b0b5f"/>
<circle cx="290.17" cy="515.06" r="1.3" fill="#2b0b5f"/>
<circle cx="299.05" cy="514.94" r="1.3" fill="#2b0b5f"/>
<circle cx="289.89" cy="514.75" r="1.3" fill="#2b0b5f"/>
<circle cx="293.32" cy="514.70" r="1.3" fill="#2b0b5f"/>
<circle cx="301.27" cy="514.65" r="1.3" fill="#2b0b5f"/>
<circle cx="299.06" cy="514.65" r="1.3" fill="#2b0b5f"/>
<circle cx="282.21" cy="514.64" r="1.3" fill="#2b0b5f"/>
<circle cx="286.37" cy="514.56" r="1.3" fill="#2b0b5f"/>
<circle cx="300.31" cy="514.37" r="1.3" fill="#2b0b5f"/>
<circle cx="291.55" cy="514.08" r="1.3" fill="#2b0b5f"/>
<circle cx="301.71" cy="513.84" r="1.3" fill="#2b0b5f"/>
<circle cx="290.11" cy="513.75" r="1.3" fill="#2b0b5f"/>
<circle cx="283.65" cy="513.74" r="1.3" fill="#2b0b5f"/>
<circle cx="294.73" cy="513.68" r="1.3" fill="#2b0b5f"/>
<circle cx="297.69" cy="513.57" r="1.3" fill="#2b0b5f"/>
<circle cx="287.57" cy="513.52" r="1.3" fill="#2b0b5f"/>
<circle cx="283.93" cy="513.48" r="1.3" fill="#2b0b5f"/>
<circle cx="288.82" cy="513.17" r="1.3" fill="#2b0b5f"/>
<circle cx="301.39" cy="513.09" r="1.3" fill="#2b0b5f"/>
<circle cx="297.29" cy="512.78" r="1.3" fill="#2b0b5f"/>
<circle cx="284.55" cy="512.77" r="1.3" fill="#2b0b5f"/>
<circle cx="287.10" cy="512.71" r="1.3" fill="#2b0b5f"/>
<circle cx="284.21" cy="512.67" r="1.3" fill="#2b0b5f"/>
<circle cx="283.39" cy="511.97" r="1.3" fill="#2b0b5f"/>
<circle cx="298.06" cy="511.95" r="1.3" fill="#2b0b5f"/>
<circle cx="285.74" cy="511.92" r="1.3" fill="#2b0b5f"/>
<circle cx="292.15" cy="511.25" r="1.3" fill="#2b0b5f"/>
<circle cx="293.33" cy="511.03" r="1.3" fill="#2b0b5f"/>
<circle cx="289.81" cy="510.70" r="1.3" fill="#2b0b5f"/>
<circle cx="300.34" cy="510.55" r="1.3" fill="#2b0b5f"/>
<circle cx="295.66" cy="510.26" r="1.3" fill="#2b0b5f"/>
<circle cx="287.47" cy="509.95" r="1.3" fill="#2b0b5f"/>
<circle cx="291.10" cy="509.95" r="1.3" fill="#2b0b5f"/>
<circle cx="285.99" cy="509.86" r="1.3" fill="#2b0b5f"/>
<circle cx="296.76" cy="509.84" r="1.3" fill="#2b0b5f"/>
<circle cx="282.79" cy="508.78" r="1.3" fill="#2b0b5f"/>
<circle cx="293.32" cy="508.26" r="1.3" fill="#2b0b5f"/>
<circle cx="290.98" cy="507.25" r="1.3" fill="#2b0b5f"/>
<circle cx="295.66" cy="507.17" r="1.3" fill="#2b0b5f"/>
<circle cx="287.47" cy="507.00" r="1.3" fill="#2b0b5f"/>
<circle cx="299.17" cy="506.97" r="1.3" fill="#2b0b5f"/>
<circle cx="284.81" cy="506.93" r="1.3" fill="#2b0b5f"/>
<circle cx="295.01" cy="506.91" r="1.3" fill="#2b0b5f"/>
<circle cx="284.52" cy="506.66" r="1.3" fill="#2b0b5f"/>
<circle cx="290.57" cy="506.60" r="1.3" fill="#2b0b5f"/>
<circle cx="301.51" cy="506.33" r="1.3" fill="#2b0b5f"/>
<circle cx="286.44" cy="506.33" r="1.3" fill="#2b0b5f"/>
<circle cx="292.15" cy="497.82" r="1.3" fill="#2b0b5f"/>
<circle cx="294.49" cy="496.20" r="1.3" fill="#2b0b5f"/>
<circle cx="292.15" cy="488.10" r="1.3" fill="#2b0b5f"/>
<circle cx="292.15" cy="454.08" r="1.3" fill="#2b0b5f"/>
<line x1="292.15" y1="528.6" x2="292.15" y2="530.6" stroke="#111" stroke-width="0.8"/>
<text x="292.15" y="537.8000000000001" text-anchor="middle" style="font-family:'Liberation Sans',Arial,sans-serif;font-size:6.0px;font-weight:bold" fill="#222" >WT</text>
<rect x="314.4" y="509.97" width="21.30" height="18.63" fill="#fff" stroke="#111" stroke-width="1"/>
<circle cx="325.05" cy="523.36" r="1.3" fill="#fdc010"/>
<circle cx="327.39" cy="521.69" r="1.3" fill="#fdc010"/>
<circle cx="325.05" cy="520.15" r="1.3" fill="#fdc010"/>
<circle cx="322.71" cy="519.47" r="1.3" fill="#fdc010"/>
<circle cx="327.39" cy="518.78" r="1.3" fill="#fdc010"/>
<circle cx="325.05" cy="516.22" r="1.3" fill="#fdc010"/>
<circle cx="327.39" cy="515.54" r="1.3" fill="#fdc010"/>
<circle cx="322.71" cy="515.34" r="1.3" fill="#fdc010"/>
<circle cx="330.90" cy="515.29" r="1.3" fill="#fdc010"/>
<circle cx="319.20" cy="514.98" r="1.3" fill="#fdc010"/>
<circle cx="333.24" cy="514.53" r="1.3" fill="#fdc010"/>
<circle cx="315.69" cy="514.51" r="1.3" fill="#fdc010"/>
<circle cx="320.38" cy="514.44" r="1.3" fill="#fdc010"/>
<circle cx="334.61" cy="514.43" r="1.3" fill="#fdc010"/>
<circle cx="331.21" cy="514.41" r="1.3" fill="#fdc010"/>
<circle cx="321.07" cy="513.88" r="1.3" fill="#fdc010"/>
<circle cx="325.05" cy="513.75" r="1.3" fill="#fdc010"/>
<circle cx="332.86" cy="513.69" r="1.3" fill="#fdc010"/>
<circle cx="327.39" cy="512.83" r="1.3" fill="#fdc010"/>
<circle cx="318.03" cy="512.78" r="1.3" fill="#fdc010"/>
<circle cx="319.18" cy="512.51" r="1.3" fill="#fdc010"/>
<circle cx="322.90" cy="512.47" r="1.3" fill="#fdc010"/>
<circle cx="329.73" cy="512.08" r="1.3" fill="#fdc010"/>
<circle cx="334.41" cy="511.83" r="1.3" fill="#fdc010"/>
<circle cx="315.69" cy="511.64" r="1.3" fill="#fdc010"/>
<circle cx="332.24" cy="511.53" r="1.3" fill="#fdc010"/>
<circle cx="325.05" cy="511.07" r="1.3" fill="#fdc010"/>
<circle cx="327.93" cy="511.06" r="1.3" fill="#fdc010"/>
<circle cx="316.94" cy="511.05" r="1.3" fill="#fdc010"/>
<circle cx="334.98" cy="511.03" r="1.3" fill="#fdc010"/>
<circle cx="319.23" cy="511.03" r="1.3" fill="#fdc010"/>
<circle cx="320.14" cy="510.70" r="1.3" fill="#fdc010"/>
<circle cx="330.59" cy="510.51" r="1.3" fill="#fdc010"/>
<circle cx="321.58" cy="510.49" r="1.3" fill="#fdc010"/>
<circle cx="320.92" cy="509.79" r="1.3" fill="#fdc010"/>
<circle cx="316.39" cy="509.74" r="1.3" fill="#fdc010"/>
<circle cx="316.73" cy="509.62" r="1.3" fill="#fdc010"/>
<circle cx="326.73" cy="509.52" r="1.3" fill="#fdc010"/>
<circle cx="323.88" cy="508.98" r="1.3" fill="#fdc010"/>
<circle cx="333.24" cy="508.88" r="1.3" fill="#fdc010"/>
<circle cx="319.83" cy="508.54" r="1.3" fill="#fdc010"/>
<circle cx="329.73" cy="508.20" r="1.3" fill="#fdc010"/>
<circle cx="327.11" cy="508.04" r="1.3" fill="#fdc010"/>
<circle cx="322.45" cy="508.00" r="1.3" fill="#fdc010"/>
<circle cx="324.10" cy="507.98" r="1.3" fill="#fdc010"/>
<circle cx="334.37" cy="507.63" r="1.3" fill="#fdc010"/>
<circle cx="324.72" cy="507.58" r="1.3" fill="#fdc010"/>
<circle cx="315.69" cy="507.44" r="1.3" fill="#fdc010"/>
<circle cx="326.56" cy="507.38" r="1.3" fill="#fdc010"/>
<circle cx="318.03" cy="506.92" r="1.3" fill="#fdc010"/>
<circle cx="332.49" cy="506.89" r="1.3" fill="#fdc010"/>
<circle cx="318.61" cy="506.35" r="1.3" fill="#fdc010"/>
<circle cx="318.03" cy="506.31" r="1.3" fill="#fdc010"/>
<circle cx="333.34" cy="506.24" r="1.3" fill="#fdc010"/>
<circle cx="331.50" cy="506.08" r="1.3" fill="#fdc010"/>
<circle cx="328.56" cy="506.06" r="1.3" fill="#fdc010"/>
<circle cx="321.54" cy="505.78" r="1.3" fill="#fdc010"/>
<circle cx="325.05" cy="504.15" r="1.3" fill="#fdc010"/>
<circle cx="316.86" cy="504.05" r="1.3" fill="#fdc010"/>
<circle cx="327.39" cy="503.61" r="1.3" fill="#fdc010"/>
<circle cx="322.71" cy="503.37" r="1.3" fill="#fdc010"/>
<circle cx="330.90" cy="503.35" r="1.3" fill="#fdc010"/>
<circle cx="319.20" cy="503.31" r="1.3" fill="#fdc010"/>
<circle cx="333.24" cy="502.83" r="1.3" fill="#fdc010"/>
<circle cx="319.96" cy="502.52" r="1.3" fill="#fdc010"/>
<circle cx="315.69" cy="501.77" r="1.3" fill="#fdc010"/>
<circle cx="325.05" cy="501.27" r="1.3" fill="#fdc010"/>
<circle cx="328.56" cy="501.06" r="1.3" fill="#fdc010"/>
<circle cx="318.03" cy="500.83" r="1.3" fill="#fdc010"/>
<circle cx="322.71" cy="499.90" r="1.3" fill="#fdc010"/>
<circle cx="325.05" cy="494.58" r="1.3" fill="#fdc010"/>
<circle cx="325.05" cy="492.15" r="1.3" fill="#fdc010"/>
<circle cx="325.05" cy="489.72" r="1.3" fill="#fdc010"/>
<circle cx="327.39" cy="488.10" r="1.3" fill="#fdc010"/>
<circle cx="325.05" cy="471.90" r="1.3" fill="#fdc010"/>
<circle cx="325.05" cy="467.85" r="1.3" fill="#fdc010"/>
<line x1="325.04999999999995" y1="528.6" x2="325.04999999999995" y2="530.6" stroke="#111" stroke-width="0.8"/>
<text x="325.04999999999995" y="537.8000000000001" text-anchor="middle" style="font-family:'Liberation Sans',Arial,sans-serif;font-size:6.0px;font-weight:bold" fill="#222" >R403Q+/-</text>
<path d="M269.8,451.5 V528.6 H342.2" fill="none" stroke="#111" stroke-width="0.9"/>
<line x1="267.0" y1="528.60" x2="269.8" y2="528.60" stroke="#111" stroke-width="0.8"/>
<text x="266.0" y="530.6" text-anchor="end" style="font-family:'Liberation Sans',Arial,sans-serif;font-size:5.6px;font-weight:bold" fill="#222" >0.8</text>
<line x1="267.0" y1="512.40" x2="269.8" y2="512.40" stroke="#111" stroke-width="0.8"/>
<text x="266.0" y="514.4" text-anchor="end" style="font-family:'Liberation Sans',Arial,sans-serif;font-size:5.6px;font-weight:bold" fill="#222" >1.0</text>
<line x1="267.0" y1="496.20" x2="269.8" y2="496.20" stroke="#111" stroke-width="0.8"/>
<text x="266.0" y="498.20000000000005" text-anchor="end" style="font-family:'Liberation Sans',Arial,sans-serif;font-size:5.6px;font-weight:bold" fill="#222" >1.2</text>
<line x1="267.0" y1="480.00" x2="269.8" y2="480.00" stroke="#111" stroke-width="0.8"/>
<text x="266.0" y="482.00000000000006" text-anchor="end" style="font-family:'Liberation Sans',Arial,sans-serif;font-size:5.6px;font-weight:bold" fill="#222" >1.4</text>
<line x1="267.0" y1="463.80" x2="269.8" y2="463.80" stroke="#111" stroke-width="0.8"/>
<text x="266.0" y="465.8" text-anchor="end" style="font-family:'Liberation Sans',Arial,sans-serif;font-size:5.6px;font-weight:bold" fill="#222" >1.6</text>
<path d="M291.7,465.7 V462.7 H325.6 V465.7" fill="none" stroke="#111" stroke-width="0.9"/>
<text x="308.65" y="458.7" text-anchor="middle" style="font-family:'Liberation Sans',Arial,sans-serif;font-size:5.9px" fill="#333" >p=0.045</text>
<text transform="translate(254.8,493) rotate(-90)" text-anchor="middle" style="font-family:'Liberation Sans',Arial,sans-serif;font-size:7.2px;font-weight:bold" fill="#111">Ca<tspan font-size="4.6px" dy="-2.6">2+</tspan><tspan dy="2.6"> Re-uptake T</tspan><tspan font-size="4.6px" dy="1.5">50</tspan></text>
<rect x="382.9" y="519.09" width="22.90" height="9.41" fill="#fff" stroke="#111" stroke-width="1"/>
<circle cx="394.35" cy="526.22" r="1.3" fill="#2b0b5f"/>
<circle cx="396.69" cy="525.53" r="1.3" fill="#2b0b5f"/>
<circle cx="392.01" cy="525.53" r="1.3" fill="#2b0b5f"/>
<circle cx="400.20" cy="525.53" r="1.3" fill="#2b0b5f"/>
<circle cx="388.50" cy="525.53" r="1.3" fill="#2b0b5f"/>
<circle cx="402.54" cy="523.84" r="1.3" fill="#2b0b5f"/>
<circle cx="386.16" cy="523.84" r="1.3" fill="#2b0b5f"/>
<circle cx="394.35" cy="521.56" r="1.3" fill="#2b0b5f"/>
<circle cx="397.86" cy="521.56" r="1.3" fill="#2b0b5f"/>
<circle cx="392.01" cy="520.87" r="1.3" fill="#2b0b5f"/>
<circle cx="389.67" cy="519.58" r="1.3" fill="#2b0b5f"/>
<circle cx="400.20" cy="519.58" r="1.3" fill="#2b0b5f"/>
<circle cx="386.16" cy="519.58" r="1.3" fill="#2b0b5f"/>
<circle cx="403.71" cy="519.58" r="1.3" fill="#2b0b5f"/>
<circle cx="394.35" cy="516.61" r="1.3" fill="#2b0b5f"/>
<circle cx="396.69" cy="515.32" r="1.3" fill="#2b0b5f"/>
<circle cx="392.01" cy="515.32" r="1.3" fill="#2b0b5f"/>
<circle cx="394.35" cy="512.15" r="1.3" fill="#2b0b5f"/>
<circle cx="397.86" cy="511.85" r="1.3" fill="#2b0b5f"/>
<circle cx="394.35" cy="506.90" r="1.3" fill="#2b0b5f"/>
<circle cx="397.86" cy="506.40" r="1.3" fill="#2b0b5f"/>
<circle cx="390.84" cy="506.40" r="1.3" fill="#2b0b5f"/>
<line x1="394.35" y1="528.5" x2="394.35" y2="530.5" stroke="#111" stroke-width="0.8"/>
<text x="394.35" y="537.7" text-anchor="middle" style="font-family:'Liberation Sans',Arial,sans-serif;font-size:6.0px;font-weight:bold" fill="#222" >WT</text>
<rect x="418.3" y="508.18" width="22.90" height="20.32" fill="#fff" stroke="#111" stroke-width="1"/>
<circle cx="429.75" cy="524.54" r="1.3" fill="#fdc010"/>
<circle cx="429.75" cy="520.87" r="1.3" fill="#fdc010"/>
<circle cx="432.09" cy="519.09" r="1.3" fill="#fdc010"/>
<circle cx="427.41" cy="518.79" r="1.3" fill="#fdc010"/>
<circle cx="435.60" cy="518.79" r="1.3" fill="#fdc010"/>
<circle cx="429.75" cy="517.00" r="1.3" fill="#fdc010"/>
<circle cx="432.09" cy="516.31" r="1.3" fill="#fdc010"/>
<circle cx="428.58" cy="514.82" r="1.3" fill="#fdc010"/>
<circle cx="434.43" cy="514.82" r="1.3" fill="#fdc010"/>
<circle cx="429.75" cy="512.15" r="1.3" fill="#fdc010"/>
<circle cx="429.75" cy="507.69" r="1.3" fill="#fdc010"/>
<circle cx="433.26" cy="507.69" r="1.3" fill="#fdc010"/>
<circle cx="427.41" cy="505.71" r="1.3" fill="#fdc010"/>
<circle cx="429.75" cy="503.92" r="1.3" fill="#fdc010"/>
<circle cx="429.75" cy="499.27" r="1.3" fill="#fdc010"/>
<circle cx="429.75" cy="493.32" r="1.3" fill="#fdc010"/>
<circle cx="433.26" cy="492.82" r="1.3" fill="#fdc010"/>
<circle cx="429.75" cy="489.36" r="1.3" fill="#fdc010"/>
<circle cx="429.75" cy="465.08" r="1.3" fill="#fdc010"/>
<line x1="429.75" y1="528.5" x2="429.75" y2="530.5" stroke="#111" stroke-width="0.8"/>
<text x="429.75" y="537.7" text-anchor="middle" style="font-family:'Liberation Sans',Arial,sans-serif;font-size:6.0px;font-weight:bold" fill="#222" >R403Q+/-</text>
<path d="M369.9,448.72 V528.5 H447.7" fill="none" stroke="#111" stroke-width="0.9"/>
<line x1="367.09999999999997" y1="528.50" x2="369.9" y2="528.50" stroke="#111" stroke-width="0.8"/>
<text x="365.6" y="530.5" text-anchor="end" style="font-family:'Liberation Sans',Arial,sans-serif;font-size:5.6px;font-weight:bold" fill="#222" >0</text>
<line x1="367.09999999999997" y1="508.68" x2="369.9" y2="508.68" stroke="#111" stroke-width="0.8"/>
<text x="365.6" y="510.68" text-anchor="end" style="font-family:'Liberation Sans',Arial,sans-serif;font-size:5.6px;font-weight:bold" fill="#222" >2</text>
<line x1="367.09999999999997" y1="488.86" x2="369.9" y2="488.86" stroke="#111" stroke-width="0.8"/>
<text x="365.6" y="490.86" text-anchor="end" style="font-family:'Liberation Sans',Arial,sans-serif;font-size:5.6px;font-weight:bold" fill="#222" >4</text>
<line x1="367.09999999999997" y1="469.04" x2="369.9" y2="469.04" stroke="#111" stroke-width="0.8"/>
<text x="365.6" y="471.04" text-anchor="end" style="font-family:'Liberation Sans',Arial,sans-serif;font-size:5.6px;font-weight:bold" fill="#222" >6</text>
<line x1="367.09999999999997" y1="449.22" x2="369.9" y2="449.22" stroke="#111" stroke-width="0.8"/>
<text x="365.6" y="451.22" text-anchor="end" style="font-family:'Liberation Sans',Arial,sans-serif;font-size:5.6px;font-weight:bold" fill="#222" >8</text>
<path d="M394.4,460.5 V457.5 H430 V460.5" fill="none" stroke="#111" stroke-width="0.9"/>
<text x="412.2" y="453.5" text-anchor="middle" style="font-family:'Liberation Sans',Arial,sans-serif;font-size:5.9px" fill="#333" >p=0.005</text>
<text transform="translate(360.2,489.2) rotate(-90)" text-anchor="middle" style="font-family:'Liberation Sans',Arial,sans-serif;font-size:7.3px;font-weight:bold" fill="#111">Relative SR Ca<tspan font-size="4.6px" dy="-2.6">2+</tspan><tspan dy="2.6"> Storage</tspan></text>
</svg>
</body></html>
